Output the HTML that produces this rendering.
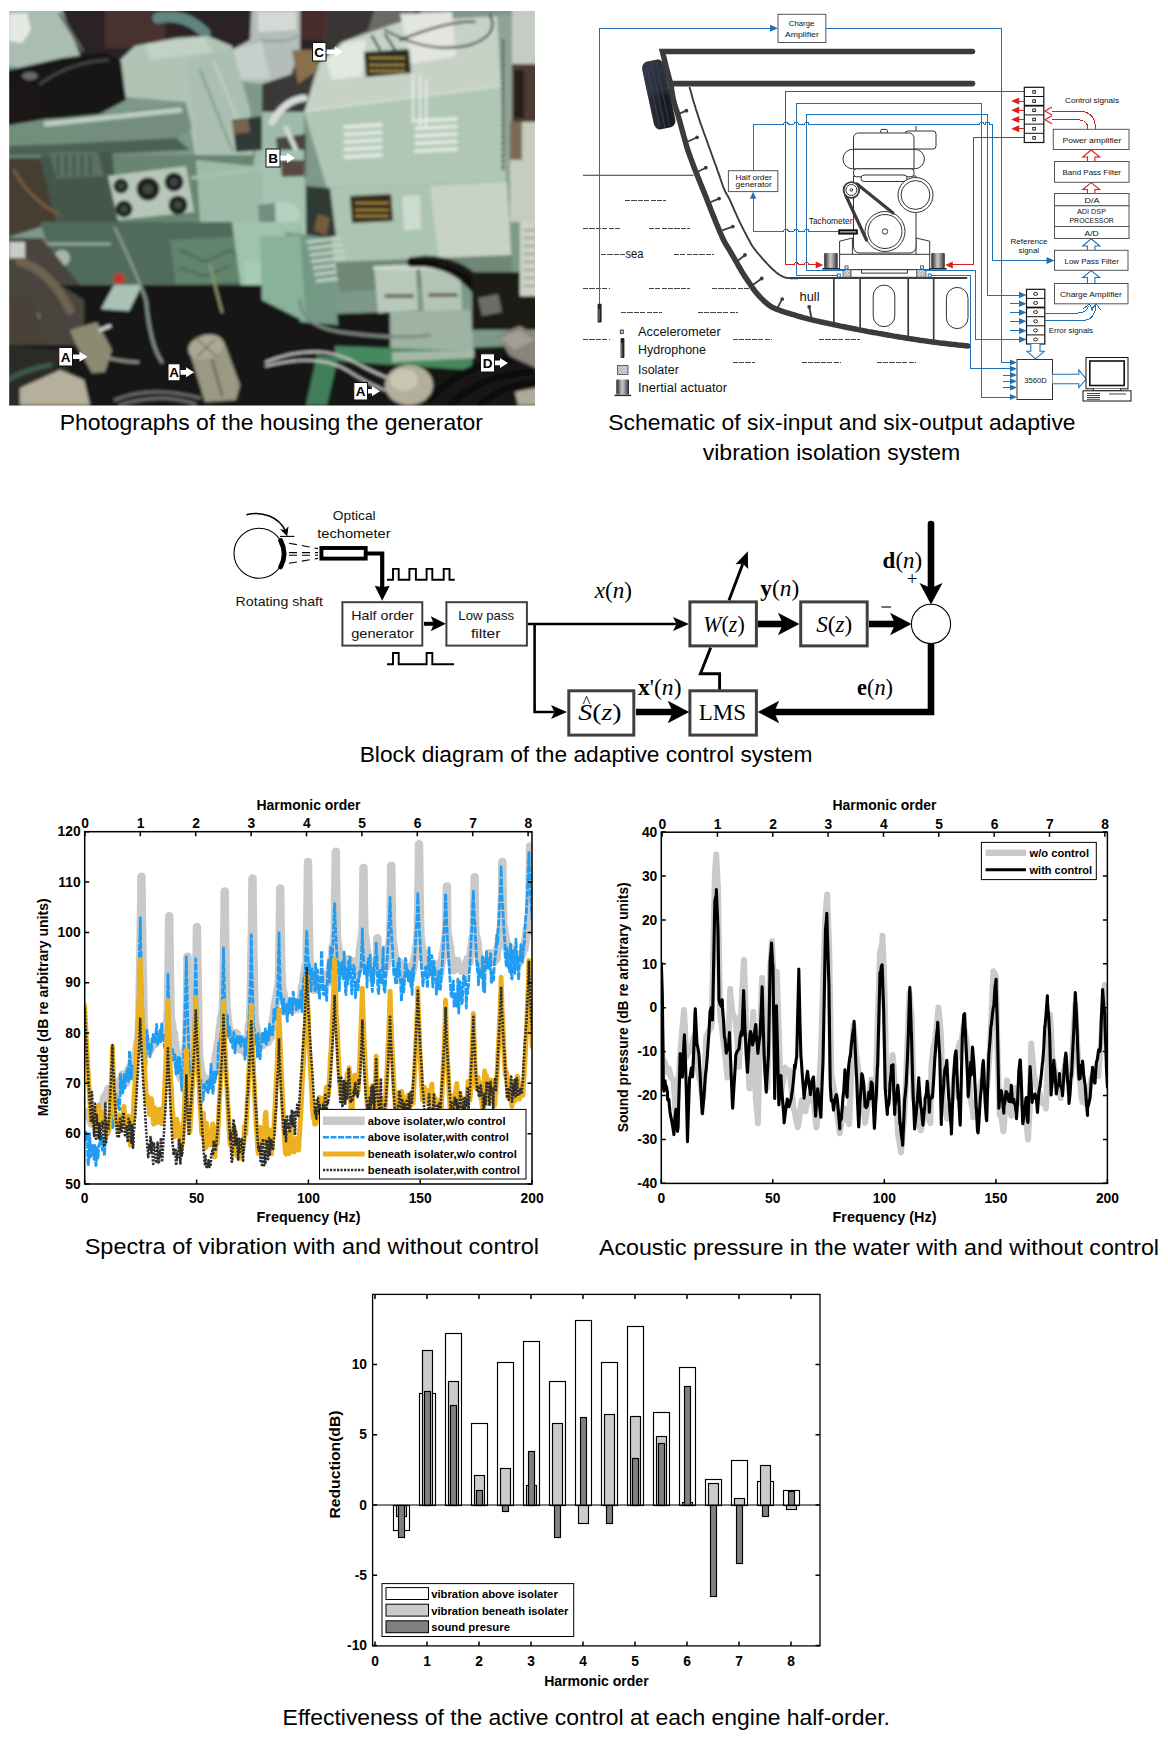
<!DOCTYPE html>
<html lang="en"><head><meta charset="utf-8"><title>Adaptive vibration isolation figure</title>
<style>
html,body{margin:0;padding:0;background:#fff;}
body{width:1168px;height:1738px;overflow:hidden;font-family:"Liberation Sans",sans-serif;}
svg{display:block}
text{font-family:"Liberation Sans",sans-serif;}
.ser{font-family:"Liberation Serif",serif;}
</style></head><body>
<svg width="1168" height="1738" viewBox="0 0 1168 1738">
<rect width="1168" height="1738" fill="#fff"/>
<!-- photo -->
<defs><clipPath id="phclip"><rect x="9.2" y="11" width="525.8" height="394.5"/></clipPath>
<filter id="phb" x="-5%" y="-5%" width="110%" height="110%"><feGaussianBlur stdDeviation="1.7"/><feColorMatrix type="saturate" values="0.92"/></filter>
<filter id="phb2" x="-5%" y="-5%" width="110%" height="110%"><feGaussianBlur stdDeviation="0.8"/></filter></defs>
<g clip-path="url(#phclip)">
<g filter="url(#phb)">
<rect x="0.0" y="0.0" width="545.0" height="415.0" fill="#7b9a88" />
<rect x="50.0" y="0.0" width="370.0" height="62.0" fill="#2c2426" />
<rect x="105.0" y="8.0" width="60.0" height="40.0" fill="#48302f" />
<rect x="300.0" y="8.0" width="30.0" height="32.0" fill="#4a2c2c" />
<polygon points="328.0,8.0 420.0,8.0 400.0,24.0 345.0,42.0 322.0,50.0" fill="#6a6a66" />
<polygon points="328.0,8.0 375.0,8.0 368.0,30.0 340.0,44.0 322.0,50.0" fill="#3a3434" />
<polygon points="0.0,0.0 58.0,0.0 80.0,55.0 72.0,78.0 30.0,72.0 0.0,62.0" fill="#a9bdb0" />
<polygon points="9.0,14.0 27.0,13.0 31.0,30.0 22.0,43.0 9.0,41.0" fill="#e2eae3" />
<path d="M60 14 L82 50" fill="none" stroke="#5a6a60" stroke-width="3.0" stroke-linecap="round" stroke-linejoin="round" />
<path d="M158 18 Q185 12 205 33" fill="none" stroke="#5e8580" stroke-width="11.0" stroke-linecap="round" stroke-linejoin="round" />
<polygon points="252.0,0.0 300.0,0.0 300.0,50.0 290.0,75.0 262.0,84.0 232.0,80.0 228.0,52.0 250.0,40.0" fill="#b3bdb8" />
<polygon points="258.0,12.0 296.0,12.0 296.0,30.0 258.0,32.0" fill="#d3dad6" />
<path d="M262 40 Q285 44 298 36" fill="none" stroke="#8d9893" stroke-width="2.0" stroke-linecap="round" stroke-linejoin="round" />
<polygon points="232.0,50.0 262.0,42.0 270.0,78.0 236.0,80.0" fill="#c6cfca" />
<polygon points="262.0,84.0 292.0,74.0 300.0,50.0 318.0,62.0 304.0,112.0 262.0,112.0" fill="#3a3838" />
<polygon points="292.0,50.0 314.0,50.0 318.0,70.0 298.0,84.0" fill="#8c6e4a" />
<polygon points="118.0,62.0 135.0,46.0 176.0,38.0 208.0,36.0 232.0,46.0 250.0,110.0 253.0,166.0 214.0,172.0 196.0,160.0 186.0,102.0 126.0,97.0" fill="#afc4b5" />
<polygon points="145.0,44.0 205.0,37.0 212.0,52.0 150.0,60.0" fill="#c0d2c4" />
<polygon points="186.0,60.0 232.0,50.0 250.0,112.0 252.0,165.0 215.0,170.0 198.0,158.0" fill="#a9c0b0" />
<path d="M200 70 L232 150" fill="none" stroke="#86a090" stroke-width="2.5" stroke-linecap="round" stroke-linejoin="round" />
<path d="M214 62 L246 140" fill="none" stroke="#b9cdbd" stroke-width="3.0" stroke-linecap="round" stroke-linejoin="round" />
<polygon points="0.0,72.0 40.0,63.0 62.0,58.0 106.0,52.0 121.0,61.0 126.0,100.0 96.0,116.0 46.0,119.0 0.0,127.0" fill="#141414" />
<path d="M40 84 Q70 62 108 60" fill="none" stroke="#4a4a4a" stroke-width="2.5" stroke-linecap="round" stroke-linejoin="round" />
<ellipse cx="30.0" cy="76.0" rx="8.0" ry="4.0" fill="#6a6a6a" />
<polygon points="0.0,90.0 36.0,84.0 44.0,118.0 0.0,126.0" fill="#1b1412" />
<polygon points="0.0,128.0 46.0,120.0 100.0,114.0 186.0,104.0 192.0,128.0 175.0,140.0 60.0,146.0 0.0,150.0" fill="#728f7d" />
<path d="M46 124 L180 110" fill="none" stroke="#bcd0c2" stroke-width="5.0" stroke-linecap="round" stroke-linejoin="round" />
<polygon points="0.0,146.0 60.0,144.0 176.0,138.0 190.0,150.0 0.0,160.0" fill="#4a6254" />
<rect x="0.0" y="155.0" width="300.0" height="70.0" fill="#65856f" />
<polygon points="40.0,156.0 112.0,152.0 120.0,236.0 56.0,238.0" fill="#42574a" />
<polygon points="50.0,152.0 98.0,152.0 104.0,176.0 56.0,178.0" fill="#587262" />
<path d="M58 156 V174 M66 156 V174 M74 156 V174 M82 156 V174 M90 156 V174" fill="none" stroke="#3f5548" stroke-width="2.5" stroke-linecap="round" stroke-linejoin="round" />
<polygon points="196.0,160.0 253.0,166.0 262.0,112.0 304.0,112.0 300.0,222.0 200.0,222.0" fill="#9bbca8" />
<polygon points="232.0,120.0 262.0,116.0 262.0,150.0 236.0,152.0" fill="#2f3a36" />
<polygon points="232.0,122.0 248.0,118.0 250.0,132.0 234.0,134.0" fill="#7a6250" />
<polygon points="0.0,158.0 40.0,158.0 56.0,222.0 0.0,240.0" fill="#463c30" />
<path d="M14 170 Q30 200 60 215" fill="none" stroke="#7a5a40" stroke-width="3.0" stroke-linecap="round" stroke-linejoin="round" />
<polygon points="108.0,176.0 186.0,166.0 194.0,212.0 118.0,220.0" fill="#b5c8b8" />
<ellipse cx="121.0" cy="186.0" rx="7.5" ry="7.5" fill="#1a1e1c" />
<ellipse cx="121.0" cy="186.0" rx="3.4" ry="3.4" fill="#3d4642" />
<ellipse cx="148.0" cy="189.0" rx="11.5" ry="11.5" fill="#1a1e1c" />
<ellipse cx="148.0" cy="189.0" rx="5.2" ry="5.2" fill="#3d4642" />
<ellipse cx="174.0" cy="182.0" rx="9.5" ry="9.5" fill="#1a1e1c" />
<ellipse cx="174.0" cy="182.0" rx="4.3" ry="4.3" fill="#3d4642" />
<ellipse cx="124.0" cy="209.0" rx="8.5" ry="8.5" fill="#1a1e1c" />
<ellipse cx="124.0" cy="209.0" rx="3.8" ry="3.8" fill="#3d4642" />
<ellipse cx="178.0" cy="205.0" rx="9.5" ry="9.5" fill="#1a1e1c" />
<ellipse cx="178.0" cy="205.0" rx="4.3" ry="4.3" fill="#3d4642" />
<path d="M192 178 L262 168" fill="none" stroke="#a9c2b0" stroke-width="3.0" stroke-linecap="round" stroke-linejoin="round" />
<polygon points="320.0,62.0 342.0,42.0 400.0,22.0 500.0,16.0 508.0,84.0 305.0,111.0" fill="#c6d2c5" />
<polygon points="326.0,60.0 346.0,42.0 366.0,40.0 362.0,76.0 332.0,80.0" fill="#e0e8e0" />
<polygon points="400.0,14.0 452.0,12.0 456.0,56.0 412.0,64.0" fill="#e3e5df" />
<polygon points="364.0,52.0 409.0,49.0 411.0,73.0 366.0,77.0" fill="#2c291b" />
<path d="M370 58 H405 M370 65 H405 M370 71 H405" fill="none" stroke="#a89338" stroke-width="2.2" stroke-linecap="round" stroke-linejoin="round" stroke-dasharray="4 2"/>
<polygon points="304.0,111.0 508.0,84.0 507.0,181.0 327.0,188.0" fill="#aec7b5" />
<path d="M306 111 L507 85" fill="none" stroke="#cfdccf" stroke-width="2.5" stroke-linecap="round" stroke-linejoin="round" />
<path d="M345.0 127.0 L381.0 125.0" fill="none" stroke="#e0e9df" stroke-width="4.0" stroke-linecap="round" stroke-linejoin="round" />
<path d="M345.0 134.5 L381.0 132.5" fill="none" stroke="#e0e9df" stroke-width="4.0" stroke-linecap="round" stroke-linejoin="round" />
<path d="M345.0 142.0 L381.0 140.0" fill="none" stroke="#e0e9df" stroke-width="4.0" stroke-linecap="round" stroke-linejoin="round" />
<path d="M345.0 149.5 L381.0 147.5" fill="none" stroke="#e0e9df" stroke-width="4.0" stroke-linecap="round" stroke-linejoin="round" />
<path d="M345.0 157.0 L381.0 155.0" fill="none" stroke="#e0e9df" stroke-width="4.0" stroke-linecap="round" stroke-linejoin="round" />
<path d="M416.0 121.0 L456.0 119.0" fill="none" stroke="#e0e9df" stroke-width="4.0" stroke-linecap="round" stroke-linejoin="round" />
<path d="M416.0 128.5 L456.0 126.5" fill="none" stroke="#e0e9df" stroke-width="4.0" stroke-linecap="round" stroke-linejoin="round" />
<path d="M416.0 136.0 L456.0 134.0" fill="none" stroke="#e0e9df" stroke-width="4.0" stroke-linecap="round" stroke-linejoin="round" />
<path d="M416.0 143.5 L456.0 141.5" fill="none" stroke="#e0e9df" stroke-width="4.0" stroke-linecap="round" stroke-linejoin="round" />
<path d="M416.0 151.0 L456.0 149.0" fill="none" stroke="#e0e9df" stroke-width="4.0" stroke-linecap="round" stroke-linejoin="round" />
<path d="M413 75 V122 M420 75 V126 M426 80 V128" fill="none" stroke="#e8ece6" stroke-width="2.0" stroke-linecap="round" stroke-linejoin="round" />
<path d="M385 30 Q430 55 470 45 Q500 35 490 15 M400 40 Q450 20 475 22 M385 34 L395 50 M372 36 L380 50" fill="none" stroke="#1e1a18" stroke-width="2.0" stroke-linecap="round" stroke-linejoin="round" />
<polygon points="497.0,16.0 512.0,14.0 512.0,180.0 506.0,182.0" fill="#8fa394" />
<path d="M503 40 V170" fill="none" stroke="#4f5f55" stroke-width="2.5" stroke-linecap="round" stroke-linejoin="round" stroke-dasharray="3 3"/>
<rect x="512.0" y="0.0" width="33.0" height="64.0" fill="#c4ccc2" />
<rect x="512.0" y="64.0" width="33.0" height="58.0" fill="#4d3a2e" />
<rect x="514.0" y="70.0" width="10.0" height="48.0" fill="#2a1c18" />
<rect x="510.0" y="122.0" width="35.0" height="100.0" fill="#c6ccbe" />
<rect x="510.0" y="122.0" width="12.0" height="38.0" fill="#7a6a55" />
<polygon points="327.0,188.0 507.0,181.0 512.0,275.0 335.0,272.0" fill="#aac4b1" />
<polygon points="430.0,186.0 507.0,182.0 512.0,270.0 440.0,268.0" fill="#c8d3c6" />
<polygon points="350.0,196.0 391.0,194.0 393.0,221.0 352.0,223.0" fill="#3a2b18" />
<path d="M356 203 H388 M356 210 H388 M356 216 H388" fill="none" stroke="#a58a3a" stroke-width="2.2" stroke-linecap="round" stroke-linejoin="round" />
<polygon points="402.0,196.0 420.0,195.0 421.0,229.0 404.0,231.0" fill="#cddccf" />
<polygon points="306.0,186.0 330.0,188.0 336.0,236.0 306.0,240.0" fill="#2e3a34" />
<polygon points="276.0,138.0 306.0,134.0 306.0,178.0 280.0,180.0" fill="#4a4540" />
<path d="M272 122 Q285 100 304 98" fill="none" stroke="#d5ddd7" stroke-width="7.0" stroke-linecap="round" stroke-linejoin="round" />
<path d="M286 128 L296 150" fill="none" stroke="#cfd8d2" stroke-width="5.0" stroke-linecap="round" stroke-linejoin="round" />
<polygon points="262.0,150.0 304.0,150.0 306.0,236.0 262.0,236.0" fill="#a2c4b0" />
<polygon points="280.0,160.0 304.0,160.0 304.0,176.0 282.0,177.0" fill="#5a4a40" />
<ellipse cx="282.0" cy="214.0" rx="18.0" ry="12.0" fill="#b5d2c0" />
<polygon points="258.0,205.0 275.0,203.0 276.0,230.0 260.0,232.0" fill="#6f8f7e" />
<polygon points="318.0,214.0 330.0,218.0 326.0,236.0 314.0,230.0" fill="#7a5a3a" />
<polygon points="40.0,222.0 300.0,222.0 300.0,285.0 60.0,285.0" fill="#4d6c5a" />
<polygon points="170.0,240.0 250.0,236.0 250.0,282.0 176.0,284.0" fill="#5f846c" />
<path d="M180 250 L205 262 L230 250 L245 262 M180 268 L205 276 L230 266" fill="none" stroke="#486856" stroke-width="2.0" stroke-linecap="round" stroke-linejoin="round" />
<polygon points="232.0,222.0 300.0,222.0 296.0,312.0 244.0,310.0" fill="#9cc4ac" />
<polygon points="244.0,262.0 272.0,262.0 270.0,312.0 248.0,312.0" fill="#a5ccb4" />
<path d="M40 244 H110" fill="none" stroke="#9ab0a2" stroke-width="2.5" stroke-linecap="round" stroke-linejoin="round" />
<ellipse cx="62.0" cy="258.0" rx="8.0" ry="8.0" fill="#a8b5a8" />
<polygon points="0.0,238.0 42.0,238.0 84.0,290.0 84.0,345.0 0.0,345.0" fill="#4a453c" />
<rect x="9.0" y="242.0" width="16.0" height="16.0" fill="#c5cdc5" />
<path d="M20 262 Q50 270 70 310" fill="none" stroke="#6e6250" stroke-width="9.0" stroke-linecap="round" stroke-linejoin="round" />
<ellipse cx="30.0" cy="318.0" rx="10.0" ry="8.0" fill="#9a9382" />
<polygon points="0.0,300.0 30.0,296.0 50.0,345.0 0.0,350.0" fill="#4a4238" />
<polygon points="60.0,285.0 300.0,285.0 300.0,315.0 390.0,312.0 390.0,350.0 545.0,345.0 545.0,415.0 0.0,415.0 0.0,345.0 84.0,345.0 84.0,300.0" fill="#191919" />
<polygon points="114.0,285.0 142.0,285.0 129.0,311.0 101.0,309.0" fill="#a9c2b5" />
<ellipse cx="119.0" cy="279.0" rx="6.0" ry="6.0" fill="#c0302a" />
<path d="M115 228 Q135 270 146 300 Q150 345 162 362" fill="none" stroke="#84958a" stroke-width="3.0" stroke-linecap="round" stroke-linejoin="round" />
<path d="M210 265 Q216 290 222 312" fill="none" stroke="#8a9a6a" stroke-width="2.5" stroke-linecap="round" stroke-linejoin="round" />
<polygon points="70.0,330.0 97.0,322.0 112.0,350.0 105.0,372.0 92.0,373.0 75.0,343.0" fill="#8d8a70" />
<path d="M100 330 L110 326" fill="none" stroke="#d8dcd5" stroke-width="3.0" stroke-linecap="round" stroke-linejoin="round" />
<path d="M108 358 Q125 362 138 362" fill="none" stroke="#9a9a90" stroke-width="2.5" stroke-linecap="round" stroke-linejoin="round" />
<polygon points="189.0,350.0 224.0,342.0 240.0,385.0 236.0,400.0 205.0,402.0" fill="#9a9a80" />
<ellipse cx="206.0" cy="347.0" rx="18.0" ry="12.0" fill="#a9a992" transform="rotate(-15 206 347)"/>
<path d="M196 338 L216 356 M198 356 L214 340" fill="none" stroke="#6f6f5c" stroke-width="1.5" stroke-linecap="round" stroke-linejoin="round" />
<path d="M212 360 L222 395" fill="none" stroke="#5a5a48" stroke-width="2.0" stroke-linecap="round" stroke-linejoin="round" />
<polygon points="0.0,345.0 60.0,350.0 84.0,405.0 0.0,405.0" fill="#2c2b26" />
<polygon points="20.0,388.0 60.0,370.0 84.0,380.0 90.0,405.0 20.0,405.0" fill="#b5b09a" />
<path d="M0 385 Q20 370 50 365" fill="none" stroke="#3a5a48" stroke-width="5.0" stroke-linecap="round" stroke-linejoin="round" />
<path d="M115 400 Q150 385 200 398 M120 405 Q160 392 195 404" fill="none" stroke="#6d6d6a" stroke-width="3.0" stroke-linecap="round" stroke-linejoin="round" />
<polygon points="285.0,232.0 330.0,238.0 338.0,325.0 300.0,322.0" fill="#6f9a84" />
<polygon points="260.0,236.0 300.0,236.0 306.0,322.0 262.0,300.0" fill="#86b29a" />
<path d="M308.0 242.0 L340.0 238.0" fill="none" stroke="#c3d3c5" stroke-width="3.2" stroke-linecap="round" stroke-linejoin="round" />
<path d="M309.5 248.5 L341.5 244.5" fill="none" stroke="#c3d3c5" stroke-width="3.2" stroke-linecap="round" stroke-linejoin="round" />
<path d="M311.0 255.0 L343.0 251.0" fill="none" stroke="#c3d3c5" stroke-width="3.2" stroke-linecap="round" stroke-linejoin="round" />
<path d="M312.5 261.5 L344.5 257.5" fill="none" stroke="#c3d3c5" stroke-width="3.2" stroke-linecap="round" stroke-linejoin="round" />
<path d="M314.0 268.0 L346.0 264.0" fill="none" stroke="#c3d3c5" stroke-width="3.2" stroke-linecap="round" stroke-linejoin="round" />
<path d="M315.5 274.5 L347.5 270.5" fill="none" stroke="#c3d3c5" stroke-width="3.2" stroke-linecap="round" stroke-linejoin="round" />
<path d="M317.0 281.0 L349.0 277.0" fill="none" stroke="#c3d3c5" stroke-width="3.2" stroke-linecap="round" stroke-linejoin="round" />
<polygon points="335.0,262.0 512.0,255.0 512.0,282.0 340.0,292.0" fill="#6c8775" />
<polygon points="374.0,266.0 416.0,264.0 418.0,310.0 378.0,313.0" fill="#b7c9ba" />
<polygon points="420.0,266.0 460.0,264.0 462.0,310.0 424.0,312.0" fill="#b2c5b5" />
<path d="M386 296 H412 M430 295 H456" fill="none" stroke="#6a6a58" stroke-width="4.0" stroke-linecap="round" stroke-linejoin="round" />
<path d="M374 268 H460" fill="none" stroke="#d5e0d6" stroke-width="2.5" stroke-linecap="round" stroke-linejoin="round" />
<polygon points="390.0,312.0 470.0,310.0 474.0,352.0 392.0,356.0" fill="#9cb4a2" />
<path d="M412 262 Q450 260 472 285 Q492 308 520 318" fill="none" stroke="#0f0f0f" stroke-width="10.0" stroke-linecap="round" stroke-linejoin="round" />
<path d="M440 262 Q470 268 488 290 Q505 312 530 322" fill="none" stroke="#161616" stroke-width="6.0" stroke-linecap="round" stroke-linejoin="round" />
<path d="M420 258 Q455 256 480 280" fill="none" stroke="#1a1a1a" stroke-width="4.0" stroke-linecap="round" stroke-linejoin="round" />
<rect x="472.0" y="272.0" width="73.0" height="58.0" fill="#1c1a18" />
<rect x="520.0" y="222.0" width="25.0" height="74.0" fill="#cdd4c4" />
<path d="M524 230 H540 M524 238 H540 M524 246 H540 M524 254 H540 M524 262 H540 M524 270 H540 M524 278 H540 M524 286 H540" fill="none" stroke="#98a090" stroke-width="2.0" stroke-linecap="round" stroke-linejoin="round" />
<polygon points="478.0,298.0 498.0,294.0 502.0,312.0 482.0,316.0" fill="#6a6e66" />
<polygon points="335.0,346.0 472.0,351.0 472.0,370.0 335.0,361.0" fill="#3f8a5c" />
<polygon points="317.0,355.0 338.0,357.0 327.0,405.0 306.0,405.0" fill="#3a8055" />
<polygon points="392.0,352.0 474.0,350.0 474.0,358.0 392.0,362.0" fill="#a5b8a8" />
<path d="M300 300 Q300 325 340 332 Q400 340 430 335" fill="none" stroke="#7d8a80" stroke-width="3.0" stroke-linecap="round" stroke-linejoin="round" />
<path d="M266 362 Q320 340 360 365 Q385 378 395 380 M266 366 Q320 352 350 372 Q375 388 392 392" fill="none" stroke="#cfd3cc" stroke-width="2.0" stroke-linecap="round" stroke-linejoin="round" />
<ellipse cx="409.0" cy="385.0" rx="24.0" ry="20.0" fill="#b3af98" />
<ellipse cx="404.0" cy="380.0" rx="14.0" ry="11.0" fill="#c8c5b0" />
<polygon points="497.0,335.0 520.0,326.0 545.0,340.0 545.0,372.0 510.0,356.0" fill="#8a857a" />
<polygon points="500.0,338.0 519.0,330.0 535.0,340.0 514.0,350.0" fill="#a39e92" />
<path d="M430 400 Q460 365 510 360 M450 405 Q480 375 530 372 M480 405 Q500 385 540 382" fill="none" stroke="#0c0c0c" stroke-width="7.0" stroke-linecap="round" stroke-linejoin="round" />
<polygon points="515.0,392.0 545.0,386.0 545.0,405.0 518.0,405.0" fill="#b0aa98" />
</g>
</g>
<rect x="312.5" y="42.5" width="13.5" height="18.5" fill="#fff" stroke="#111" stroke-width="1"/><text x="319.2" y="56.5" font-size="13.5" font-weight="bold" text-anchor="middle" fill="#000">C</text><path d="M326.5 49.4 H335.0 V46.8 L343.0 51.8 L335.0 56.8 V54.1 H326.5 Z" fill="#fff"/>
<rect x="266.0" y="149.0" width="14.0" height="18.0" fill="#fff" stroke="#111" stroke-width="1"/><text x="273.0" y="162.8" font-size="13.5" font-weight="bold" text-anchor="middle" fill="#000">B</text><path d="M280.5 155.6 H287.0 V153.0 L295.0 158.0 L287.0 163.0 V160.4 H280.5 Z" fill="#fff"/>
<rect x="58.8" y="347.5" width="13.7" height="18.5" fill="#fff" stroke="#111" stroke-width="1"/><text x="65.7" y="361.6" font-size="13.5" font-weight="bold" text-anchor="middle" fill="#000">A</text><path d="M73.0 354.4 H79.5 V351.8 L87.5 356.8 L79.5 361.8 V359.1 H73.0 Z" fill="#fff"/>
<rect x="168.0" y="363.8" width="12.0" height="17.0" fill="#fff" stroke="#111" stroke-width="1"/><text x="174.0" y="377.1" font-size="13.5" font-weight="bold" text-anchor="middle" fill="#000">A</text><path d="M180.5 369.9 H186.0 V367.3 L194.0 372.3 L186.0 377.3 V374.7 H180.5 Z" fill="#fff"/>
<rect x="353.8" y="382.5" width="13.7" height="17.5" fill="#fff" stroke="#111" stroke-width="1"/><text x="360.6" y="396.1" font-size="13.5" font-weight="bold" text-anchor="middle" fill="#000">A</text><path d="M368.0 388.9 H372.0 V386.2 L380.0 391.2 L372.0 396.2 V393.6 H368.0 Z" fill="#fff"/>
<rect x="480.5" y="353.8" width="14.0" height="18.2" fill="#fff" stroke="#111" stroke-width="1"/><text x="487.5" y="367.7" font-size="13.5" font-weight="bold" text-anchor="middle" fill="#000">D</text><path d="M495.0 360.5 H500.0 V357.9 L508.0 362.9 L500.0 367.9 V365.3 H495.0 Z" fill="#fff"/>
<!-- schematic -->
<defs><linearGradient id="cyl" x1="0" x2="1" y1="0" y2="0"><stop offset="0" stop-color="#222"/><stop offset="0.45" stop-color="#c8c8c8"/><stop offset="0.6" stop-color="#aaa"/><stop offset="1" stop-color="#2a2a2a"/></linearGradient>
<linearGradient id="tire" x1="0" x2="1" y1="0" y2="0"><stop offset="0" stop-color="#2c2f3a"/><stop offset="0.4" stop-color="#20222a"/><stop offset="0.75" stop-color="#17181d"/><stop offset="1" stop-color="#222329"/></linearGradient>
<linearGradient id="tireov" x1="0" x2="0" y1="0" y2="1"><stop offset="0" stop-color="#3a4258" stop-opacity="0.6"/><stop offset="0.45" stop-color="#3a4258" stop-opacity="0.5"/><stop offset="0.55" stop-color="#3a4258" stop-opacity="0"/></linearGradient><pattern id="hatch" width="3" height="3" patternUnits="userSpaceOnUse"><rect width="3" height="3" fill="#ddd"/><path d="M0 0 L3 3 M3 0 L0 3" stroke="#999" stroke-width="0.6"/></pattern></defs>
<path d="M583 175.2 H693.5" stroke="#333" stroke-width="1.1"/>
<path d="M625.0 200.0 H665.5 M583.0 228.0 H620.0 M648.8 228.0 H690.0 M601.0 254.5 H625.0 M673.8 254.5 H713.8 M583.0 288.8 H610.0 M648.8 288.8 H690.0 M712.0 288.8 H750.0 M621.0 312.5 H662.0 M697.5 312.5 H738.0 M583.0 339.5 H610.0 M732.5 339.3 H772.0 M819.0 339.3 H860.0 M732.5 362.0 H755.0 M801.5 362.0 H841.0 M876.5 362.0 H916.0" stroke="#444" stroke-width="1" stroke-dasharray="5.2 1.2" fill="none" shape-rendering="crispEdges"/>
<text x="625.5" y="257.8" font-size="12.5" textLength="18.0" lengthAdjust="spacingAndGlyphs" fill="#111">sea</text>
<g transform="rotate(-12 658.8 94.5)"><rect x="647.8" y="60" width="22" height="69" rx="6" ry="7" fill="url(#tire)"/><rect x="647.8" y="60" width="22" height="69" rx="6" ry="7" fill="url(#tireov)"/><path d="M653 62 V126 M658 61 V128 M663 61 V128" stroke="#3c4152" stroke-width="0.9" fill="none"/></g>
<path d="M972.5 51.4 H662.4 L662.7 52.5 L663.0 53.9 L663.4 55.6 L663.9 57.5 L664.4 59.6 L664.9 61.7 L665.4 63.8 L665.9 65.9 L666.4 68.0 L667.0 70.1 L667.6 72.3 L668.2 74.6 L668.8 76.9 L669.4 79.1 L670.0 81.4 L670.5 83.6 L671.0 85.8 L671.4 88.0 L671.7 90.2 L672.1 92.4 L672.4 94.6 L672.8 96.7 L673.2 98.7 L673.6 100.7 L674.1 102.6 L674.6 104.3 L675.1 106.0 L675.6 107.6 L676.1 109.2 L676.7 110.9 L677.2 112.6 L677.8 114.5 L678.4 116.5 L679.0 118.6 L679.6 120.7 L680.2 122.9 L680.8 125.2 L681.4 127.4 L682.0 129.6 L682.6 131.8 L683.2 134.0 L683.8 136.1 L684.4 138.3 L685.0 140.5 L685.6 142.6 L686.2 144.8 L686.8 146.9 L687.5 149.1 L688.2 151.3 L689.0 153.5 L689.8 155.7 L690.6 157.9 L691.4 160.1 L692.2 162.2 L692.9 164.3 L693.7 166.3 L694.4 168.2 L695.1 170.0 L695.8 171.7 L696.5 173.4 L697.2 175.1 L697.8 176.7 L698.5 178.4 L699.2 180.1 L699.9 181.9 L700.6 183.7 L701.4 185.6 L702.1 187.5 L702.8 189.3 L703.5 191.0 L704.2 192.6 L704.7 194.0 L705.1 195.1 L705.4 195.8 L705.7 196.4 L705.9 196.9 L706.1 197.4 L706.4 198.1 L706.8 199.1 L707.3 200.5 L708.0 202.3 L708.8 204.4 L709.8 206.8 L710.8 209.4 L711.8 212.1 L712.9 214.8 L714.0 217.4 L715.0 220.0 L716.0 222.5 L717.1 225.2 L718.3 227.9 L719.4 230.6 L720.5 233.2 L721.6 235.7 L722.6 238.0 L723.6 240.0 L724.5 241.8 L725.3 243.3 L726.0 244.6 L726.8 245.8 L727.5 246.9 L728.2 248.0 L728.9 249.1 L729.6 250.3 L730.3 251.6 L731.1 252.8 L731.8 254.1 L732.5 255.3 L733.2 256.5 L734.0 257.8 L734.7 259.1 L735.5 260.5 L736.3 261.9 L737.2 263.4 L738.0 264.9 L738.9 266.5 L739.8 268.0 L740.7 269.6 L741.5 271.1 L742.4 272.5 L743.3 273.9 L744.1 275.2 L745.0 276.6 L745.9 277.9 L746.7 279.1 L747.6 280.4 L748.4 281.6 L749.2 282.8 L750.0 284.0 L750.7 285.1 L751.4 286.2 L752.1 287.2 L752.9 288.3 L753.6 289.3 L754.4 290.3 L755.2 291.4 L756.1 292.5 L757.0 293.6 L757.9 294.7 L758.9 295.8 L759.9 296.8 L760.9 297.9 L761.9 298.9 L762.9 299.9 L763.9 300.9 L764.9 301.8 L766.0 302.7 L767.0 303.6 L768.1 304.5 L769.2 305.3 L770.3 306.1 L771.5 306.8 L772.7 307.5 L774.0 308.1 L775.2 308.7 L776.5 309.2 L777.9 309.7 L779.2 310.2 L780.5 310.6 L781.8 311.1 L783.1 311.6 L784.3 312.0 L785.6 312.4 L786.8 312.8 L788.1 313.1 L789.4 313.5 L790.7 313.9 L792.1 314.3 L793.5 314.7 L795.0 315.2 L796.5 315.6 L798.0 316.1 L799.5 316.5 L801.1 317.0 L802.5 317.4 L804.0 317.8 L805.4 318.2 L806.8 318.5 L808.1 318.9 L809.4 319.2 L810.8 319.6 L812.1 319.9 L813.5 320.3 L815.0 320.6 L816.5 320.9 L818.1 321.3 L819.7 321.6 L821.3 322.0 L822.9 322.3 L824.6 322.7 L826.3 323.0 L828.0 323.4 L829.7 323.8 L831.4 324.1 L833.1 324.5 L834.9 324.9 L836.7 325.3 L838.6 325.6 L840.6 326.1 L842.7 326.5 L845.0 327.0 L847.4 327.5 L850.0 328.0 L852.6 328.5 L855.3 329.0 L858.0 329.6 L860.7 330.1 L863.3 330.6 L865.9 331.1 L868.4 331.6 L871.0 332.0 L873.5 332.5 L876.1 332.9 L878.7 333.4 L881.2 333.8 L883.8 334.3 L886.4 334.7 L888.9 335.2 L891.5 335.6 L894.1 336.1 L896.7 336.5 L899.3 337.0 L901.8 337.4 L904.4 337.8 L907.0 338.2 L909.5 338.6 L912.1 339.0 L914.6 339.4 L917.2 339.8 L919.8 340.2 L922.3 340.5 L924.9 340.9 L927.5 341.3 L930.0 341.6 L932.5 342.0 L935.1 342.3 L937.6 342.6 L940.2 343.0 L942.8 343.3 L945.5 343.6 L948.4 343.9 L951.5 344.3 L954.8 344.6 L958.0 345.0 L961.1 345.3 L963.9 345.6 L966.3 345.8 L968.0 346.0" fill="none" stroke="#3b3b3b" stroke-width="5.5" stroke-linejoin="miter" stroke-linecap="round"/>
<path d="M671 83.6 H972.5" stroke="#3b3b3b" stroke-width="5.6" stroke-linecap="round"/>
<path d="M689.5 87.0 L689.9 88.3 L690.4 90.1 L691.0 92.2 L691.6 94.5 L692.3 97.0 L693.0 99.5 L693.7 101.9 L694.4 104.2 L695.1 106.3 L695.7 108.5 L696.4 110.6 L697.1 112.8 L697.8 114.9 L698.5 117.1 L699.2 119.2 L699.9 121.4 L700.6 123.6 L701.4 125.7 L702.2 127.9 L703.0 130.0 L703.7 132.2 L704.5 134.4 L705.3 136.5 L706.1 138.7 L706.9 140.9 L707.6 143.0 L708.4 145.2 L709.2 147.4 L710.0 149.5 L710.8 151.7 L711.5 153.8 L712.3 156.0 L713.1 158.2 L713.9 160.3 L714.6 162.5 L715.4 164.6 L716.2 166.8 L717.0 168.9 L717.7 171.1 L718.5 173.2 L719.3 175.4 L720.0 177.6 L720.8 179.8 L721.5 182.0 L722.3 184.2 L723.0 186.3 L723.8 188.2 L724.5 190.0 L725.2 191.5 L725.8 192.8 L726.5 194.0 L727.1 195.0 L727.8 196.1 L728.5 197.3 L729.2 198.7 L730.1 200.5 L731.1 202.6 L732.1 205.0 L733.3 207.6 L734.4 210.3 L735.7 213.1 L736.9 215.8 L738.1 218.5 L739.3 221.1 L740.5 223.6 L741.8 226.2 L743.1 228.8 L744.4 231.4 L745.7 233.8 L746.9 236.1 L748.0 238.2 L749.0 240.0 L749.8 241.5 L750.4 242.7 L750.9 243.6 L751.4 244.4 L751.8 245.2 L752.3 245.9 L752.8 246.7 L753.5 247.7 L754.3 248.8 L755.2 249.9 L756.1 251.1 L757.1 252.3 L758.1 253.5 L759.1 254.7 L760.2 255.9 L761.2 257.1 L762.2 258.3 L763.3 259.5 L764.4 260.7 L765.5 262.0 L766.6 263.2 L767.7 264.3 L768.8 265.4 L769.8 266.5 L770.8 267.5 L771.8 268.5 L772.8 269.4 L773.7 270.3 L774.7 271.1 L775.6 271.9 L776.5 272.7 L777.5 273.4 L778.5 274.1 L779.4 274.7 L780.4 275.3 L781.4 275.8 L782.4 276.3 L783.3 276.8 L784.3 277.2 L785.2 277.5 L786.1 277.8 L787.0 277.9 L787.9 278.0 L788.7 278.1 L789.5 278.1 L790.4 278.2 L791.2 278.2 L792.0 278.2 L792.8 278.2 L793.7 278.2 L794.6 278.3 L795.4 278.2 L796.2 278.2 L796.9 278.2 L797.5 278.2 L798.0 278.2" fill="none" stroke="#3b3b3b" stroke-width="1.9"/>
<path d="M790 278 H967.2" stroke="#3b3b3b" stroke-width="2.2"/>
<path d="M678.8 113.8 L686.4 110.7" stroke="#3b3b3b" stroke-width="1.8"/><circle cx="686.4" cy="110.7" r="1.9" fill="#3b3b3b"/>
<path d="M688.1 141.5 L697.1 137.3" stroke="#3b3b3b" stroke-width="1.8"/><circle cx="697.1" cy="137.3" r="1.9" fill="#3b3b3b"/>
<path d="M697.8 171.8 L705.8 167.7" stroke="#3b3b3b" stroke-width="1.8"/><circle cx="705.8" cy="167.7" r="1.9" fill="#3b3b3b"/>
<path d="M708.5 203.0 L719.1 198.6" stroke="#3b3b3b" stroke-width="1.8"/><circle cx="719.1" cy="198.6" r="1.9" fill="#3b3b3b"/>
<path d="M722.2 230.4 L732.8 226.6" stroke="#3b3b3b" stroke-width="1.8"/><circle cx="732.8" cy="226.6" r="1.9" fill="#3b3b3b"/>
<path d="M738.1 260.5 L745.0 255.0" stroke="#3b3b3b" stroke-width="1.8"/><circle cx="745.0" cy="255.0" r="1.9" fill="#3b3b3b"/>
<path d="M752.7 285.0 L761.7 278.5" stroke="#3b3b3b" stroke-width="1.8"/><circle cx="761.7" cy="278.5" r="1.9" fill="#3b3b3b"/>
<path d="M777.5 307.6 L782.2 299.1" stroke="#3b3b3b" stroke-width="1.8"/><circle cx="782.2" cy="299.1" r="1.9" fill="#3b3b3b"/>
<path d="M811.7 319.3 L809.2 306.8" stroke="#3b3b3b" stroke-width="1.8"/><circle cx="809.2" cy="306.8" r="1.9" fill="#3b3b3b"/>
<path d="M833.9 278 V324.6" stroke="#3b3b3b" stroke-width="1.7"/>
<path d="M860.1 278 V330.0" stroke="#3b3b3b" stroke-width="1.7"/>
<path d="M908.2 278 V338.4" stroke="#3b3b3b" stroke-width="1.7"/>
<path d="M933.7 278 V342.1" stroke="#3b3b3b" stroke-width="1.7"/>
<rect x="873.2" y="285.1" width="21.6" height="41.6" rx="10.8" fill="none" stroke="#333" stroke-width="1"/>
<rect x="946.4" y="287.4" width="21.6" height="41.2" rx="10.8" fill="none" stroke="#333" stroke-width="1"/>
<text x="799.5" y="300.5" font-size="12.5" textLength="20.0" lengthAdjust="spacingAndGlyphs" fill="#111">hull</text>
<path d="M839.6 254.3 V241.2 L852.4 238 V254.3 M929.7 254.3 V241.2 L916 238 V254.3" fill="none" stroke="#333" stroke-width="1"/>
<rect x="839.6" y="254.3" width="90.1" height="15.4" stroke="#333" stroke-width="1" fill="#fff"/>
<rect x="850.8" y="269.7" width="66.2" height="7.6" stroke="#333" stroke-width="1" fill="#fff"/>
<rect x="861.6" y="269.7" width="45.8" height="3.4" stroke="#333" stroke-width="1" fill="#fff"/>
<path d="M853.5 176 V246 Q853.5 253 860 253 H909 Q916 253 916 246 V176 Z" stroke="#333" stroke-width="1" fill="#fff"/>
<rect x="905" y="131" width="31" height="18" rx="3" stroke="#333" stroke-width="1" fill="#fff"/>
<path d="M916 131 V126" stroke="#333" stroke-width="1"/>
<rect x="880.8" y="129.4" width="6.6" height="4" rx="1" stroke="#333" stroke-width="1" fill="#fff"/>
<rect x="853.5" y="133" width="60.5" height="20" rx="5" stroke="#333" stroke-width="1" fill="#fff"/>
<rect x="843" y="149.3" width="81.4" height="19.5" rx="9.7" stroke="#333" stroke-width="1" fill="#fff"/>
<rect x="853.5" y="149.3" width="60.5" height="19.5" stroke="#333" stroke-width="1" fill="#fff"/>
<rect x="853.5" y="168.8" width="60.5" height="8" rx="3" stroke="#333" stroke-width="1" fill="#fff"/>
<rect x="861" y="175" width="46" height="6.5" rx="3.2" stroke="#333" stroke-width="1" fill="#fff"/>
<circle cx="915.5" cy="195" r="17.5" stroke="#333" stroke-width="1" fill="#fff"/><circle cx="915.5" cy="195" r="14.4" stroke="#333" stroke-width="1" fill="#fff"/>
<circle cx="885" cy="231.5" r="20" stroke="#333" stroke-width="1" fill="#fff"/><circle cx="885" cy="231.5" r="17" stroke="#333" stroke-width="1" fill="#fff"/><circle cx="885" cy="231.5" r="2.7" stroke="#333" stroke-width="1" fill="#fff"/>
<path d="M845.6 195 L866.5 240 M857 184 L893 213" stroke="#3b3b3b" stroke-width="3.2" stroke-linecap="round" fill="none"/>
<circle cx="851.4" cy="190" r="7.8" fill="#fff" stroke="#3b3b3b" stroke-width="1.8"/><circle cx="851.4" cy="190" r="5.5" stroke="#333" stroke-width="1" fill="#fff"/><circle cx="851.4" cy="190" r="1.3" stroke="#333" stroke-width="1" fill="#fff"/>
<rect x="838.2" y="229.3" width="19.6" height="5.3" fill="#111"/><path d="M840 231.9 H856" stroke="#bbb" stroke-width="1.3"/>
<text x="808.7" y="224.0" font-size="8.3" textLength="43.8" lengthAdjust="spacingAndGlyphs" fill="#111">Tachometer</text>
<rect x="824.2" y="253" width="13.5" height="15" rx="1" fill="url(#cyl)"/><path d="M822.4 268.8 H839.5" stroke="#222" stroke-width="1.6"/>
<rect x="931.3" y="253" width="13.5" height="15" rx="1" fill="url(#cyl)"/><path d="M929.5 268.8 H946.6" stroke="#222" stroke-width="1.6"/>
<rect x="843.0" y="269.7" width="7.8" height="7.4" fill="url(#hatch)" stroke="#555" stroke-width="0.8"/>
<rect x="916.8" y="269.7" width="9.1" height="7.4" fill="url(#hatch)" stroke="#555" stroke-width="0.8"/>
<rect x="845.0" y="265.9" width="3" height="3" fill="#fff" stroke="#1f70b4" stroke-width="1"/>
<rect x="837.3" y="274.0" width="3" height="3" fill="#fff" stroke="#1f70b4" stroke-width="1"/>
<rect x="920.5" y="265.9" width="3" height="3" fill="#fff" stroke="#1f70b4" stroke-width="1"/>
<rect x="928.2" y="274.0" width="3" height="3" fill="#fff" stroke="#1f70b4" stroke-width="1"/>
<path d="M599.5 304 V28.3 H771" fill="none" shape-rendering="crispEdges" stroke="#1f70b4" stroke-width="1"/>
<path d="M778.0 28.3 L770.0 31.8 L770.0 24.8 Z" fill="#1f70b4"/>
<path d="M825.8 28.3 H1001.8 V362.5 H1011" fill="none" shape-rendering="crispEdges" stroke="#1f70b4" stroke-width="1"/>
<path d="M837.5 275.3 H796.2 V103.9 H981.8 V397 H1011" fill="none" shape-rendering="crispEdges" stroke="#1f70b4" stroke-width="1"/>
<path d="M845 270.6 H806.6 V114.2 H987.5 V295 H1020" fill="none" shape-rendering="crispEdges" stroke="#1f70b4" stroke-width="1"/>
<path d="M753.1 170.7 V124.6" fill="none" shape-rendering="crispEdges" stroke="#1f70b4" stroke-width="1"/>
<path d="M753.1 124.6 H783.6 A2.3 2.3 0 0 1 788.2 124.6 H793.9 A2.3 2.3 0 0 1 798.5 124.6 H804.3 A2.3 2.3 0 0 1 808.9 124.6 H979.5 A2.3 2.3 0 0 1 984.1 124.6 H985.2 A2.3 2.3 0 0 1 989.8 124.6 H992.5 V260.5 H1047" fill="none" shape-rendering="crispEdges" stroke="#1f70b4" stroke-width="1"/>
<path d="M1054.5 260.5 L1046.5 264.0 L1046.5 257.0 Z" fill="#1f70b4"/>
<path d="M838.0 231.6 H808.9 A2.3 2.3 0 0 0 804.3 231.6 H798.5 A2.3 2.3 0 0 0 793.9 231.6 H788.2 A2.3 2.3 0 0 0 783.6 231.6 H753.1" fill="none" shape-rendering="crispEdges" stroke="#1f70b4" stroke-width="1"/>
<path d="M753.1 231.6 V198" fill="none" shape-rendering="crispEdges" stroke="#1f70b4" stroke-width="1"/>
<path d="M753.1 191.8 L756.4 198.8 L749.9 198.8 Z" fill="#1f70b4"/>
<path d="M923.5 270.9 H975.7 V339.5 H1020" fill="none" shape-rendering="crispEdges" stroke="#1f70b4" stroke-width="1"/>
<path d="M931 275.1 H970.3 V368.8 H1011" fill="none" shape-rendering="crispEdges" stroke="#1f70b4" stroke-width="1"/>
<path d="M1024 91.5 H785.9 V264.9  H793.9 A2.3 2.3 0 0 1 798.5 264.9 H804.3 A2.3 2.3 0 0 1 808.9 264.9 H816.0" fill="none" shape-rendering="crispEdges" stroke="#d8201f" stroke-width="1"/>
<path d="M823.2 264.9 L815.7 268.4 L815.7 261.4 Z" fill="#d8201f"/>
<path d="M1024 137 H973.7 V264.9 H952" fill="none" shape-rendering="crispEdges" stroke="#d8201f" stroke-width="1"/>
<path d="M945.3 264.9 L952.8 261.4 L952.8 268.4 Z" fill="#d8201f"/>
<rect x="1024.3" y="87.3" width="19.5" height="55.2" fill="#fff" stroke="#111" stroke-width="1.2"/>
<rect x="1032.8" y="90.6" width="2.6" height="2.6" fill="#fff" stroke="#111" stroke-width="0.9"/>
<path d="M1024.3 96.5 H1043.8" stroke="#111" stroke-width="1"/>
<rect x="1032.8" y="99.8" width="2.6" height="2.6" fill="#fff" stroke="#111" stroke-width="0.9"/>
<path d="M1024.3 105.7 H1043.8" stroke="#111" stroke-width="1.8"/>
<rect x="1032.8" y="109.0" width="2.6" height="2.6" fill="#fff" stroke="#111" stroke-width="0.9"/>
<path d="M1024.3 114.9 H1043.8" stroke="#111" stroke-width="1"/>
<rect x="1032.8" y="118.2" width="2.6" height="2.6" fill="#fff" stroke="#111" stroke-width="0.9"/>
<path d="M1024.3 124.1 H1043.8" stroke="#111" stroke-width="1"/>
<rect x="1032.8" y="127.4" width="2.6" height="2.6" fill="#fff" stroke="#111" stroke-width="0.9"/>
<path d="M1024.3 133.3 H1043.8" stroke="#111" stroke-width="1"/>
<rect x="1032.8" y="136.6" width="2.6" height="2.6" fill="#fff" stroke="#111" stroke-width="0.9"/>
<path d="M1024 101.0 H1018" fill="none" shape-rendering="crispEdges" stroke="#d8201f" stroke-width="1"/>
<path d="M1011.2 101.0 L1019.2 97.5 L1019.2 104.5 Z" fill="#d8201f"/>
<path d="M1024 110.2 H1018" fill="none" shape-rendering="crispEdges" stroke="#d8201f" stroke-width="1"/>
<path d="M1011.2 110.2 L1019.2 106.7 L1019.2 113.7 Z" fill="#d8201f"/>
<path d="M1024 119.5 H1018" fill="none" shape-rendering="crispEdges" stroke="#d8201f" stroke-width="1"/>
<path d="M1011.2 119.5 L1019.2 116.0 L1019.2 123.0 Z" fill="#d8201f"/>
<path d="M1024 128.8 H1018" fill="none" shape-rendering="crispEdges" stroke="#d8201f" stroke-width="1"/>
<path d="M1011.2 128.8 L1019.2 125.3 L1019.2 132.3 Z" fill="#d8201f"/>
<text x="1065.0" y="103.0" font-size="8.0" textLength="54.0" lengthAdjust="spacingAndGlyphs" fill="#111">Control signals</text>
<path d="M1095.5 129 C1095.5 117 1089 111 1078 111 H1051 M1088 129 C1088 123 1084 119.7 1078 119.7 H1051" fill="none" shape-rendering="crispEdges" stroke="#d8201f" stroke-width="1"/>
<path d="M1052 107.0 L1045 111.0 L1052 115.0" fill="#fff" stroke="#d8201f" stroke-width="1.1"/>
<path d="M1052 115.7 L1045 119.7 L1052 123.7" fill="#fff" stroke="#d8201f" stroke-width="1.1"/>
<rect x="1026.5" y="289.3" width="18.3" height="54.7" fill="#fff" stroke="#111" stroke-width="1.2"/>
<ellipse cx="1035.6" cy="293.9" rx="2" ry="1.5" fill="#fff" stroke="#111" stroke-width="0.9"/>
<path d="M1026.5 298.4 H1044.8" stroke="#111" stroke-width="1"/>
<ellipse cx="1035.6" cy="303.0" rx="2" ry="1.5" fill="#fff" stroke="#111" stroke-width="0.9"/>
<path d="M1026.5 307.5 H1044.8" stroke="#111" stroke-width="1.8"/>
<ellipse cx="1035.6" cy="312.1" rx="2" ry="1.5" fill="#fff" stroke="#111" stroke-width="0.9"/>
<path d="M1026.5 316.7 H1044.8" stroke="#111" stroke-width="1"/>
<ellipse cx="1035.6" cy="321.3" rx="2" ry="1.5" fill="#fff" stroke="#111" stroke-width="0.9"/>
<path d="M1026.5 325.8 H1044.8" stroke="#111" stroke-width="1"/>
<ellipse cx="1035.6" cy="330.4" rx="2" ry="1.5" fill="#fff" stroke="#111" stroke-width="0.9"/>
<path d="M1026.5 334.9 H1044.8" stroke="#111" stroke-width="1"/>
<ellipse cx="1035.6" cy="339.5" rx="2" ry="1.5" fill="#fff" stroke="#111" stroke-width="0.9"/>
<path d="M1026.5 295.0 L1019.0 298.2 L1019.0 291.8 Z" fill="#1f70b4"/>
<path d="M1010.0 303.8 H1020" fill="none" shape-rendering="crispEdges" stroke="#1f70b4" stroke-width="1"/>
<path d="M1026.5 303.8 L1019.0 307.1 L1019.0 300.6 Z" fill="#1f70b4"/>
<path d="M1010.0 312.5 H1020" fill="none" shape-rendering="crispEdges" stroke="#1f70b4" stroke-width="1"/>
<path d="M1026.5 312.5 L1019.0 315.8 L1019.0 309.2 Z" fill="#1f70b4"/>
<path d="M1010.0 321.3 H1020" fill="none" shape-rendering="crispEdges" stroke="#1f70b4" stroke-width="1"/>
<path d="M1026.5 321.3 L1019.0 324.6 L1019.0 318.1 Z" fill="#1f70b4"/>
<path d="M1010.0 330.8 H1020" fill="none" shape-rendering="crispEdges" stroke="#1f70b4" stroke-width="1"/>
<path d="M1026.5 330.8 L1019.0 334.1 L1019.0 327.6 Z" fill="#1f70b4"/>
<path d="M1026.5 339.5 L1019.0 342.8 L1019.0 336.2 Z" fill="#1f70b4"/>
<text x="1048.8" y="333.0" font-size="8.0" textLength="44.2" lengthAdjust="spacingAndGlyphs" fill="#111">Error signals</text>
<path d="M1044.8 313 H1078 C1083 313 1087 311 1088.5 306 M1044.8 320.5 H1082 C1090 320.5 1095 315 1096 306" fill="none" shape-rendering="crispEdges" stroke="#1f70b4" stroke-width="1"/>
<path d="M1083 309 L1089.5 304 L1093 310.5 M1091 309.5 L1096.5 304 L1100.5 310" fill="none" shape-rendering="crispEdges" stroke="#1f70b4" stroke-width="1"/>
<rect x="1017.0" y="359.5" width="35.5" height="40.0" fill="#fff" stroke="#333" stroke-width="1.0"/>
<text x="1024.3" y="383.0" font-size="8.0" textLength="22.5" lengthAdjust="spacingAndGlyphs" fill="#111">3560D</text>
<path d="M1017.0 362.5 L1010.0 365.5 L1010.0 359.5 Z" fill="#1f70b4"/>
<path d="M1017.0 368.8 L1010.0 371.8 L1010.0 365.8 Z" fill="#1f70b4"/>
<path d="M1002.5 375.0 H1011" fill="none" shape-rendering="crispEdges" stroke="#1f70b4" stroke-width="1"/>
<path d="M1017.0 375.0 L1010.0 378.0 L1010.0 372.0 Z" fill="#1f70b4"/>
<path d="M1002.5 381.3 H1011" fill="none" shape-rendering="crispEdges" stroke="#1f70b4" stroke-width="1"/>
<path d="M1017.0 381.3 L1010.0 384.3 L1010.0 378.3 Z" fill="#1f70b4"/>
<path d="M1002.5 387.5 H1011" fill="none" shape-rendering="crispEdges" stroke="#1f70b4" stroke-width="1"/>
<path d="M1017.0 387.5 L1010.0 390.5 L1010.0 384.5 Z" fill="#1f70b4"/>
<path d="M1017.0 397.0 L1010.0 400.0 L1010.0 394.0 Z" fill="#1f70b4"/>
<path d="M1087.5 161.5 V157.0 H1082.7 L1091.2 150.0 L1099.7 157.0 H1094.9 V161.5" fill="#fff" stroke="#d8201f" stroke-width="1.1"/>
<path d="M1087.5 193.5 V189.5 H1082.7 L1091.2 182.6 L1099.7 189.5 H1094.9 V193.5" fill="#fff" stroke="#d8201f" stroke-width="1.1"/>
<path d="M1087.5 250.3 V246.0 H1082.7 L1091.2 238.8 L1099.7 246.0 H1094.9 V250.3" fill="#fff" stroke="#1f70b4" stroke-width="1.1"/>
<path d="M1087.5 283.5 V277.5 H1082.7 L1091.2 270.6 L1099.7 277.5 H1094.9 V283.5" fill="#fff" stroke="#1f70b4" stroke-width="1.1"/>
<path d="M1030.8 344 V351.3 H1027 L1035.5 358.8 L1044.2 351.3 H1040 V344" fill="#fff" stroke="#1f70b4" stroke-width="1.1"/>
<path d="M1052.5 374.3 H1078.8 V370 L1086.3 379 L1078.8 387.5 V383.8 H1052.5" fill="#fff" stroke="#1f70b4" stroke-width="1.1"/>
<rect x="778.0" y="14.3" width="47.8" height="28.2" fill="#fff" stroke="#555" stroke-width="1.0"/>
<text x="788.8" y="26.3" font-size="8.0" textLength="25.5" lengthAdjust="spacingAndGlyphs" fill="#111">Charge</text>
<text x="785.0" y="36.5" font-size="8.0" textLength="33.8" lengthAdjust="spacingAndGlyphs" fill="#111">Amplifier</text>
<rect x="728.4" y="170.7" width="49.4" height="20.9" fill="#fff" stroke="#555" stroke-width="1.0"/>
<text x="735.5" y="180.0" font-size="8.0" textLength="36.3" lengthAdjust="spacingAndGlyphs" fill="#111">Half order</text>
<text x="735.5" y="187.3" font-size="8.0" textLength="36.3" lengthAdjust="spacingAndGlyphs" fill="#111">generator</text>
<rect x="1053.3" y="129.3" width="75.7" height="20.2" fill="#fff" stroke="#555" stroke-width="1.0"/>
<text x="1062.5" y="142.5" font-size="8.0" textLength="58.8" lengthAdjust="spacingAndGlyphs" fill="#111">Power amplifier</text>
<rect x="1054.5" y="161.5" width="74.5" height="20.8" fill="#fff" stroke="#555" stroke-width="1.0"/>
<text x="1062.5" y="174.8" font-size="8.0" textLength="58.5" lengthAdjust="spacingAndGlyphs" fill="#111">Band Pass Filter</text>
<rect x="1054.5" y="193.5" width="74.5" height="12.3" fill="#fff" stroke="#555" stroke-width="1.0"/>
<text x="1084.5" y="202.6" font-size="8.0" textLength="15.0" lengthAdjust="spacingAndGlyphs" fill="#111">D/A</text>
<rect x="1054.5" y="205.8" width="74.5" height="20.7" fill="#fff" stroke="#555" stroke-width="1.0"/>
<text x="1077.0" y="214.0" font-size="8.0" textLength="29.0" lengthAdjust="spacingAndGlyphs" fill="#111">ADI DSP</text>
<text x="1069.5" y="222.8" font-size="8.0" textLength="44.3" lengthAdjust="spacingAndGlyphs" fill="#111">PROCESSOR</text>
<rect x="1054.5" y="226.5" width="74.5" height="12.0" fill="#fff" stroke="#555" stroke-width="1.0"/>
<text x="1084.5" y="235.8" font-size="8.0" textLength="14.3" lengthAdjust="spacingAndGlyphs" fill="#111">A/D</text>
<rect x="1054.5" y="250.3" width="73.5" height="20.0" fill="#fff" stroke="#555" stroke-width="1.0"/>
<text x="1064.5" y="263.5" font-size="8.0" textLength="54.3" lengthAdjust="spacingAndGlyphs" fill="#111">Low Pass Filter</text>
<rect x="1054.5" y="283.5" width="73.5" height="20.3" fill="#fff" stroke="#555" stroke-width="1.0"/>
<text x="1060.0" y="296.5" font-size="8.0" textLength="61.8" lengthAdjust="spacingAndGlyphs" fill="#111">Charge Amplifier</text>
<text x="1010.5" y="244.0" font-size="8.0" textLength="37.0" lengthAdjust="spacingAndGlyphs" fill="#111">Reference</text>
<text x="1018.5" y="253.0" font-size="8.0" textLength="20.5" lengthAdjust="spacingAndGlyphs" fill="#111">signal</text>
<rect x="1086" y="357.5" width="42" height="31.3" fill="#fff" stroke="#111" stroke-width="1"/>
<rect x="1089.8" y="361" width="34.4" height="24.5" fill="#fff" stroke="#111" stroke-width="1.6"/>
<path d="M1094 388.8 L1092.5 390.8 H1121.5 L1120 388.8" fill="#fff" stroke="#111" stroke-width="0.9"/>
<rect x="1083" y="390.8" width="48" height="10.2" fill="#fff" stroke="#111" stroke-width="1"/>
<path d="M1087 393.5 H1100 M1087 395.5 H1100 M1087 397.5 H1100 M1087 399.3 H1100 M1109 394 H1126" stroke="#111" stroke-width="0.8"/>
<rect x="597.6" y="303.8" width="4" height="18.7" rx="1" fill="#222"/><path d="M599 309 V321" stroke="#888" stroke-width="1"/>
<rect x="620.3" y="330" width="3" height="3.4" fill="#ccc" stroke="#333" stroke-width="0.9"/>
<rect x="620.6" y="338" width="3.8" height="20" rx="1" fill="#222"/><path d="M621.8 343 V357" stroke="#888" stroke-width="1"/>
<rect x="617.5" y="365.5" width="10.5" height="9" fill="url(#hatch)" stroke="#555" stroke-width="0.9"/>
<rect x="616.3" y="379.5" width="12.7" height="15" rx="1" fill="url(#cyl)"/><path d="M614.5 395.4 H631" stroke="#222" stroke-width="1.4"/>
<text x="638.0" y="335.8" font-size="12.5" textLength="82.8" lengthAdjust="spacingAndGlyphs" fill="#111">Accelerometer</text>
<text x="638.0" y="353.8" font-size="12.5" textLength="68.0" lengthAdjust="spacingAndGlyphs" fill="#111">Hydrophone</text>
<text x="638.0" y="373.8" font-size="12.5" textLength="40.8" lengthAdjust="spacingAndGlyphs" fill="#111">Isolater</text>
<text x="638.0" y="392.0" font-size="12.5" textLength="89.0" lengthAdjust="spacingAndGlyphs" fill="#111">Inertial actuator</text>
<!-- block -->
<circle cx="259" cy="553.3" r="25" fill="none" stroke="#000" stroke-width="1.1"/>
<path d="M246.4 514.8 C262 510.5 279 517 285.5 531" fill="none" stroke="#000" stroke-width="1.5"/>
<path d="M287.2 536.2 L280.0 529.2 L285.1 530.1 L288.5 526.2 Z" fill="#000"/>
<path d="M280 536.4 H294.4" stroke="#000" stroke-width="1.1"/>
<path d="M280.6 540.5 Q287.6 553.6 280.6 567" fill="none" stroke="#000" stroke-width="4.8" stroke-linecap="round"/>
<path d="M289 543.2 L318 548.6 M289 552.6 H318 M289 555.2 H318 M289 563.3 L318 558.4" stroke="#000" stroke-width="1.1" stroke-dasharray="8 5" fill="none"/>
<rect x="321.4" y="548" width="44.3" height="10.6" fill="#fff" stroke="#000" stroke-width="3.9"/>
<path d="M367 553.5 H382.2 V588" fill="none" stroke="#000" stroke-width="4.2" stroke-linejoin="miter"/>
<path d="M382.2 600.8 L374.7 585.8 L382.2 587.3 L389.7 585.8 Z" fill="#000"/>
<path d="M387 579.8 H393 V568.9 H398.7 V579.8 H409.4 V568.9 H415.9 V579.8 H426.6 V568.9 H432.3 V579.8 H443.7 V568.9 H449.5 V579.8 H454.8" fill="none" stroke="#000" stroke-width="1.9"/>
<path d="M387 664.2 H393 V653 H398.7 V664.2 H426.6 V653 H432.3 V664.2 H454" fill="none" stroke="#000" stroke-width="1.9"/>
<rect x="342.4" y="602.2" width="79.9" height="43.4" fill="#fff" stroke="#404040" stroke-width="2"/>
<rect x="446.4" y="602.2" width="80.5" height="43.4" fill="#fff" stroke="#404040" stroke-width="2"/>
<path d="M424 623.8 H434" stroke="#000" stroke-width="4"/>
<path d="M445.8 623.8 L430.8 631.3 L433.8 623.8 L430.8 616.3 Z" fill="#000"/>
<path d="M528 624 H676 M534.6 624 V712 H554" fill="none" stroke="#000" stroke-width="2.6"/>
<path d="M689.0 624.0 L673.0 631.0 L676.5 624.0 L673.0 617.0 Z" fill="#000"/>
<path d="M567.0 712.0 L551.0 719.0 L554.5 712.0 L551.0 705.0 Z" fill="#000"/>
<rect x="689.9" y="601.9" width="66.5" height="44.0" fill="#fff" stroke="#404040" stroke-width="3"/>
<rect x="800.7" y="601.9" width="66.5" height="44.0" fill="#fff" stroke="#404040" stroke-width="3"/>
<rect x="689.9" y="690.8" width="66.5" height="44.3" fill="#fff" stroke="#404040" stroke-width="3"/>
<rect x="568.8" y="690.8" width="65.0" height="44.3" fill="#fff" stroke="#404040" stroke-width="3"/>
<circle cx="931" cy="623.9" r="19.6" fill="#fff" stroke="#000" stroke-width="1.1"/>
<path d="M931 524 V588" stroke="#000" stroke-width="6.6" stroke-linecap="round"/>
<path d="M931.0 604.4 L919.5 582.9 L931.0 587.9 L942.5 582.9 Z" fill="#000"/>
<path d="M758 624 H783" stroke="#000" stroke-width="6.6"/>
<path d="M799.4 624.0 L777.9 635.2 L782.9 624.0 L777.9 612.8 Z" fill="#000"/>
<path d="M869 624 H895" stroke="#000" stroke-width="6.6"/>
<path d="M911.6 624.0 L890.1 635.2 L895.1 624.0 L890.1 612.8 Z" fill="#000"/>
<path d="M931 643.5 V712 H773" fill="none" stroke="#000" stroke-width="6.6" stroke-linejoin="miter"/>
<path d="M757.7 712.0 L779.2 700.8 L774.2 712.0 L779.2 723.2 Z" fill="#000"/>
<path d="M636 712 H673" stroke="#000" stroke-width="6.6"/>
<path d="M689.2 712.0 L667.7 723.2 L672.7 712.0 L667.7 700.8 Z" fill="#000"/>
<path d="M719.6 689.5 V673.7 H700.4 L710.7 647.6" fill="none" stroke="#000" stroke-width="2.9"/>
<path d="M729 600.3 L742.7 564" fill="none" stroke="#000" stroke-width="2.9"/>
<path d="M747.8 551.2 L748.1 569.0 L742.9 563.8 L735.5 564.2 Z" fill="#000"/>
<text x="332.8" y="520.0" font-size="12.9" textLength="42.8" lengthAdjust="spacingAndGlyphs" fill="#111">Optical</text>
<text x="317.2" y="537.8" font-size="12.9" textLength="73.4" lengthAdjust="spacingAndGlyphs" fill="#111">techometer</text>
<text x="235.6" y="606.3" font-size="12.9" textLength="87.4" lengthAdjust="spacingAndGlyphs" fill="#111">Rotating shaft</text>
<text x="351.2" y="620.2" font-size="12.9" textLength="62.6" lengthAdjust="spacingAndGlyphs" fill="#111">Half order</text>
<text x="351.2" y="637.7" font-size="12.9" textLength="62.6" lengthAdjust="spacingAndGlyphs" fill="#111">generator</text>
<text x="458.3" y="620.2" font-size="12.9" textLength="55.9" lengthAdjust="spacingAndGlyphs" fill="#111">Low pass</text>
<text x="471.0" y="637.7" font-size="12.9" textLength="29.5" lengthAdjust="spacingAndGlyphs" fill="#111">filter</text>
<text class="ser" x="594.8" y="597.7" font-size="23.0" textLength="37.2" lengthAdjust="spacingAndGlyphs" fill="#000"><tspan font-style="italic">x</tspan>(<tspan font-style="italic">n</tspan>)</text>
<text class="ser" x="760.3" y="596.3" font-size="23.0" textLength="38.9" lengthAdjust="spacingAndGlyphs" fill="#000"><tspan font-weight="bold">y</tspan>(<tspan font-style="italic">n</tspan>)</text>
<text class="ser" x="882.6" y="567.5" font-size="23.0" textLength="39.6" lengthAdjust="spacingAndGlyphs" fill="#000"><tspan font-weight="bold">d</tspan>(<tspan font-style="italic">n</tspan>)</text>
<text class="ser" x="857.0" y="694.6" font-size="23.0" textLength="36.0" lengthAdjust="spacingAndGlyphs" fill="#000"><tspan font-weight="bold">e</tspan>(<tspan font-style="italic">n</tspan>)</text>
<text class="ser" x="638.0" y="695.0" font-size="23.0" textLength="43.5" lengthAdjust="spacingAndGlyphs" fill="#000"><tspan font-weight="bold">x</tspan>'(<tspan font-style="italic">n</tspan>)</text>
<text class="ser" x="703.3" y="631.8" font-size="23.0" textLength="41.4" lengthAdjust="spacingAndGlyphs" fill="#000"><tspan font-style="italic">W</tspan>(<tspan font-style="italic">z</tspan>)</text>
<text class="ser" x="816.2" y="631.8" font-size="23.0" textLength="35.9" lengthAdjust="spacingAndGlyphs" fill="#000"><tspan font-style="italic">S</tspan>(<tspan font-style="italic">z</tspan>)</text>
<text class="ser" x="698.7" y="719.8" font-size="23.5" textLength="47.3" lengthAdjust="spacingAndGlyphs" fill="#000">LMS</text>
<text class="ser" x="578.3" y="719.8" font-size="23.0" textLength="43.3" lengthAdjust="spacingAndGlyphs" fill="#000"><tspan font-style="italic">S</tspan>(<tspan font-style="italic">z</tspan>)</text>
<text class="ser" x="582.5" y="707" font-size="17" fill="#000">^</text>
<text class="ser" x="912" y="585" font-size="19" text-anchor="middle" fill="#000">+</text>
<path d="M881.4 607 H891" stroke="#000" stroke-width="1.1"/>
<!-- charts -->
<clipPath id="c1clip"><rect x="84.7" y="831.7" width="447.3" height="352.3"/></clipPath>
<g clip-path="url(#c1clip)" fill="none" stroke-linejoin="round" stroke-linecap="round">
<path d="M85.9 1115.6 L86.3 1115.2 L86.8 1113.8 L87.2 1111.9 L87.7 1111.8 L88.1 1115.1 L88.6 1114.4 L89.0 1112.5 L89.5 1115.2 L89.9 1116.4 L90.4 1119.2 L90.8 1119.8 L91.3 1122.4 L91.7 1123.7 L92.2 1123.6 L92.6 1122.5 L93.1 1119.6 L93.5 1118.0 L94.0 1119.0 L94.4 1119.4 L94.8 1117.7 L95.3 1117.9 L95.7 1120.3 L96.2 1120.7 L96.6 1118.5 L97.1 1118.9 L97.5 1116.5 L98.0 1117.0 L98.4 1114.1 L98.9 1111.3 L99.3 1109.9 L99.8 1108.1 L100.2 1108.7 L100.7 1106.6 L101.1 1107.5 L101.6 1107.9 L102.0 1104.3 L102.5 1105.5 L102.9 1103.7 L103.3 1102.8 L103.8 1101.1 L104.2 1097.6 L104.7 1097.6 L105.1 1096.3 L105.6 1096.6 L106.0 1095.2 L106.5 1093.7 L106.9 1094.8 L107.4 1095.2 L107.8 1091.7 L108.3 1088.9 L108.7 1090.3 L109.2 1089.4 L109.6 1090.6 L110.1 1089.9 L110.5 1092.2 L111.0 1094.7 L111.4 1093.6 L111.8 1092.2 L112.3 1089.5 L112.7 1091.2 L113.2 1090.2 L113.5 1088.2 L113.6 1090.6 L113.7 1092.6 L113.8 1094.2 L114.1 1090.2 L114.5 1087.7 L115.0 1088.7 L115.4 1086.0 L115.9 1085.3 L116.3 1082.5 L116.8 1084.5 L117.2 1085.6 L117.7 1084.2 L118.1 1083.4 L118.6 1083.0 L119.0 1086.3 L119.5 1085.3 L119.9 1084.9 L120.3 1083.2 L120.8 1081.5 L121.2 1080.6 L121.7 1077.4 L122.1 1077.3 L122.6 1074.5 L123.0 1075.6 L123.5 1075.1 L123.9 1076.3 L124.4 1076.2 L124.8 1077.5 L125.3 1081.4 L125.7 1081.2 L126.2 1082.7 L126.6 1080.0 L127.1 1076.7 L127.5 1074.9 L128.0 1072.2 L128.4 1070.9 L128.9 1068.3 L129.3 1068.2 L129.7 1071.1 L130.2 1068.3 L130.6 1066.0 L131.1 1067.3 L131.5 1067.6 L132.0 1066.8 L132.4 1067.5 L132.9 1067.7 L133.3 1069.1 L133.8 1065.8 L134.2 1061.6 L134.7 1064.3 L135.1 1059.0 L135.6 1055.0 L136.0 1053.0 L136.5 1050.8 L136.9 1046.5 L137.4 1043.3 L137.8 1040.5 L138.2 1040.6 L138.7 1034.5 L139.1 1023.4 L139.6 1000.4 L140.0 975.4 L140.5 949.3 L140.9 920.4 L141.3 897.3 L141.4 883.8 L141.4 876.7 L141.6 894.5 L141.8 913.3 L142.3 945.3 L142.7 971.2 L143.2 993.4 L143.6 1019.9 L144.1 1033.3 L144.5 1037.6 L145.0 1040.4 L145.4 1045.8 L145.9 1047.3 L146.3 1048.8 L146.7 1050.0 L147.2 1048.1 L147.6 1050.2 L148.1 1049.5 L148.5 1050.9 L149.0 1050.7 L149.4 1051.1 L149.9 1051.2 L150.3 1047.4 L150.8 1047.8 L151.2 1048.2 L151.7 1046.6 L152.1 1042.0 L152.6 1042.4 L153.0 1044.4 L153.5 1043.8 L153.9 1044.2 L154.4 1043.0 L154.8 1044.5 L155.2 1041.7 L155.7 1041.8 L156.1 1039.7 L156.6 1037.3 L157.0 1038.0 L157.5 1038.9 L157.9 1040.2 L158.4 1036.6 L158.8 1037.4 L159.3 1035.6 L159.7 1034.8 L160.2 1034.4 L160.6 1034.0 L161.1 1035.6 L161.5 1035.9 L162.0 1037.2 L162.4 1037.7 L162.9 1036.0 L163.3 1034.9 L163.7 1035.8 L164.2 1036.8 L164.6 1034.3 L165.1 1032.6 L165.5 1034.5 L166.0 1028.3 L166.4 1024.9 L166.9 1022.8 L167.3 1017.7 L167.8 1010.2 L168.2 987.8 L168.7 960.8 L169.0 928.1 L169.1 923.9 L169.2 916.2 L169.3 931.3 L169.6 948.6 L170.0 980.1 L170.5 1003.5 L170.9 1018.0 L171.4 1021.8 L171.8 1022.9 L172.2 1024.8 L172.7 1030.3 L173.1 1031.7 L173.6 1035.4 L174.0 1033.3 L174.5 1042.6 L174.9 1041.9 L175.4 1047.4 L175.8 1050.6 L176.3 1052.1 L176.7 1054.8 L177.2 1057.2 L177.6 1061.9 L178.1 1066.5 L178.5 1069.4 L179.0 1070.6 L179.4 1073.5 L179.9 1075.1 L180.3 1076.1 L180.7 1078.3 L181.2 1076.4 L181.6 1075.7 L182.1 1075.6 L182.5 1072.1 L183.0 1069.5 L183.4 1061.1 L183.9 1062.4 L184.3 1055.7 L184.8 1053.9 L185.2 1048.8 L185.7 1047.1 L186.1 1046.0 L186.6 1028.8 L187.0 1000.0 L187.3 974.2 L187.5 964.5 L187.5 956.8 L187.7 971.6 L187.9 996.7 L188.4 1022.5 L188.8 1046.8 L189.2 1047.9 L189.7 1049.8 L190.1 1054.4 L190.6 1055.9 L191.0 1063.1 L191.5 1061.4 L191.9 1067.4 L192.4 1068.3 L192.8 1069.9 L193.3 1071.8 L193.7 1065.5 L194.2 1060.8 L194.6 1055.4 L195.1 1049.1 L195.5 1025.6 L196.0 1003.3 L196.4 970.3 L196.8 941.1 L196.9 938.0 L196.9 926.9 L197.1 947.1 L197.3 958.8 L197.8 985.3 L198.2 1015.0 L198.6 1038.1 L199.1 1056.0 L199.5 1061.7 L200.0 1060.7 L200.4 1068.2 L200.9 1069.4 L201.3 1071.6 L201.8 1073.5 L202.2 1077.4 L202.7 1080.4 L203.1 1085.5 L203.6 1087.7 L204.0 1084.3 L204.5 1085.0 L204.9 1084.9 L205.4 1088.9 L205.8 1086.7 L206.3 1084.9 L206.7 1085.4 L207.1 1083.2 L207.6 1082.1 L208.0 1078.8 L208.5 1081.0 L208.9 1082.3 L209.4 1083.1 L209.8 1081.5 L210.3 1080.4 L210.7 1080.4 L211.2 1080.5 L211.6 1080.7 L212.1 1078.1 L212.5 1079.1 L213.0 1076.4 L213.4 1073.4 L213.9 1073.4 L214.3 1069.7 L214.8 1064.0 L215.2 1060.9 L215.6 1060.0 L216.1 1054.8 L216.5 1051.8 L217.0 1052.9 L217.4 1047.3 L217.9 1043.0 L218.3 1041.8 L218.8 1041.5 L219.2 1035.2 L219.7 1030.4 L220.1 1025.9 L220.6 1029.5 L221.0 1018.0 L221.5 1021.6 L221.9 1014.9 L222.4 1011.4 L222.8 1008.8 L223.3 996.8 L223.7 974.0 L224.1 943.1 L224.5 915.3 L224.6 914.4 L224.7 891.4 L224.9 912.8 L225.0 925.2 L225.5 960.1 L225.9 982.2 L226.4 1006.2 L226.8 1009.3 L227.3 1015.1 L227.7 1020.2 L228.2 1021.4 L228.6 1028.0 L229.1 1030.2 L229.5 1030.0 L230.0 1034.5 L230.4 1035.4 L230.9 1035.5 L231.3 1034.0 L231.8 1033.4 L232.2 1035.6 L232.6 1036.4 L233.1 1034.4 L233.5 1033.3 L234.0 1033.4 L234.4 1034.3 L234.9 1034.9 L235.3 1035.2 L235.8 1033.7 L236.2 1033.2 L236.7 1033.8 L237.1 1037.2 L237.6 1037.3 L238.0 1041.6 L238.5 1047.1 L238.9 1047.5 L239.4 1047.3 L239.8 1045.8 L240.3 1049.6 L240.7 1048.1 L241.1 1047.8 L241.6 1048.9 L242.0 1047.4 L242.5 1047.6 L242.9 1046.1 L243.4 1047.2 L243.8 1046.1 L244.3 1047.2 L244.7 1052.0 L245.2 1052.0 L245.6 1051.5 L246.1 1049.0 L246.5 1045.0 L247.0 1041.4 L247.4 1041.7 L247.9 1037.6 L248.3 1034.8 L248.8 1028.8 L249.2 1024.1 L249.6 1022.6 L250.1 1021.7 L250.5 1004.0 L251.0 985.8 L251.4 955.5 L251.9 931.7 L252.3 903.9 L252.3 892.3 L252.5 878.5 L252.6 900.8 L252.8 911.4 L253.2 942.4 L253.7 968.2 L254.1 995.3 L254.6 1016.7 L255.0 1021.4 L255.5 1024.9 L255.9 1026.2 L256.4 1031.2 L256.8 1030.2 L257.3 1038.6 L257.7 1039.9 L258.1 1042.7 L258.6 1041.4 L259.0 1039.6 L259.5 1040.6 L259.9 1040.1 L260.4 1040.4 L260.8 1039.3 L261.3 1039.7 L261.7 1043.5 L262.2 1041.4 L262.6 1045.1 L263.1 1042.2 L263.5 1041.6 L264.0 1040.3 L264.4 1040.0 L264.9 1041.7 L265.3 1039.6 L265.8 1041.5 L266.2 1042.8 L266.6 1041.3 L267.1 1041.6 L267.5 1042.4 L268.0 1042.0 L268.4 1039.6 L268.9 1040.2 L269.3 1039.3 L269.8 1038.4 L270.2 1037.6 L270.7 1035.9 L271.1 1036.9 L271.6 1028.8 L272.0 1027.8 L272.5 1022.5 L272.9 1021.2 L273.4 1017.0 L273.8 1017.0 L274.3 1012.3 L274.7 1005.8 L275.2 1009.7 L275.6 1002.5 L276.0 998.5 L276.5 997.7 L276.9 994.1 L277.4 990.2 L277.8 990.6 L278.3 985.7 L278.7 984.9 L279.2 968.2 L279.6 940.7 L280.1 906.8 L280.2 888.6 L280.4 905.7 L280.5 920.1 L281.0 944.6 L281.4 972.6 L281.9 983.0 L282.3 988.0 L282.8 990.5 L283.2 992.4 L283.7 995.6 L284.1 1002.4 L284.5 1001.1 L285.0 1000.2 L285.4 1011.8 L285.9 1009.7 L286.3 1009.6 L286.8 1009.8 L287.2 1008.3 L287.7 1006.2 L288.1 1003.3 L288.6 1003.1 L289.0 1004.0 L289.5 1006.4 L289.9 1007.7 L290.4 1009.7 L290.8 1008.5 L291.3 1010.0 L291.7 1009.7 L292.2 1009.3 L292.6 1008.2 L293.0 1004.2 L293.5 1009.2 L293.9 1009.4 L294.4 1009.5 L294.8 1005.8 L295.3 1006.7 L295.7 1009.0 L296.2 1007.0 L296.6 1009.0 L297.1 1005.3 L297.5 1005.5 L298.0 1004.3 L298.4 1005.0 L298.9 1005.0 L299.3 1003.5 L299.8 1003.5 L300.2 1002.2 L300.7 999.1 L301.1 996.3 L301.5 994.2 L302.0 986.6 L302.4 987.1 L302.9 986.1 L303.3 981.9 L303.8 976.7 L304.2 973.8 L304.7 972.2 L305.1 970.2 L305.6 965.9 L306.0 965.9 L306.5 962.2 L306.9 941.2 L307.4 916.2 L307.8 882.1 L307.8 878.6 L308.0 862.0 L308.1 880.8 L308.3 886.3 L308.7 919.9 L309.2 948.4 L309.6 959.2 L310.0 962.8 L310.5 968.1 L310.9 969.4 L311.4 972.9 L311.8 979.2 L312.3 978.9 L312.7 982.1 L313.2 985.4 L313.6 989.8 L314.1 989.7 L314.5 987.9 L315.0 988.2 L315.4 989.1 L315.9 988.5 L316.3 989.4 L316.8 988.3 L317.2 986.5 L317.7 986.1 L318.1 985.8 L318.5 984.9 L319.0 985.4 L319.4 984.9 L319.9 984.5 L320.3 983.7 L320.8 982.3 L321.2 983.6 L321.7 981.2 L322.1 980.6 L322.6 979.9 L323.0 979.6 L323.5 981.9 L323.9 979.8 L324.4 977.3 L324.8 976.4 L325.3 976.3 L325.7 978.4 L326.2 974.5 L326.6 975.1 L327.0 980.0 L327.5 980.5 L327.9 982.6 L328.4 979.0 L328.8 974.9 L329.3 974.9 L329.7 970.8 L330.2 965.4 L330.6 965.3 L331.1 961.0 L331.5 960.2 L332.0 956.8 L332.4 953.2 L332.9 945.4 L333.3 947.0 L333.8 944.2 L334.2 941.2 L334.7 933.2 L335.1 904.6 L335.5 873.3 L335.6 866.2 L335.8 851.7 L335.9 867.2 L336.0 876.8 L336.4 907.5 L336.9 938.0 L337.3 940.7 L337.8 943.7 L338.2 947.0 L338.7 953.4 L339.1 951.0 L339.6 956.3 L340.0 959.4 L340.5 962.1 L340.9 965.1 L341.4 967.0 L341.8 973.0 L342.3 970.7 L342.7 969.4 L343.2 969.1 L343.6 967.9 L344.0 963.7 L344.5 967.3 L344.9 968.9 L345.4 968.7 L345.8 967.0 L346.3 964.6 L346.7 964.2 L347.2 959.9 L347.6 959.3 L348.1 959.1 L348.5 961.0 L349.0 963.6 L349.4 964.0 L349.9 961.7 L350.3 962.5 L350.8 963.8 L351.2 962.8 L351.7 960.9 L352.1 962.4 L352.6 963.2 L353.0 964.5 L353.4 964.8 L353.9 965.4 L354.3 966.3 L354.8 964.8 L355.2 969.1 L355.7 969.0 L356.1 968.2 L356.6 968.9 L357.0 972.2 L357.5 967.3 L357.9 968.7 L358.4 959.9 L358.8 959.9 L359.3 957.4 L359.7 952.4 L360.2 948.1 L360.6 946.3 L361.1 942.1 L361.5 940.7 L361.9 935.7 L362.4 932.7 L362.8 923.5 L363.3 889.0 L363.4 885.6 L363.5 868.0 L363.7 887.5 L363.7 892.1 L364.2 921.9 L364.6 937.2 L365.1 936.7 L365.5 940.3 L366.0 943.4 L366.4 950.8 L366.9 950.1 L367.3 951.8 L367.8 957.3 L368.2 958.9 L368.7 965.8 L369.1 963.9 L369.6 969.3 L370.0 969.6 L370.4 971.4 L370.9 972.7 L371.3 973.5 L371.8 972.0 L372.2 968.8 L372.7 967.2 L373.1 967.4 L373.6 967.6 L374.0 967.9 L374.5 969.7 L374.9 969.0 L375.4 966.3 L375.8 962.4 L376.3 963.6 L376.7 962.4 L377.2 954.3 L377.2 953.9 L377.4 938.2 L377.5 953.8 L377.6 957.7 L378.1 959.5 L378.5 964.7 L378.9 964.2 L379.4 959.9 L379.8 959.8 L380.3 964.1 L380.7 963.8 L381.2 963.0 L381.6 963.2 L382.1 967.0 L382.5 964.0 L383.0 961.1 L383.4 962.1 L383.9 961.9 L384.3 965.9 L384.8 964.4 L385.2 967.5 L385.7 968.2 L386.1 967.4 L386.6 963.1 L387.0 960.8 L387.4 955.9 L387.9 953.2 L388.3 948.3 L388.8 946.1 L389.2 947.1 L389.7 940.6 L390.1 936.7 L390.6 919.9 L391.0 887.5 L391.1 882.8 L391.3 865.8 L391.4 880.2 L391.5 887.6 L391.9 921.6 L392.4 936.2 L392.8 942.3 L393.3 944.6 L393.7 949.5 L394.2 952.4 L394.6 955.1 L395.1 956.7 L395.5 958.5 L395.9 966.2 L396.4 963.8 L396.8 970.3 L397.3 973.1 L397.7 973.0 L398.2 974.0 L398.6 971.1 L399.1 968.6 L399.5 966.6 L400.0 965.0 L400.4 962.8 L400.9 965.4 L401.3 968.3 L401.8 970.5 L402.2 971.3 L402.7 970.8 L403.1 972.9 L403.6 974.3 L404.0 974.6 L404.4 970.8 L404.9 971.0 L405.3 970.6 L405.8 969.6 L406.2 966.9 L406.7 967.9 L407.1 971.4 L407.6 969.8 L408.0 969.0 L408.5 969.5 L408.9 968.2 L409.4 967.5 L409.8 966.9 L410.3 968.9 L410.7 967.0 L411.2 969.9 L411.6 973.0 L412.1 972.7 L412.5 971.8 L412.9 968.4 L413.4 968.1 L413.8 961.9 L414.3 960.2 L414.7 958.0 L415.2 956.2 L415.6 952.9 L416.1 947.2 L416.5 946.5 L417.0 941.6 L417.4 936.9 L417.9 928.8 L418.3 901.2 L418.8 873.5 L418.9 865.7 L419.0 844.2 L419.2 863.2 L419.2 863.7 L419.7 898.2 L420.1 923.4 L420.6 936.6 L421.0 939.9 L421.4 943.3 L421.9 946.5 L422.3 949.8 L422.8 952.8 L423.2 954.5 L423.7 960.2 L424.1 959.2 L424.6 964.3 L425.0 963.6 L425.5 963.5 L425.9 963.1 L426.4 966.1 L426.8 966.4 L427.3 968.5 L427.7 968.8 L428.2 971.4 L428.6 969.6 L429.1 967.3 L429.5 968.9 L430.0 970.9 L430.4 971.6 L430.8 969.8 L431.3 973.2 L431.7 973.2 L432.2 972.4 L432.6 969.1 L433.1 969.8 L433.5 969.7 L434.0 967.3 L434.4 963.7 L434.9 964.2 L435.3 965.7 L435.8 965.9 L436.2 964.7 L436.7 967.7 L437.1 972.1 L437.6 970.7 L438.0 971.5 L438.5 971.6 L438.9 973.4 L439.3 974.8 L439.8 975.4 L440.2 972.4 L440.7 969.2 L441.1 964.2 L441.6 962.9 L442.0 960.4 L442.5 957.6 L442.9 953.5 L443.4 952.7 L443.8 949.0 L444.3 945.1 L444.7 943.0 L445.2 939.2 L445.6 937.1 L446.1 929.4 L446.5 912.7 L446.6 903.2 L446.8 886.4 L447.0 900.1 L447.4 931.5 L447.8 935.2 L448.3 937.6 L448.7 940.6 L449.2 941.7 L449.6 947.2 L450.1 946.5 L450.5 954.8 L451.0 955.0 L451.4 961.0 L451.9 959.1 L452.3 965.9 L452.8 968.4 L453.2 969.7 L453.7 970.2 L454.1 966.6 L454.6 967.9 L455.0 966.8 L455.5 963.8 L455.9 964.5 L456.3 964.5 L456.8 965.3 L457.2 961.1 L457.7 963.5 L458.1 966.6 L458.6 967.0 L459.0 966.2 L459.5 966.9 L459.9 968.9 L460.4 967.9 L460.8 967.5 L461.3 968.2 L461.7 970.8 L462.2 970.1 L462.6 969.2 L463.1 970.1 L463.5 970.5 L464.0 969.3 L464.4 969.1 L464.8 968.7 L465.3 971.4 L465.7 968.2 L466.2 964.5 L466.6 962.4 L467.1 961.1 L467.5 960.2 L468.0 958.4 L468.4 959.8 L468.9 960.8 L469.3 962.8 L469.8 958.9 L470.2 955.6 L470.7 954.5 L471.1 948.6 L471.6 947.9 L472.0 944.8 L472.5 938.0 L472.9 937.8 L473.3 933.7 L473.8 929.5 L474.2 906.2 L474.4 895.5 L474.6 877.2 L474.7 894.4 L474.7 891.9 L475.1 925.4 L475.6 934.3 L476.0 935.4 L476.5 937.2 L476.9 940.6 L477.4 941.2 L477.8 945.1 L478.3 951.4 L478.7 953.7 L479.2 958.8 L479.6 959.1 L480.1 962.3 L480.5 960.8 L481.0 965.2 L481.4 961.8 L481.8 964.1 L482.3 963.3 L482.7 960.3 L483.2 960.6 L483.6 961.4 L484.1 963.0 L484.5 963.1 L485.0 964.3 L485.4 965.1 L485.9 964.0 L486.3 965.2 L486.8 965.7 L487.2 963.2 L487.7 962.1 L488.1 960.8 L488.6 959.1 L489.0 957.3 L489.5 953.2 L489.9 955.9 L490.3 954.9 L490.8 956.4 L491.2 955.3 L491.7 953.6 L492.1 959.5 L492.6 959.6 L493.0 959.6 L493.5 957.9 L493.9 959.3 L494.4 961.7 L494.8 958.1 L495.3 955.6 L495.7 956.6 L496.2 956.1 L496.6 958.8 L497.1 951.5 L497.5 947.8 L498.0 949.1 L498.4 946.5 L498.9 940.4 L499.3 939.2 L499.7 939.2 L500.2 930.6 L500.6 928.7 L501.1 926.8 L501.5 919.2 L502.0 894.0 L502.2 881.2 L502.3 862.0 L502.4 877.6 L502.5 881.2 L502.9 909.3 L503.3 925.4 L503.8 928.2 L504.2 927.5 L504.7 932.0 L505.1 935.1 L505.6 938.6 L506.0 941.7 L506.5 943.0 L506.9 948.6 L507.4 948.3 L507.8 956.3 L508.2 954.4 L508.7 956.4 L509.1 952.7 L509.6 952.7 L510.0 948.8 L510.5 947.8 L510.9 949.2 L511.4 949.0 L511.8 951.2 L512.3 951.5 L512.7 953.9 L513.2 955.6 L513.6 957.2 L514.1 956.8 L514.5 960.6 L515.0 960.0 L515.4 961.0 L515.9 961.5 L516.3 959.2 L516.7 958.3 L517.2 957.1 L517.6 960.1 L518.1 960.4 L518.5 962.3 L519.0 963.2 L519.4 961.2 L519.9 960.6 L520.3 957.0 L520.8 957.4 L521.2 953.9 L521.7 952.9 L522.1 955.2 L522.6 952.7 L523.0 951.0 L523.5 948.7 L523.9 948.8 L524.4 949.3 L524.8 946.3 L525.2 939.7 L525.7 940.6 L526.1 937.0 L526.6 932.9 L527.0 928.2 L527.5 928.1 L527.9 923.1 L528.4 921.0 L528.8 919.4 L529.3 911.9 L529.7 882.2 L529.9 867.9 L530.1 846.4 L530.2 862.4 L530.2 864.2 L530.6 893.2 L531.1 917.2 L531.5 921.4 L532.0 923.5 L532.4 925.3 L532.9 927.8 L533.3 931.7" stroke="#c9c9c9" stroke-width="8.5"/>
<path d="M84.7 1130.5 L85.1 1138.7 L85.6 1138.3 L86.0 1131.0 L86.5 1140.2 L86.9 1137.0 L87.4 1133.2 L87.8 1158.4 L88.3 1164.6 L88.7 1159.3 L89.2 1156.0 L89.6 1133.7 L90.1 1142.9 L90.5 1156.8 L91.0 1155.5 L91.4 1154.1 L91.9 1149.1 L92.3 1144.0 L92.8 1153.4 L93.2 1152.0 L93.6 1151.8 L94.1 1159.4 L94.5 1147.6 L95.0 1145.3 L95.4 1157.4 L95.9 1165.7 L96.3 1162.3 L96.8 1158.0 L97.2 1148.2 L97.7 1154.6 L98.1 1157.8 L98.6 1146.4 L99.0 1145.2 L99.5 1145.4 L99.9 1139.3 L100.4 1138.5 L100.8 1141.6 L101.3 1140.6 L101.7 1134.6 L102.1 1148.0 L102.6 1150.3 L103.0 1139.1 L103.5 1146.2 L103.9 1148.4 L104.4 1155.7 L104.8 1150.5 L105.3 1142.0 L105.7 1135.2 L106.2 1137.8 L106.6 1130.7 L107.1 1118.9 L107.5 1127.1 L108.0 1131.3 L108.4 1132.9 L108.9 1133.9 L109.3 1131.1 L109.8 1123.2 L110.2 1119.7 L110.6 1126.4 L111.1 1125.5 L111.5 1121.1 L112.0 1117.3 L112.3 1100.6 L112.4 1097.5 L112.5 1109.9 L112.6 1122.2 L112.9 1127.6 L113.3 1126.6 L113.8 1113.0 L114.2 1106.7 L114.7 1109.5 L115.1 1107.7 L115.6 1106.5 L116.0 1094.0 L116.5 1097.4 L116.9 1106.3 L117.4 1106.0 L117.8 1098.1 L118.3 1098.3 L118.7 1108.5 L119.1 1109.4 L119.6 1109.7 L120.0 1097.9 L120.5 1074.1 L120.9 1081.2 L121.4 1089.2 L121.8 1080.9 L122.3 1091.4 L122.7 1093.2 L123.2 1087.0 L123.6 1088.2 L124.1 1074.7 L124.5 1080.4 L125.0 1088.0 L125.4 1074.6 L125.9 1079.4 L126.3 1079.7 L126.8 1070.7 L127.2 1070.0 L127.7 1071.9 L128.1 1068.2 L128.5 1081.4 L129.0 1076.3 L129.4 1051.0 L129.9 1053.3 L130.3 1059.9 L130.8 1072.9 L131.2 1078.8 L131.7 1074.8 L132.1 1076.9 L132.6 1066.2 L133.0 1066.8 L133.5 1072.5 L133.9 1078.2 L134.4 1077.7 L134.8 1065.8 L135.3 1068.3 L135.7 1065.5 L136.2 1055.0 L136.6 1039.3 L137.0 1029.2 L137.5 1016.3 L137.9 1004.8 L138.4 994.1 L138.8 977.5 L139.3 962.7 L139.7 942.9 L140.1 927.8 L140.2 922.7 L140.2 917.9 L140.4 925.2 L140.6 941.4 L141.1 959.1 L141.5 973.6 L142.0 989.0 L142.4 1002.2 L142.9 1013.7 L143.3 1024.2 L143.8 1042.6 L144.2 1051.4 L144.7 1053.1 L145.1 1058.7 L145.5 1066.0 L146.0 1065.2 L146.4 1047.2 L146.9 1030.1 L147.3 1034.1 L147.8 1037.8 L148.2 1043.8 L148.7 1050.3 L149.1 1045.0 L149.6 1050.1 L150.0 1056.6 L150.5 1049.2 L150.9 1044.7 L151.4 1050.6 L151.8 1045.9 L152.3 1040.8 L152.7 1036.5 L153.2 1034.5 L153.6 1041.4 L154.0 1040.0 L154.5 1038.7 L154.9 1042.6 L155.4 1043.3 L155.8 1034.7 L156.3 1028.1 L156.7 1024.4 L157.2 1037.1 L157.6 1046.1 L158.1 1038.2 L158.5 1034.4 L159.0 1035.2 L159.4 1039.7 L159.9 1033.3 L160.3 1030.0 L160.8 1041.7 L161.2 1035.7 L161.7 1024.0 L162.1 1035.4 L162.5 1037.0 L163.0 1038.5 L163.4 1037.4 L163.9 1035.1 L164.3 1046.7 L164.8 1048.2 L165.2 1048.6 L165.7 1045.9 L166.1 1041.2 L166.6 1034.2 L167.0 1017.1 L167.5 999.4 L167.8 984.1 L167.9 978.0 L168.0 974.1 L168.1 980.7 L168.4 990.3 L168.8 1012.7 L169.3 1027.1 L169.7 1042.8 L170.2 1053.3 L170.6 1057.1 L171.0 1060.5 L171.5 1051.6 L171.9 1047.7 L172.4 1050.3 L172.8 1052.9 L173.3 1059.2 L173.7 1060.0 L174.2 1059.0 L174.6 1054.6 L175.1 1057.1 L175.5 1066.9 L176.0 1074.0 L176.4 1062.0 L176.9 1060.4 L177.3 1072.8 L177.8 1064.1 L178.2 1057.5 L178.7 1064.0 L179.1 1072.7 L179.5 1062.6 L180.0 1058.2 L180.4 1068.7 L180.9 1072.1 L181.3 1083.5 L181.8 1090.3 L182.2 1080.2 L182.7 1070.5 L183.1 1071.0 L183.6 1060.6 L184.0 1045.0 L184.5 1029.7 L184.9 1016.8 L185.4 999.4 L185.8 984.5 L186.1 968.3 L186.3 962.3 L186.3 956.9 L186.5 964.9 L186.7 979.3 L187.2 997.3 L187.6 1014.5 L188.0 1029.3 L188.5 1039.1 L188.9 1056.8 L189.4 1069.1 L189.8 1073.3 L190.3 1066.6 L190.7 1076.8 L191.2 1088.0 L191.6 1090.2 L192.1 1078.7 L192.5 1063.7 L193.0 1057.3 L193.4 1042.5 L193.9 1026.8 L194.3 1017.0 L194.8 1002.9 L195.2 981.4 L195.6 963.1 L195.7 962.5 L195.7 958.9 L195.9 963.2 L196.1 975.8 L196.6 991.6 L197.0 1009.5 L197.4 1024.7 L197.9 1038.7 L198.3 1048.5 L198.8 1061.2 L199.2 1079.8 L199.7 1089.0 L200.1 1086.9 L200.6 1088.5 L201.0 1080.4 L201.5 1094.1 L201.9 1102.2 L202.4 1096.0 L202.8 1095.6 L203.3 1099.8 L203.7 1090.5 L204.2 1084.7 L204.6 1086.3 L205.1 1087.0 L205.5 1087.1 L205.9 1088.5 L206.4 1090.0 L206.8 1082.0 L207.3 1081.2 L207.7 1086.7 L208.2 1092.7 L208.6 1088.8 L209.1 1080.2 L209.5 1082.2 L210.0 1088.2 L210.4 1083.2 L210.9 1064.3 L211.3 1068.7 L211.8 1080.5 L212.2 1076.3 L212.7 1092.4 L213.1 1093.4 L213.6 1082.4 L214.0 1074.8 L214.4 1071.9 L214.9 1082.2 L215.3 1080.0 L215.8 1072.6 L216.2 1072.5 L216.7 1071.7 L217.1 1074.2 L217.6 1073.2 L218.0 1059.1 L218.5 1044.6 L218.9 1042.9 L219.4 1050.6 L219.8 1045.9 L220.3 1039.6 L220.7 1034.8 L221.2 1032.5 L221.6 1023.5 L222.1 1007.5 L222.5 992.8 L222.9 978.2 L223.3 958.2 L223.4 955.6 L223.5 948.0 L223.7 956.6 L223.8 963.9 L224.3 985.8 L224.7 1001.7 L225.2 1019.8 L225.6 1029.9 L226.1 1027.7 L226.5 1030.8 L227.0 1026.0 L227.4 1015.6 L227.9 1031.7 L228.3 1036.2 L228.8 1026.6 L229.2 1029.9 L229.7 1026.8 L230.1 1033.0 L230.6 1041.5 L231.0 1041.8 L231.4 1042.5 L231.9 1038.1 L232.3 1041.8 L232.8 1048.0 L233.2 1037.2 L233.7 1032.4 L234.1 1034.3 L234.6 1045.4 L235.0 1052.8 L235.5 1045.9 L235.9 1042.0 L236.4 1043.0 L236.8 1038.6 L237.3 1036.3 L237.7 1042.3 L238.2 1042.7 L238.6 1039.5 L239.1 1043.0 L239.5 1041.4 L239.9 1036.8 L240.4 1043.1 L240.8 1046.2 L241.3 1044.9 L241.7 1039.2 L242.2 1036.7 L242.6 1040.2 L243.1 1040.5 L243.5 1041.8 L244.0 1039.5 L244.4 1040.2 L244.9 1059.1 L245.3 1051.2 L245.8 1038.6 L246.2 1052.8 L246.7 1054.4 L247.1 1052.6 L247.6 1039.4 L248.0 1031.4 L248.4 1040.4 L248.9 1024.8 L249.3 1013.1 L249.8 996.7 L250.2 984.3 L250.7 967.8 L251.1 950.6 L251.1 947.9 L251.3 934.9 L251.4 947.6 L251.6 954.6 L252.0 973.0 L252.5 990.3 L252.9 1005.4 L253.4 1018.7 L253.8 1031.0 L254.3 1028.6 L254.7 1042.9 L255.2 1039.0 L255.6 1034.8 L256.1 1044.3 L256.5 1043.2 L256.9 1042.6 L257.4 1056.7 L257.8 1042.1 L258.3 1033.7 L258.7 1048.7 L259.2 1044.6 L259.6 1049.6 L260.1 1058.9 L260.5 1052.4 L261.0 1047.3 L261.4 1043.6 L261.9 1033.9 L262.3 1036.6 L262.8 1039.7 L263.2 1033.2 L263.7 1041.8 L264.1 1043.5 L264.6 1042.3 L265.0 1037.2 L265.4 1028.8 L265.9 1034.4 L266.3 1044.2 L266.8 1043.2 L267.2 1039.5 L267.7 1035.8 L268.1 1031.7 L268.6 1039.9 L269.0 1033.6 L269.5 1024.4 L269.9 1032.7 L270.4 1029.8 L270.8 1027.1 L271.3 1034.5 L271.7 1031.0 L272.2 1032.6 L272.6 1034.8 L273.1 1030.4 L273.5 1018.2 L274.0 1007.7 L274.4 1016.9 L274.8 1015.2 L275.3 1013.0 L275.7 1019.0 L276.2 1012.7 L276.6 1012.2 L277.1 1002.5 L277.5 997.3 L278.0 981.8 L278.4 961.3 L278.9 943.4 L279.0 932.8 L279.2 942.5 L279.3 952.0 L279.8 967.0 L280.2 984.5 L280.7 998.4 L281.1 993.7 L281.6 998.5 L282.0 1002.6 L282.5 1006.5 L282.9 1013.7 L283.3 1003.3 L283.8 998.9 L284.2 1012.3 L284.7 1012.4 L285.1 1005.7 L285.6 1012.3 L286.0 1008.6 L286.5 1006.1 L286.9 1017.4 L287.4 1021.2 L287.8 1002.1 L288.3 1004.2 L288.7 1012.9 L289.2 1000.7 L289.6 998.1 L290.1 1008.5 L290.5 1013.8 L291.0 1005.9 L291.4 999.3 L291.8 1003.7 L292.3 1014.7 L292.7 1005.2 L293.2 992.1 L293.6 995.6 L294.1 1005.2 L294.5 1004.8 L295.0 1000.6 L295.4 998.0 L295.9 1005.6 L296.3 1009.6 L296.8 1003.2 L297.2 1010.0 L297.7 1007.3 L298.1 1000.2 L298.6 1003.1 L299.0 1000.5 L299.5 1005.6 L299.9 1007.6 L300.3 996.4 L300.8 993.9 L301.2 989.6 L301.7 997.5 L302.1 1011.6 L302.6 1002.8 L303.0 991.0 L303.5 979.7 L303.9 978.2 L304.4 979.7 L304.8 973.3 L305.3 968.2 L305.7 957.3 L306.2 945.8 L306.6 935.0 L306.6 934.5 L306.8 930.3 L306.9 936.3 L307.1 938.3 L307.5 947.9 L308.0 960.5 L308.4 969.8 L308.8 974.0 L309.3 964.3 L309.7 971.4 L310.2 981.2 L310.6 983.8 L311.1 991.0 L311.5 979.9 L312.0 969.0 L312.4 977.1 L312.9 979.2 L313.3 974.7 L313.8 973.5 L314.2 975.8 L314.7 989.0 L315.1 990.7 L315.6 963.8 L316.0 971.8 L316.5 990.2 L316.9 978.8 L317.3 970.0 L317.8 971.9 L318.2 992.3 L318.7 993.1 L319.1 989.5 L319.6 999.9 L320.0 985.8 L320.5 981.2 L320.9 978.8 L321.4 951.0 L321.8 950.9 L322.3 969.9 L322.7 982.9 L323.2 993.4 L323.6 994.4 L324.1 993.1 L324.5 993.0 L325.0 993.7 L325.4 986.3 L325.8 988.6 L326.3 997.9 L326.7 1000.5 L327.2 985.2 L327.6 973.5 L328.1 968.6 L328.5 960.4 L329.0 970.9 L329.4 973.6 L329.9 982.0 L330.3 968.8 L330.8 947.4 L331.2 967.1 L331.7 960.5 L332.1 955.6 L332.6 949.0 L333.0 943.6 L333.5 929.6 L333.9 921.9 L334.3 908.3 L334.4 907.1 L334.6 903.6 L334.7 904.4 L334.8 908.2 L335.2 919.8 L335.7 933.0 L336.1 940.4 L336.6 948.9 L337.0 956.5 L337.5 960.2 L337.9 964.0 L338.4 974.7 L338.8 975.3 L339.3 990.6 L339.7 979.5 L340.2 963.2 L340.6 974.4 L341.1 970.1 L341.5 966.0 L342.0 974.2 L342.4 964.9 L342.8 961.4 L343.3 978.9 L343.7 970.9 L344.2 952.2 L344.6 968.7 L345.1 981.5 L345.5 991.7 L346.0 994.6 L346.4 976.9 L346.9 968.9 L347.3 982.4 L347.8 984.0 L348.2 962.7 L348.7 961.3 L349.1 978.6 L349.6 965.3 L350.0 957.1 L350.5 967.7 L350.9 976.4 L351.4 989.2 L351.8 993.9 L352.2 985.5 L352.7 978.0 L353.1 971.5 L353.6 965.4 L354.0 966.5 L354.5 969.1 L354.9 978.9 L355.4 997.9 L355.8 994.0 L356.3 984.5 L356.7 985.5 L357.2 980.1 L357.6 984.8 L358.1 991.5 L358.5 982.4 L359.0 972.7 L359.4 977.1 L359.9 974.1 L360.3 970.6 L360.7 971.1 L361.2 961.5 L361.6 952.7 L362.1 938.8 L362.2 935.7 L362.3 929.0 L362.5 938.5 L362.5 938.8 L363.0 949.5 L363.4 955.9 L363.9 969.2 L364.3 973.5 L364.8 970.0 L365.2 967.8 L365.7 974.0 L366.1 964.2 L366.6 968.5 L367.0 987.1 L367.5 975.0 L367.9 961.1 L368.4 958.7 L368.8 972.9 L369.2 973.0 L369.7 960.6 L370.1 955.2 L370.6 969.0 L371.0 981.3 L371.5 973.6 L371.9 988.0 L372.4 991.5 L372.8 969.9 L373.3 967.9 L373.7 982.7 L374.2 972.0 L374.6 958.4 L375.1 957.5 L375.5 963.3 L376.0 951.9 L376.0 952.6 L376.2 943.1 L376.3 951.1 L376.4 953.5 L376.9 954.5 L377.3 970.4 L377.7 984.7 L378.2 991.8 L378.6 993.7 L379.1 983.3 L379.5 970.5 L380.0 970.6 L380.4 981.2 L380.9 979.0 L381.3 981.2 L381.8 982.9 L382.2 980.4 L382.7 958.8 L383.1 947.3 L383.6 975.4 L384.0 990.0 L384.5 986.9 L384.9 992.2 L385.4 986.4 L385.8 977.3 L386.2 973.5 L386.7 964.4 L387.1 960.0 L387.6 952.6 L388.0 945.1 L388.5 935.9 L388.9 923.7 L389.4 919.3 L389.8 903.2 L389.9 905.2 L390.1 897.5 L390.2 902.0 L390.3 903.7 L390.7 915.8 L391.2 928.9 L391.6 934.2 L392.1 944.9 L392.5 946.4 L393.0 958.9 L393.4 965.5 L393.9 974.9 L394.3 975.5 L394.7 967.6 L395.2 977.4 L395.6 982.8 L396.1 976.6 L396.5 971.6 L397.0 982.7 L397.4 971.7 L397.9 963.2 L398.3 976.7 L398.8 966.9 L399.2 958.7 L399.7 971.1 L400.1 974.9 L400.6 982.6 L401.0 991.9 L401.5 1001.3 L401.9 986.4 L402.4 983.4 L402.8 987.6 L403.2 979.0 L403.7 992.2 L404.1 987.0 L404.6 977.0 L405.0 970.5 L405.5 958.4 L405.9 960.3 L406.4 967.3 L406.8 974.9 L407.3 976.1 L407.7 970.1 L408.2 979.4 L408.6 981.2 L409.1 978.0 L409.5 975.6 L410.0 971.8 L410.4 977.3 L410.9 986.3 L411.3 976.2 L411.7 983.7 L412.2 994.5 L412.6 968.5 L413.1 980.8 L413.5 975.5 L414.0 968.3 L414.4 962.5 L414.9 954.0 L415.3 947.0 L415.8 936.7 L416.2 929.8 L416.7 922.7 L417.1 917.1 L417.6 900.5 L417.7 897.1 L417.8 893.7 L418.0 901.9 L418.0 901.1 L418.5 909.1 L418.9 922.4 L419.4 930.2 L419.8 937.3 L420.2 943.4 L420.7 953.1 L421.1 960.6 L421.6 968.5 L422.0 971.6 L422.5 979.3 L422.9 986.0 L423.4 979.2 L423.8 979.6 L424.3 972.6 L424.7 972.6 L425.2 972.4 L425.6 967.2 L426.1 968.2 L426.5 972.2 L427.0 983.0 L427.4 987.9 L427.9 979.3 L428.3 962.6 L428.8 950.4 L429.2 947.6 L429.6 962.5 L430.1 974.5 L430.5 973.4 L431.0 971.9 L431.4 963.4 L431.9 955.6 L432.3 974.0 L432.8 987.0 L433.2 969.4 L433.7 961.5 L434.1 974.3 L434.6 967.3 L435.0 968.5 L435.5 980.2 L435.9 980.8 L436.4 994.3 L436.8 983.7 L437.3 977.7 L437.7 989.2 L438.1 985.5 L438.6 975.2 L439.0 969.8 L439.5 975.5 L439.9 988.3 L440.4 989.2 L440.8 985.4 L441.3 978.1 L441.7 969.7 L442.2 964.2 L442.6 958.5 L443.1 950.3 L443.5 941.8 L444.0 933.1 L444.4 927.7 L444.9 918.0 L445.3 904.9 L445.4 899.6 L445.6 893.5 L445.8 898.9 L446.2 909.9 L446.6 921.2 L447.1 931.0 L447.5 941.1 L448.0 948.8 L448.4 955.6 L448.9 961.6 L449.3 968.8 L449.8 976.1 L450.2 983.1 L450.7 988.4 L451.1 995.6 L451.6 996.4 L452.0 984.5 L452.5 989.2 L452.9 987.1 L453.4 980.8 L453.8 1000.4 L454.3 1007.9 L454.7 998.1 L455.1 1005.9 L455.6 1003.9 L456.0 995.4 L456.5 993.5 L456.9 1004.5 L457.4 1006.5 L457.8 979.2 L458.3 984.1 L458.7 1013.2 L459.2 1002.2 L459.6 983.5 L460.1 981.6 L460.5 994.9 L461.0 990.2 L461.4 987.1 L461.9 1003.7 L462.3 1001.9 L462.8 993.3 L463.2 982.3 L463.6 976.1 L464.1 981.5 L464.5 978.7 L465.0 977.4 L465.4 977.3 L465.9 988.7 L466.3 1008.0 L466.8 990.2 L467.2 988.3 L467.7 993.5 L468.1 985.8 L468.6 985.8 L469.0 975.0 L469.5 969.8 L469.9 964.0 L470.4 955.4 L470.8 947.2 L471.3 937.2 L471.7 933.6 L472.1 920.4 L472.6 909.2 L473.0 900.9 L473.2 896.4 L473.4 891.1 L473.5 898.8 L473.5 896.5 L473.9 908.0 L474.4 917.3 L474.8 923.0 L475.3 934.5 L475.7 943.0 L476.2 948.6 L476.6 961.1 L477.1 967.8 L477.5 971.6 L478.0 963.2 L478.4 984.9 L478.9 976.7 L479.3 971.5 L479.8 976.1 L480.2 970.1 L480.6 972.1 L481.1 970.4 L481.5 976.9 L482.0 977.8 L482.4 956.9 L482.9 974.9 L483.3 990.5 L483.8 969.1 L484.2 977.9 L484.7 992.1 L485.1 966.4 L485.6 958.3 L486.0 958.9 L486.5 951.5 L486.9 967.4 L487.4 967.7 L487.8 963.1 L488.3 957.3 L488.7 958.7 L489.1 966.8 L489.6 968.7 L490.0 958.9 L490.5 953.6 L490.9 972.2 L491.4 983.6 L491.8 972.8 L492.3 972.6 L492.7 978.0 L493.2 980.5 L493.6 979.4 L494.1 968.3 L494.5 958.1 L495.0 961.2 L495.4 952.4 L495.9 952.9 L496.3 943.8 L496.8 935.1 L497.2 944.3 L497.7 940.0 L498.1 931.2 L498.5 925.3 L499.0 915.6 L499.4 906.9 L499.9 900.7 L500.3 890.5 L500.8 882.4 L501.0 874.2 L501.1 866.9 L501.2 874.3 L501.3 872.8 L501.7 889.2 L502.1 898.7 L502.6 906.8 L503.0 913.6 L503.5 920.7 L503.9 928.5 L504.4 935.8 L504.8 941.5 L505.3 950.6 L505.7 958.8 L506.2 965.4 L506.6 965.0 L507.0 948.2 L507.5 957.9 L507.9 966.9 L508.4 967.3 L508.8 963.4 L509.3 966.2 L509.7 971.8 L510.2 951.8 L510.6 944.2 L511.1 966.2 L511.5 978.3 L512.0 979.1 L512.4 962.9 L512.9 950.9 L513.3 958.3 L513.8 963.8 L514.2 964.4 L514.7 973.5 L515.1 960.6 L515.5 948.6 L516.0 939.2 L516.4 948.0 L516.9 968.7 L517.3 955.6 L517.8 956.3 L518.2 974.3 L518.7 979.8 L519.1 967.8 L519.6 957.4 L520.0 958.8 L520.5 953.4 L520.9 944.6 L521.4 949.9 L521.8 957.5 L522.3 962.0 L522.7 957.7 L523.2 948.2 L523.6 950.2 L524.0 945.2 L524.5 940.6 L524.9 929.3 L525.4 923.7 L525.8 915.1 L526.3 912.9 L526.7 904.5 L527.2 897.2 L527.6 886.4 L528.1 873.7 L528.5 863.9 L528.7 859.2 L528.9 852.6 L529.0 855.6 L529.0 859.7 L529.4 868.7 L529.9 879.1 L530.3 892.2 L530.8 897.4 L531.2 902.3 L531.7 913.1 L532.1 920.0" stroke="#219cf3" stroke-width="2.8" stroke-linecap="butt" stroke-dasharray="7 1.2"/>
<path d="M84.7 1005.3 L85.1 1016.0 L85.6 1025.2 L86.0 1033.9 L86.5 1042.4 L86.9 1050.6 L87.4 1058.7 L87.8 1066.6 L88.3 1074.5 L88.7 1082.2 L89.2 1089.9 L89.6 1097.4 L90.1 1104.9 L90.5 1112.4 L91.0 1119.8 L91.4 1120.8 L91.9 1121.9 L92.3 1121.1 L92.8 1121.0 L93.2 1124.4 L93.6 1120.6 L94.1 1112.5 L94.5 1112.0 L95.0 1118.9 L95.4 1120.1 L95.9 1124.1 L96.3 1125.6 L96.8 1119.4 L97.2 1110.0 L97.7 1113.1 L98.1 1109.5 L98.6 1105.4 L99.0 1116.5 L99.5 1118.1 L99.9 1123.5 L100.4 1128.1 L100.8 1123.7 L101.3 1121.2 L101.7 1116.9 L102.1 1113.6 L102.6 1112.7 L103.0 1118.1 L103.5 1118.4 L103.9 1123.4 L104.4 1124.1 L104.8 1119.1 L105.3 1121.9 L105.7 1124.4 L106.2 1135.1 L106.6 1134.3 L107.1 1134.2 L107.5 1130.3 L108.0 1127.1 L108.4 1128.9 L108.9 1130.6 L109.3 1128.1 L109.8 1117.5 L110.2 1109.7 L110.6 1099.0 L111.1 1089.5 L111.5 1078.7 L112.0 1066.8 L112.3 1054.1 L112.4 1048.9 L112.5 1047.0 L112.6 1052.9 L112.9 1063.0 L113.3 1075.2 L113.8 1091.1 L114.2 1098.0 L114.7 1110.1 L115.1 1116.9 L115.6 1119.0 L116.0 1119.9 L116.5 1125.0 L116.9 1123.2 L117.4 1117.2 L117.8 1115.0 L118.3 1114.9 L118.7 1122.1 L119.1 1127.1 L119.6 1131.3 L120.0 1125.0 L120.5 1121.2 L120.9 1121.9 L121.4 1118.3 L121.8 1125.1 L122.3 1124.2 L122.7 1116.0 L123.2 1112.9 L123.6 1108.2 L124.1 1106.4 L124.5 1117.9 L125.0 1121.9 L125.4 1124.4 L125.9 1124.6 L126.3 1122.8 L126.8 1125.2 L127.2 1126.3 L127.7 1125.9 L128.1 1117.7 L128.5 1116.1 L129.0 1122.5 L129.4 1128.0 L129.9 1140.5 L130.3 1145.2 L130.8 1135.4 L131.2 1129.2 L131.7 1124.7 L132.1 1119.9 L132.6 1123.0 L133.0 1115.7 L133.5 1112.3 L133.9 1100.0 L134.4 1093.1 L134.8 1086.1 L135.3 1078.0 L135.7 1065.8 L136.2 1057.7 L136.6 1048.5 L137.0 1044.8 L137.5 1034.7 L137.9 1022.3 L138.4 1016.1 L138.8 1004.6 L139.3 995.2 L139.7 976.1 L140.1 966.1 L140.2 962.2 L140.2 959.6 L140.4 968.7 L140.6 977.2 L141.1 988.5 L141.5 1002.4 L142.0 1009.7 L142.4 1022.8 L142.9 1033.2 L143.3 1038.6 L143.8 1050.2 L144.2 1057.7 L144.7 1067.9 L145.1 1079.5 L145.5 1082.8 L146.0 1094.2 L146.4 1097.8 L146.9 1103.3 L147.3 1097.4 L147.8 1096.3 L148.2 1103.1 L148.7 1101.9 L149.1 1109.2 L149.6 1114.4 L150.0 1106.0 L150.5 1107.5 L150.9 1104.5 L151.4 1098.8 L151.8 1101.7 L152.3 1111.0 L152.7 1112.4 L153.2 1120.8 L153.6 1124.1 L154.0 1121.3 L154.5 1115.1 L154.9 1108.0 L155.4 1112.1 L155.8 1109.4 L156.3 1120.5 L156.7 1122.6 L157.2 1116.9 L157.6 1115.8 L158.1 1119.0 L158.5 1120.7 L159.0 1121.4 L159.4 1121.8 L159.9 1109.2 L160.3 1113.9 L160.8 1114.4 L161.2 1119.0 L161.7 1123.7 L162.1 1117.1 L162.5 1117.0 L163.0 1117.2 L163.4 1114.2 L163.9 1103.4 L164.3 1096.5 L164.8 1086.7 L165.2 1076.4 L165.7 1067.4 L166.1 1057.9 L166.6 1042.9 L167.0 1035.4 L167.5 1024.5 L167.8 1009.1 L167.9 1005.4 L168.0 1000.7 L168.1 1007.6 L168.4 1020.3 L168.8 1029.9 L169.3 1041.4 L169.7 1054.1 L170.2 1063.8 L170.6 1079.2 L171.0 1084.2 L171.5 1089.1 L171.9 1104.2 L172.4 1110.5 L172.8 1113.2 L173.3 1125.1 L173.7 1123.6 L174.2 1130.8 L174.6 1136.8 L175.1 1131.4 L175.5 1124.4 L176.0 1120.4 L176.4 1122.7 L176.9 1119.2 L177.3 1128.8 L177.8 1132.9 L178.2 1123.3 L178.7 1131.7 L179.1 1132.6 L179.5 1130.9 L180.0 1145.0 L180.4 1150.6 L180.9 1144.0 L181.3 1147.6 L181.8 1145.4 L182.2 1138.0 L182.7 1142.5 L183.1 1132.0 L183.6 1123.7 L184.0 1116.7 L184.5 1104.8 L184.9 1093.2 L185.4 1083.5 L185.8 1068.0 L186.1 1057.2 L186.3 1055.4 L186.3 1050.1 L186.5 1055.0 L186.7 1064.3 L187.2 1080.3 L187.6 1090.1 L188.0 1103.6 L188.5 1115.1 L188.9 1121.2 L189.4 1131.0 L189.8 1132.0 L190.3 1125.0 L190.7 1116.2 L191.2 1109.4 L191.6 1099.2 L192.1 1089.9 L192.5 1082.5 L193.0 1071.8 L193.4 1066.8 L193.9 1055.1 L194.3 1040.7 L194.8 1028.8 L195.2 1019.0 L195.6 1006.9 L195.7 1006.1 L195.7 998.1 L195.9 1005.3 L196.1 1016.5 L196.6 1026.2 L197.0 1037.9 L197.4 1048.8 L197.9 1061.7 L198.3 1068.5 L198.8 1081.4 L199.2 1085.2 L199.7 1096.3 L200.1 1107.2 L200.6 1111.1 L201.0 1119.7 L201.5 1130.9 L201.9 1133.8 L202.4 1129.5 L202.8 1122.5 L203.3 1113.2 L203.7 1122.4 L204.2 1135.3 L204.6 1144.4 L205.1 1148.2 L205.5 1147.6 L205.9 1134.1 L206.4 1123.2 L206.8 1126.5 L207.3 1132.6 L207.7 1136.3 L208.2 1139.3 L208.6 1140.8 L209.1 1142.6 L209.5 1145.1 L210.0 1139.4 L210.4 1141.3 L210.9 1131.6 L211.3 1133.9 L211.8 1134.0 L212.2 1131.1 L212.7 1124.1 L213.1 1126.9 L213.6 1133.7 L214.0 1136.2 L214.4 1154.4 L214.9 1156.9 L215.3 1150.1 L215.8 1147.0 L216.2 1139.7 L216.7 1134.8 L217.1 1143.8 L217.6 1135.7 L218.0 1128.5 L218.5 1121.8 L218.9 1111.5 L219.4 1101.4 L219.8 1094.6 L220.3 1084.8 L220.7 1079.3 L221.2 1066.5 L221.6 1056.4 L222.1 1047.9 L222.5 1037.6 L222.9 1021.4 L223.3 1010.1 L223.4 1006.0 L223.5 1001.5 L223.7 1007.6 L223.8 1015.7 L224.3 1031.2 L224.7 1040.4 L225.2 1051.6 L225.6 1060.1 L226.1 1071.8 L226.5 1081.0 L227.0 1087.8 L227.4 1096.1 L227.9 1105.4 L228.3 1113.3 L228.8 1122.5 L229.2 1130.0 L229.7 1137.7 L230.1 1144.5 L230.6 1134.2 L231.0 1138.7 L231.4 1142.2 L231.9 1138.0 L232.3 1150.8 L232.8 1143.9 L233.2 1139.3 L233.7 1141.6 L234.1 1128.2 L234.6 1130.3 L235.0 1131.9 L235.5 1134.8 L235.9 1150.2 L236.4 1153.3 L236.8 1155.9 L237.3 1153.8 L237.7 1143.4 L238.2 1151.0 L238.6 1154.5 L239.1 1158.8 L239.5 1158.0 L239.9 1150.3 L240.4 1147.7 L240.8 1144.6 L241.3 1146.6 L241.7 1145.9 L242.2 1142.7 L242.6 1146.6 L243.1 1145.4 L243.5 1141.9 L244.0 1140.4 L244.4 1126.3 L244.9 1132.1 L245.3 1134.5 L245.8 1133.7 L246.2 1121.6 L246.7 1117.2 L247.1 1106.0 L247.6 1098.6 L248.0 1091.5 L248.4 1078.9 L248.9 1071.1 L249.3 1060.9 L249.8 1050.0 L250.2 1039.7 L250.7 1028.0 L251.1 1012.4 L251.1 1013.1 L251.3 1005.2 L251.4 1014.4 L251.6 1021.5 L252.0 1033.6 L252.5 1045.1 L252.9 1055.0 L253.4 1063.2 L253.8 1078.0 L254.3 1084.1 L254.7 1097.3 L255.2 1104.1 L255.6 1111.7 L256.1 1123.2 L256.5 1130.7 L256.9 1135.2 L257.4 1143.3 L257.8 1149.2 L258.3 1153.4 L258.7 1144.8 L259.2 1135.4 L259.6 1132.4 L260.1 1127.3 L260.5 1138.8 L261.0 1138.0 L261.4 1136.8 L261.9 1137.5 L262.3 1129.8 L262.8 1135.3 L263.2 1132.2 L263.7 1140.0 L264.1 1143.0 L264.6 1137.1 L265.0 1120.8 L265.4 1113.2 L265.9 1112.4 L266.3 1121.4 L266.8 1134.4 L267.2 1144.4 L267.7 1148.2 L268.1 1142.3 L268.6 1151.9 L269.0 1138.1 L269.5 1130.0 L269.9 1133.9 L270.4 1131.0 L270.8 1143.3 L271.3 1153.9 L271.7 1149.5 L272.2 1144.4 L272.6 1137.2 L273.1 1130.0 L273.5 1134.2 L274.0 1130.2 L274.4 1118.3 L274.8 1111.3 L275.3 1102.5 L275.7 1094.0 L276.2 1082.8 L276.6 1074.7 L277.1 1067.0 L277.5 1054.5 L278.0 1043.0 L278.4 1033.3 L278.9 1018.0 L279.0 1010.0 L279.2 1018.3 L279.3 1021.6 L279.8 1034.1 L280.2 1044.4 L280.7 1056.5 L281.1 1067.0 L281.6 1076.5 L282.0 1085.6 L282.5 1097.7 L282.9 1104.6 L283.3 1113.9 L283.8 1123.1 L284.2 1131.9 L284.7 1140.0 L285.1 1147.5 L285.6 1153.2 L286.0 1154.1 L286.5 1146.2 L286.9 1137.1 L287.4 1135.1 L287.8 1135.6 L288.3 1134.4 L288.7 1146.5 L289.2 1153.7 L289.6 1145.7 L290.1 1146.3 L290.5 1133.4 L291.0 1125.9 L291.4 1134.4 L291.8 1139.4 L292.3 1141.1 L292.7 1143.4 L293.2 1141.0 L293.6 1144.7 L294.1 1152.1 L294.5 1145.1 L295.0 1140.1 L295.4 1139.1 L295.9 1138.6 L296.3 1144.6 L296.8 1144.2 L297.2 1144.2 L297.7 1139.9 L298.1 1146.3 L298.6 1150.1 L299.0 1141.3 L299.5 1134.4 L299.9 1127.1 L300.3 1120.8 L300.8 1113.3 L301.2 1104.2 L301.7 1094.2 L302.1 1082.8 L302.6 1076.2 L303.0 1066.2 L303.5 1059.7 L303.9 1051.5 L304.4 1044.2 L304.8 1032.0 L305.3 1025.4 L305.7 1011.1 L306.2 995.5 L306.6 983.3 L306.6 981.0 L306.8 975.8 L306.9 985.4 L307.1 988.0 L307.5 1001.7 L308.0 1010.7 L308.4 1020.3 L308.8 1035.3 L309.3 1044.5 L309.7 1053.5 L310.2 1062.9 L310.6 1073.3 L311.1 1079.6 L311.5 1087.5 L312.0 1095.7 L312.4 1106.6 L312.9 1112.6 L313.3 1117.8 L313.8 1113.1 L314.2 1111.7 L314.7 1124.2 L315.1 1116.6 L315.6 1122.6 L316.0 1123.7 L316.5 1115.8 L316.9 1121.1 L317.3 1112.7 L317.8 1114.0 L318.2 1111.2 L318.7 1102.4 L319.1 1102.1 L319.6 1097.5 L320.0 1098.7 L320.5 1099.7 L320.9 1108.0 L321.4 1106.9 L321.8 1108.0 L322.3 1098.6 L322.7 1103.1 L323.2 1106.2 L323.6 1104.1 L324.1 1117.9 L324.5 1109.7 L325.0 1099.2 L325.4 1097.1 L325.8 1094.9 L326.3 1087.3 L326.7 1090.7 L327.2 1092.9 L327.6 1086.9 L328.1 1091.4 L328.5 1095.6 L329.0 1087.1 L329.4 1078.9 L329.9 1071.0 L330.3 1058.6 L330.8 1052.9 L331.2 1047.0 L331.7 1036.8 L332.1 1027.4 L332.6 1016.7 L333.0 1007.1 L333.5 996.5 L333.9 980.0 L334.3 968.5 L334.4 967.5 L334.6 959.4 L334.7 967.3 L334.8 967.8 L335.2 983.4 L335.7 994.2 L336.1 1012.6 L336.6 1016.8 L337.0 1025.3 L337.5 1033.2 L337.9 1045.7 L338.4 1057.6 L338.8 1062.1 L339.3 1072.7 L339.7 1083.0 L340.2 1089.0 L340.6 1094.0 L341.1 1093.8 L341.5 1088.8 L342.0 1088.2 L342.4 1087.7 L342.8 1097.1 L343.3 1098.2 L343.7 1096.0 L344.2 1102.2 L344.6 1094.4 L345.1 1095.9 L345.5 1098.5 L346.0 1087.3 L346.4 1084.9 L346.9 1077.1 L347.3 1073.6 L347.8 1077.3 L348.2 1077.3 L348.7 1077.4 L349.1 1067.7 L349.6 1072.9 L350.0 1075.3 L350.5 1080.9 L350.9 1106.2 L351.4 1111.4 L351.8 1112.6 L352.2 1109.8 L352.7 1097.4 L353.1 1086.7 L353.6 1081.4 L354.0 1086.1 L354.5 1077.7 L354.9 1075.2 L355.4 1078.9 L355.8 1081.5 L356.3 1081.4 L356.7 1089.8 L357.2 1093.5 L357.6 1089.0 L358.1 1091.0 L358.5 1083.8 L359.0 1073.0 L359.4 1065.8 L359.9 1058.1 L360.3 1044.7 L360.7 1035.9 L361.2 1025.1 L361.6 1013.1 L362.1 997.3 L362.2 995.1 L362.3 988.2 L362.5 999.3 L362.5 999.8 L363.0 1013.0 L363.4 1022.1 L363.9 1035.6 L364.3 1046.7 L364.8 1054.3 L365.2 1066.0 L365.7 1075.0 L366.1 1083.5 L366.6 1089.2 L367.0 1099.2 L367.5 1107.1 L367.9 1114.2 L368.4 1118.6 L368.8 1104.8 L369.2 1097.2 L369.7 1091.4 L370.1 1091.1 L370.6 1091.9 L371.0 1088.5 L371.5 1093.9 L371.9 1092.2 L372.4 1085.7 L372.8 1091.9 L373.3 1098.2 L373.7 1098.1 L374.2 1106.6 L374.6 1106.5 L375.1 1095.3 L375.5 1081.4 L376.0 1066.7 L376.0 1063.9 L376.2 1056.3 L376.3 1071.3 L376.4 1069.4 L376.9 1082.4 L377.3 1093.6 L377.7 1101.5 L378.2 1102.8 L378.6 1108.1 L379.1 1112.2 L379.5 1104.9 L380.0 1106.1 L380.4 1102.3 L380.9 1097.6 L381.3 1103.3 L381.8 1102.3 L382.2 1102.1 L382.7 1105.1 L383.1 1101.3 L383.6 1104.6 L384.0 1100.6 L384.5 1105.5 L384.9 1109.9 L385.4 1104.9 L385.8 1094.6 L386.2 1084.1 L386.7 1077.7 L387.1 1070.4 L387.6 1058.7 L388.0 1045.6 L388.5 1041.4 L388.9 1026.9 L389.4 1015.8 L389.8 1002.1 L389.9 999.2 L390.1 991.2 L390.2 996.7 L390.3 999.2 L390.7 1016.3 L391.2 1023.9 L391.6 1040.0 L392.1 1046.9 L392.5 1057.6 L393.0 1065.2 L393.4 1075.8 L393.9 1083.5 L394.3 1094.0 L394.7 1091.2 L395.2 1107.1 L395.6 1103.1 L396.1 1112.3 L396.5 1112.5 L397.0 1095.7 L397.4 1100.5 L397.9 1093.9 L398.3 1092.9 L398.8 1102.9 L399.2 1099.6 L399.7 1107.1 L400.1 1101.8 L400.6 1094.5 L401.0 1096.4 L401.5 1091.2 L401.9 1094.1 L402.4 1099.4 L402.8 1095.8 L403.2 1099.4 L403.7 1099.2 L404.1 1102.0 L404.6 1105.4 L405.0 1102.7 L405.5 1108.7 L405.9 1106.4 L406.4 1109.1 L406.8 1107.8 L407.3 1107.5 L407.7 1103.8 L408.2 1095.0 L408.6 1096.6 L409.1 1100.4 L409.5 1101.7 L410.0 1103.8 L410.4 1106.5 L410.9 1094.9 L411.3 1092.7 L411.7 1095.4 L412.2 1095.3 L412.6 1102.2 L413.1 1103.3 L413.5 1093.3 L414.0 1084.5 L414.4 1074.1 L414.9 1065.3 L415.3 1057.0 L415.8 1047.1 L416.2 1037.1 L416.7 1026.2 L417.1 1011.7 L417.6 1005.0 L417.7 996.8 L417.8 988.0 L418.0 994.5 L418.0 999.3 L418.5 1011.3 L418.9 1022.6 L419.4 1035.9 L419.8 1048.9 L420.2 1056.0 L420.7 1067.0 L421.1 1072.9 L421.6 1084.4 L422.0 1088.4 L422.5 1099.7 L422.9 1097.3 L423.4 1096.7 L423.8 1092.3 L424.3 1087.2 L424.7 1098.0 L425.2 1091.7 L425.6 1092.4 L426.1 1093.1 L426.5 1092.6 L427.0 1096.3 L427.4 1097.5 L427.9 1103.9 L428.3 1090.4 L428.8 1091.5 L429.2 1094.3 L429.6 1091.2 L430.1 1097.0 L430.5 1094.6 L431.0 1091.1 L431.4 1086.7 L431.9 1084.3 L432.3 1094.4 L432.8 1099.0 L433.2 1108.2 L433.7 1114.1 L434.1 1102.6 L434.6 1097.8 L435.0 1098.2 L435.5 1099.9 L435.9 1101.7 L436.4 1106.7 L436.8 1102.7 L437.3 1100.1 L437.7 1112.3 L438.1 1106.7 L438.6 1104.8 L439.0 1103.7 L439.5 1100.1 L439.9 1106.7 L440.4 1110.7 L440.8 1112.1 L441.3 1107.6 L441.7 1099.7 L442.2 1089.1 L442.6 1080.3 L443.1 1069.2 L443.5 1060.8 L444.0 1050.7 L444.4 1039.5 L444.9 1028.4 L445.3 1014.0 L445.4 1008.2 L445.6 1000.3 L445.8 1010.6 L446.2 1027.5 L446.6 1038.0 L447.1 1047.2 L447.5 1062.5 L448.0 1068.9 L448.4 1076.7 L448.9 1087.7 L449.3 1097.5 L449.8 1101.1 L450.2 1110.2 L450.7 1113.6 L451.1 1105.3 L451.6 1117.5 L452.0 1104.8 L452.5 1096.6 L452.9 1102.5 L453.4 1095.6 L453.8 1102.8 L454.3 1105.9 L454.7 1101.7 L455.1 1101.6 L455.6 1090.9 L456.0 1091.0 L456.5 1085.5 L456.9 1083.6 L457.4 1094.5 L457.8 1095.3 L458.3 1098.8 L458.7 1107.6 L459.2 1096.7 L459.6 1097.4 L460.1 1097.8 L460.5 1095.4 L461.0 1100.7 L461.4 1099.6 L461.9 1102.5 L462.3 1098.2 L462.8 1107.4 L463.2 1102.8 L463.6 1106.1 L464.1 1115.7 L464.5 1110.6 L465.0 1119.9 L465.4 1112.7 L465.9 1107.2 L466.3 1101.8 L466.8 1102.2 L467.2 1095.0 L467.7 1088.6 L468.1 1081.4 L468.6 1081.5 L469.0 1088.0 L469.5 1094.3 L469.9 1100.1 L470.4 1092.8 L470.8 1085.8 L471.3 1072.5 L471.7 1062.4 L472.1 1050.9 L472.6 1037.2 L473.0 1026.4 L473.2 1020.7 L473.4 1013.6 L473.5 1020.2 L473.5 1021.9 L473.9 1036.9 L474.4 1044.2 L474.8 1062.1 L475.3 1068.8 L475.7 1078.4 L476.2 1088.4 L476.6 1088.6 L477.1 1086.4 L477.5 1081.3 L478.0 1077.3 L478.4 1081.9 L478.9 1081.4 L479.3 1084.7 L479.8 1095.5 L480.2 1092.0 L480.6 1091.2 L481.1 1099.2 L481.5 1096.6 L482.0 1105.0 L482.4 1107.4 L482.9 1112.8 L483.3 1102.0 L483.8 1088.7 L484.2 1081.0 L484.7 1071.1 L485.1 1076.5 L485.6 1077.4 L486.0 1078.2 L486.5 1075.5 L486.9 1083.6 L487.4 1087.1 L487.8 1093.6 L488.3 1102.5 L488.7 1103.4 L489.1 1103.3 L489.6 1096.4 L490.0 1097.1 L490.5 1084.7 L490.9 1080.1 L491.4 1086.1 L491.8 1082.2 L492.3 1089.9 L492.7 1091.9 L493.2 1091.8 L493.6 1094.4 L494.1 1092.5 L494.5 1105.5 L495.0 1103.1 L495.4 1093.4 L495.9 1093.4 L496.3 1081.2 L496.8 1079.6 L497.2 1070.8 L497.7 1063.1 L498.1 1050.8 L498.5 1046.2 L499.0 1035.3 L499.4 1023.9 L499.9 1015.2 L500.3 1003.4 L500.8 990.3 L501.0 984.2 L501.1 977.2 L501.2 982.2 L501.3 985.8 L501.7 995.9 L502.1 1011.7 L502.6 1016.5 L503.0 1027.6 L503.5 1038.6 L503.9 1050.4 L504.4 1060.3 L504.8 1066.0 L505.3 1075.2 L505.7 1070.2 L506.2 1077.1 L506.6 1072.5 L507.0 1080.2 L507.5 1088.9 L507.9 1090.2 L508.4 1097.8 L508.8 1095.0 L509.3 1091.2 L509.7 1087.6 L510.2 1080.0 L510.6 1095.3 L511.1 1093.8 L511.5 1103.8 L512.0 1106.4 L512.4 1096.6 L512.9 1097.3 L513.3 1083.5 L513.8 1091.3 L514.2 1086.6 L514.7 1087.1 L515.1 1100.9 L515.5 1090.6 L516.0 1091.1 L516.4 1092.7 L516.9 1087.5 L517.3 1076.3 L517.8 1078.0 L518.2 1083.3 L518.7 1084.0 L519.1 1099.1 L519.6 1098.8 L520.0 1091.3 L520.5 1091.6 L520.9 1087.5 L521.4 1087.7 L521.8 1093.0 L522.3 1091.8 L522.7 1095.6 L523.2 1089.7 L523.6 1081.6 L524.0 1076.4 L524.5 1067.1 L524.9 1062.0 L525.4 1050.8 L525.8 1041.3 L526.3 1033.8 L526.7 1025.2 L527.2 1015.1 L527.6 1001.4 L528.1 989.6 L528.5 979.2 L528.7 972.9 L528.9 960.5 L529.0 970.5 L529.0 970.3 L529.4 984.7 L529.9 998.9 L530.3 1006.8 L530.8 1017.9 L531.2 1025.0 L531.7 1033.1 L532.1 1046.6" stroke="#edb120" stroke-width="5"/>
<path d="M84.7 1007.8 L85.1 1018.5 L85.6 1027.7 L86.0 1036.4 L86.5 1044.9 L86.9 1053.1 L87.4 1061.2 L87.8 1069.2 L88.3 1077.0 L88.7 1084.7 L89.2 1092.4 L89.6 1099.9 L90.1 1107.4 L90.5 1114.9 L91.0 1122.3 L91.4 1110.5 L91.9 1092.1 L92.3 1098.1 L92.8 1120.2 L93.2 1118.1 L93.6 1126.1 L94.1 1136.0 L94.5 1112.5 L95.0 1103.8 L95.4 1122.8 L95.9 1138.7 L96.3 1124.9 L96.8 1115.1 L97.2 1124.9 L97.7 1122.5 L98.1 1122.8 L98.6 1138.2 L99.0 1129.9 L99.5 1122.3 L99.9 1134.3 L100.4 1139.2 L100.8 1131.7 L101.3 1128.9 L101.7 1127.0 L102.1 1124.1 L102.6 1121.7 L103.0 1122.5 L103.5 1133.6 L103.9 1143.8 L104.4 1146.7 L104.8 1129.7 L105.3 1103.3 L105.7 1115.9 L106.2 1142.1 L106.6 1132.0 L107.1 1122.5 L107.5 1129.0 L108.0 1129.7 L108.4 1128.0 L108.9 1120.1 L109.3 1114.1 L109.8 1102.6 L110.2 1097.7 L110.6 1086.9 L111.1 1081.2 L111.5 1069.5 L112.0 1060.0 L112.3 1048.8 L112.4 1045.6 L112.5 1045.1 L112.6 1049.6 L112.9 1060.1 L113.3 1070.6 L113.8 1077.4 L114.2 1090.8 L114.7 1094.8 L115.1 1104.9 L115.6 1113.5 L116.0 1119.1 L116.5 1125.8 L116.9 1135.0 L117.4 1136.2 L117.8 1125.6 L118.3 1130.4 L118.7 1137.9 L119.1 1133.9 L119.6 1124.2 L120.0 1118.9 L120.5 1130.8 L120.9 1127.4 L121.4 1124.7 L121.8 1133.0 L122.3 1123.7 L122.7 1116.2 L123.2 1115.1 L123.6 1112.3 L124.1 1118.5 L124.5 1125.1 L125.0 1137.0 L125.4 1133.4 L125.9 1126.1 L126.3 1126.4 L126.8 1127.0 L127.2 1135.8 L127.7 1142.2 L128.1 1133.4 L128.5 1118.9 L129.0 1125.2 L129.4 1130.7 L129.9 1120.5 L130.3 1129.1 L130.8 1140.5 L131.2 1142.8 L131.7 1133.5 L132.1 1125.2 L132.6 1136.1 L133.0 1147.8 L133.5 1141.9 L133.9 1130.9 L134.4 1129.3 L134.8 1119.9 L135.3 1116.2 L135.7 1108.9 L136.2 1100.2 L136.6 1095.3 L137.0 1085.4 L137.5 1076.8 L137.9 1071.8 L138.4 1059.7 L138.8 1053.2 L139.3 1041.9 L139.7 1031.8 L140.1 1023.3 L140.2 1019.3 L140.2 1018.7 L140.4 1023.7 L140.6 1031.1 L141.1 1038.0 L141.5 1048.8 L142.0 1061.7 L142.4 1066.6 L142.9 1075.7 L143.3 1084.5 L143.8 1090.7 L144.2 1097.5 L144.7 1106.9 L145.1 1113.4 L145.5 1119.6 L146.0 1128.2 L146.4 1132.9 L146.9 1139.9 L147.3 1147.3 L147.8 1149.8 L148.2 1157.1 L148.7 1153.3 L149.1 1145.0 L149.6 1149.6 L150.0 1147.2 L150.5 1137.0 L150.9 1139.1 L151.4 1153.0 L151.8 1142.4 L152.3 1143.5 L152.7 1158.1 L153.2 1163.9 L153.6 1153.9 L154.0 1143.6 L154.5 1147.7 L154.9 1148.5 L155.4 1152.6 L155.8 1158.8 L156.3 1163.1 L156.7 1155.6 L157.2 1150.1 L157.6 1142.6 L158.1 1148.5 L158.5 1162.1 L159.0 1163.6 L159.4 1151.6 L159.9 1152.8 L160.3 1156.5 L160.8 1139.4 L161.2 1145.1 L161.7 1149.5 L162.1 1161.9 L162.5 1154.8 L163.0 1148.8 L163.4 1139.5 L163.9 1134.1 L164.3 1125.9 L164.8 1117.8 L165.2 1113.3 L165.7 1101.9 L166.1 1095.5 L166.6 1085.9 L167.0 1076.2 L167.5 1064.1 L167.8 1054.0 L167.9 1049.1 L168.0 1048.3 L168.1 1056.0 L168.4 1062.7 L168.8 1071.9 L169.3 1080.1 L169.7 1091.2 L170.2 1101.2 L170.6 1107.9 L171.0 1115.7 L171.5 1123.7 L171.9 1132.3 L172.4 1142.5 L172.8 1144.8 L173.3 1150.5 L173.7 1155.2 L174.2 1149.6 L174.6 1151.0 L175.1 1150.6 L175.5 1148.2 L176.0 1165.3 L176.4 1164.9 L176.9 1153.8 L177.3 1158.2 L177.8 1151.8 L178.2 1149.6 L178.7 1148.7 L179.1 1138.7 L179.5 1141.2 L180.0 1158.0 L180.4 1163.5 L180.9 1147.9 L181.3 1144.9 L181.8 1155.8 L182.2 1154.7 L182.7 1146.4 L183.1 1143.6 L183.6 1138.3 L184.0 1130.9 L184.5 1122.2 L184.9 1113.7 L185.4 1101.3 L185.8 1092.8 L186.1 1086.5 L186.3 1075.9 L186.3 1075.3 L186.5 1085.2 L186.7 1091.2 L187.2 1103.1 L187.6 1111.2 L188.0 1119.7 L188.5 1128.4 L188.9 1135.6 L189.4 1129.5 L189.8 1120.1 L190.3 1115.0 L190.7 1104.3 L191.2 1102.3 L191.6 1092.6 L192.1 1086.5 L192.5 1080.3 L193.0 1069.1 L193.4 1063.1 L193.9 1056.4 L194.3 1046.7 L194.8 1035.0 L195.2 1028.2 L195.6 1013.2 L195.7 1012.0 L195.7 1009.3 L195.9 1013.3 L196.1 1018.6 L196.6 1031.7 L197.0 1042.2 L197.4 1048.5 L197.9 1057.6 L198.3 1069.7 L198.8 1076.4 L199.2 1084.0 L199.7 1091.7 L200.1 1100.6 L200.6 1103.7 L201.0 1112.0 L201.5 1118.7 L201.9 1123.2 L202.4 1133.0 L202.8 1138.6 L203.3 1144.4 L203.7 1151.8 L204.2 1157.5 L204.6 1162.2 L205.1 1165.6 L205.5 1154.5 L205.9 1162.5 L206.4 1166.9 L206.8 1161.8 L207.3 1166.9 L207.7 1166.9 L208.2 1166.9 L208.6 1160.4 L209.1 1161.4 L209.5 1166.9 L210.0 1166.9 L210.4 1166.8 L210.9 1162.3 L211.3 1154.0 L211.8 1155.9 L212.2 1150.7 L212.7 1155.2 L213.1 1153.6 L213.6 1141.8 L214.0 1144.1 L214.4 1143.0 L214.9 1149.0 L215.3 1151.1 L215.8 1144.9 L216.2 1145.9 L216.7 1139.5 L217.1 1135.0 L217.6 1129.7 L218.0 1122.0 L218.5 1117.4 L218.9 1105.1 L219.4 1100.2 L219.8 1094.2 L220.3 1087.0 L220.7 1076.8 L221.2 1067.3 L221.6 1063.6 L222.1 1053.6 L222.5 1046.2 L222.9 1031.7 L223.3 1021.3 L223.4 1016.2 L223.5 1015.1 L223.7 1022.3 L223.8 1028.1 L224.3 1036.8 L224.7 1050.8 L225.2 1055.9 L225.6 1065.3 L226.1 1074.7 L226.5 1083.2 L227.0 1087.5 L227.4 1093.6 L227.9 1104.6 L228.3 1110.0 L228.8 1114.9 L229.2 1125.6 L229.7 1131.6 L230.1 1139.8 L230.6 1132.6 L231.0 1146.1 L231.4 1157.6 L231.9 1161.8 L232.3 1159.4 L232.8 1149.2 L233.2 1123.0 L233.7 1119.2 L234.1 1131.9 L234.6 1125.8 L235.0 1139.8 L235.5 1144.9 L235.9 1131.5 L236.4 1133.3 L236.8 1142.5 L237.3 1140.3 L237.7 1151.0 L238.2 1159.3 L238.6 1147.5 L239.1 1138.8 L239.5 1146.7 L239.9 1152.1 L240.4 1146.9 L240.8 1145.7 L241.3 1140.5 L241.7 1139.1 L242.2 1142.7 L242.6 1152.6 L243.1 1160.6 L243.5 1149.8 L244.0 1150.3 L244.4 1142.0 L244.9 1135.9 L245.3 1130.4 L245.8 1121.3 L246.2 1116.0 L246.7 1107.4 L247.1 1097.9 L247.6 1095.0 L248.0 1092.2 L248.4 1081.0 L248.9 1074.0 L249.3 1063.7 L249.8 1055.0 L250.2 1047.8 L250.7 1037.3 L251.1 1024.0 L251.1 1023.1 L251.3 1021.3 L251.4 1021.9 L251.6 1028.3 L252.0 1039.7 L252.5 1049.1 L252.9 1060.4 L253.4 1067.3 L253.8 1073.7 L254.3 1081.5 L254.7 1090.1 L255.2 1098.8 L255.6 1106.9 L256.1 1110.3 L256.5 1118.6 L256.9 1127.0 L257.4 1136.6 L257.8 1140.9 L258.3 1147.7 L258.7 1145.9 L259.2 1152.3 L259.6 1148.3 L260.1 1145.6 L260.5 1161.0 L261.0 1156.0 L261.4 1143.7 L261.9 1164.9 L262.3 1162.9 L262.8 1141.0 L263.2 1138.8 L263.7 1161.3 L264.1 1166.8 L264.6 1149.8 L265.0 1155.1 L265.4 1164.0 L265.9 1156.3 L266.3 1140.6 L266.8 1139.9 L267.2 1144.7 L267.7 1146.4 L268.1 1159.2 L268.6 1147.8 L269.0 1138.0 L269.5 1154.7 L269.9 1153.9 L270.4 1138.2 L270.8 1145.5 L271.3 1147.5 L271.7 1141.1 L272.2 1144.9 L272.6 1149.7 L273.1 1150.2 L273.5 1144.1 L274.0 1138.2 L274.4 1135.0 L274.8 1124.2 L275.3 1117.2 L275.7 1111.7 L276.2 1107.6 L276.6 1093.5 L277.1 1085.4 L277.5 1077.4 L278.0 1071.9 L278.4 1061.2 L278.9 1044.4 L279.0 1038.2 L279.2 1045.3 L279.3 1050.7 L279.8 1061.1 L280.2 1072.7 L280.7 1081.4 L281.1 1091.0 L281.6 1097.2 L282.0 1106.3 L282.5 1111.5 L282.9 1119.3 L283.3 1129.2 L283.8 1129.7 L284.2 1134.2 L284.7 1128.8 L285.1 1120.2 L285.6 1131.3 L286.0 1141.1 L286.5 1124.1 L286.9 1115.2 L287.4 1119.1 L287.8 1123.9 L288.3 1129.3 L288.7 1122.8 L289.2 1123.2 L289.6 1132.8 L290.1 1129.3 L290.5 1116.1 L291.0 1122.3 L291.4 1121.0 L291.8 1109.6 L292.3 1121.5 L292.7 1125.5 L293.2 1119.9 L293.6 1115.6 L294.1 1110.8 L294.5 1122.7 L295.0 1135.1 L295.4 1120.0 L295.9 1110.3 L296.3 1113.8 L296.8 1112.1 L297.2 1104.7 L297.7 1114.4 L298.1 1117.1 L298.6 1114.6 L299.0 1108.9 L299.5 1097.6 L299.9 1094.7 L300.3 1087.1 L300.8 1079.4 L301.2 1073.0 L301.7 1069.7 L302.1 1059.5 L302.6 1052.6 L303.0 1045.9 L303.5 1037.6 L303.9 1032.6 L304.4 1023.8 L304.8 1016.3 L305.3 1005.4 L305.7 998.5 L306.2 986.5 L306.6 976.9 L306.6 974.4 L306.8 968.2 L306.9 974.4 L307.1 977.5 L307.5 989.6 L308.0 999.7 L308.4 1012.1 L308.8 1015.2 L309.3 1026.4 L309.7 1033.6 L310.2 1042.3 L310.6 1046.5 L311.1 1057.1 L311.5 1061.7 L312.0 1067.4 L312.4 1073.4 L312.9 1080.8 L313.3 1088.4 L313.8 1098.1 L314.2 1100.0 L314.7 1106.5 L315.1 1113.3 L315.6 1109.2 L316.0 1116.3 L316.5 1118.8 L316.9 1107.2 L317.3 1098.2 L317.8 1097.8 L318.2 1098.7 L318.7 1106.0 L319.1 1113.2 L319.6 1104.7 L320.0 1109.2 L320.5 1114.8 L320.9 1118.6 L321.4 1120.0 L321.8 1112.2 L322.3 1116.8 L322.7 1108.1 L323.2 1104.6 L323.6 1110.0 L324.1 1106.4 L324.5 1108.1 L325.0 1097.0 L325.4 1094.9 L325.8 1102.0 L326.3 1106.6 L326.7 1110.2 L327.2 1103.4 L327.6 1101.8 L328.1 1102.9 L328.5 1099.5 L329.0 1085.4 L329.4 1086.6 L329.9 1086.9 L330.3 1078.6 L330.8 1073.5 L331.2 1064.6 L331.7 1058.3 L332.1 1049.8 L332.6 1043.4 L333.0 1032.4 L333.5 1022.4 L333.9 1014.5 L334.3 1000.9 L334.4 1000.1 L334.6 996.1 L334.7 1000.2 L334.8 1001.4 L335.2 1016.2 L335.7 1028.6 L336.1 1034.3 L336.6 1044.4 L337.0 1048.2 L337.5 1059.5 L337.9 1067.1 L338.4 1075.6 L338.8 1081.3 L339.3 1077.7 L339.7 1079.4 L340.2 1102.0 L340.6 1095.1 L341.1 1085.6 L341.5 1077.9 L342.0 1087.2 L342.4 1107.4 L342.8 1101.3 L343.3 1088.7 L343.7 1084.3 L344.2 1079.7 L344.6 1091.6 L345.1 1103.8 L345.5 1095.4 L346.0 1085.2 L346.4 1081.6 L346.9 1089.8 L347.3 1099.4 L347.8 1091.4 L348.2 1079.3 L348.7 1068.0 L349.1 1075.3 L349.6 1082.4 L350.0 1089.1 L350.5 1102.9 L350.9 1099.8 L351.4 1099.5 L351.8 1101.0 L352.2 1101.7 L352.7 1096.8 L353.1 1096.4 L353.6 1092.1 L354.0 1090.1 L354.5 1094.4 L354.9 1084.9 L355.4 1083.1 L355.8 1091.6 L356.3 1093.9 L356.7 1094.7 L357.2 1091.2 L357.6 1096.9 L358.1 1093.5 L358.5 1078.9 L359.0 1079.0 L359.4 1083.5 L359.9 1079.4 L360.3 1071.4 L360.7 1064.7 L361.2 1051.9 L361.6 1043.0 L362.1 1027.4 L362.2 1029.1 L362.3 1020.5 L362.5 1026.9 L362.5 1027.8 L363.0 1044.8 L363.4 1050.0 L363.9 1061.9 L364.3 1070.7 L364.8 1079.3 L365.2 1087.4 L365.7 1095.0 L366.1 1099.5 L366.6 1100.5 L367.0 1105.0 L367.5 1108.9 L367.9 1104.1 L368.4 1112.0 L368.8 1121.0 L369.2 1108.7 L369.7 1097.5 L370.1 1106.4 L370.6 1108.1 L371.0 1098.3 L371.5 1086.4 L371.9 1096.3 L372.4 1104.1 L372.8 1085.5 L373.3 1089.1 L373.7 1093.4 L374.2 1109.7 L374.6 1100.4 L375.1 1092.4 L375.5 1082.3 L376.0 1069.2 L376.0 1068.5 L376.2 1059.4 L376.3 1067.1 L376.4 1070.1 L376.9 1081.6 L377.3 1091.5 L377.7 1100.2 L378.2 1102.7 L378.6 1105.7 L379.1 1108.2 L379.5 1099.8 L380.0 1098.3 L380.4 1089.6 L380.9 1078.3 L381.3 1100.1 L381.8 1117.4 L382.2 1118.7 L382.7 1122.6 L383.1 1111.2 L383.6 1110.3 L384.0 1120.5 L384.5 1116.2 L384.9 1104.7 L385.4 1105.5 L385.8 1101.6 L386.2 1094.0 L386.7 1087.6 L387.1 1078.4 L387.6 1072.8 L388.0 1064.1 L388.5 1057.4 L388.9 1042.6 L389.4 1036.5 L389.8 1025.1 L389.9 1020.1 L390.1 1016.7 L390.2 1022.5 L390.3 1025.3 L390.7 1035.9 L391.2 1046.8 L391.6 1054.5 L392.1 1064.3 L392.5 1073.4 L393.0 1080.8 L393.4 1088.2 L393.9 1096.3 L394.3 1101.1 L394.7 1108.6 L395.2 1116.5 L395.6 1118.7 L396.1 1114.9 L396.5 1132.6 L397.0 1128.5 L397.4 1114.2 L397.9 1104.6 L398.3 1106.3 L398.8 1102.7 L399.2 1090.5 L399.7 1092.9 L400.1 1093.6 L400.6 1098.3 L401.0 1110.2 L401.5 1108.3 L401.9 1098.7 L402.4 1101.3 L402.8 1108.9 L403.2 1120.3 L403.7 1114.5 L404.1 1102.4 L404.6 1114.9 L405.0 1116.5 L405.5 1103.7 L405.9 1105.0 L406.4 1104.6 L406.8 1099.2 L407.3 1113.5 L407.7 1120.1 L408.2 1107.7 L408.6 1100.0 L409.1 1094.2 L409.5 1112.1 L410.0 1121.4 L410.4 1104.8 L410.9 1096.6 L411.3 1090.5 L411.7 1104.1 L412.2 1098.8 L412.6 1092.9 L413.1 1082.9 L413.5 1078.5 L414.0 1073.1 L414.4 1064.0 L414.9 1054.9 L415.3 1049.8 L415.8 1038.4 L416.2 1029.8 L416.7 1018.3 L417.1 1013.0 L417.6 999.2 L417.7 999.7 L417.8 990.9 L418.0 996.6 L418.0 996.9 L418.5 1009.9 L418.9 1020.1 L419.4 1030.3 L419.8 1038.8 L420.2 1045.8 L420.7 1053.3 L421.1 1060.9 L421.6 1067.7 L422.0 1074.6 L422.5 1086.8 L422.9 1091.6 L423.4 1094.0 L423.8 1103.0 L424.3 1109.0 L424.7 1109.5 L425.2 1108.7 L425.6 1117.8 L426.1 1120.2 L426.5 1111.6 L427.0 1115.5 L427.4 1115.1 L427.9 1119.9 L428.3 1109.8 L428.8 1097.2 L429.2 1094.2 L429.6 1102.5 L430.1 1121.8 L430.5 1114.5 L431.0 1117.7 L431.4 1118.1 L431.9 1111.9 L432.3 1115.5 L432.8 1109.4 L433.2 1107.0 L433.7 1096.9 L434.1 1093.2 L434.6 1113.1 L435.0 1110.9 L435.5 1111.2 L435.9 1116.9 L436.4 1116.3 L436.8 1122.1 L437.3 1105.9 L437.7 1104.2 L438.1 1116.6 L438.6 1116.6 L439.0 1114.5 L439.5 1101.8 L439.9 1107.3 L440.4 1112.2 L440.8 1103.4 L441.3 1095.6 L441.7 1087.4 L442.2 1081.6 L442.6 1076.0 L443.1 1066.5 L443.5 1057.8 L444.0 1047.8 L444.4 1044.6 L444.9 1030.4 L445.3 1022.6 L445.4 1014.2 L445.6 1008.1 L445.8 1014.6 L446.2 1026.3 L446.6 1037.5 L447.1 1048.6 L447.5 1055.6 L448.0 1062.5 L448.4 1072.7 L448.9 1080.1 L449.3 1089.7 L449.8 1093.0 L450.2 1102.9 L450.7 1110.0 L451.1 1114.5 L451.6 1108.0 L452.0 1101.1 L452.5 1109.5 L452.9 1109.7 L453.4 1112.1 L453.8 1115.9 L454.3 1104.3 L454.7 1096.6 L455.1 1104.4 L455.6 1099.3 L456.0 1103.0 L456.5 1105.1 L456.9 1100.4 L457.4 1109.8 L457.8 1105.0 L458.3 1108.7 L458.7 1109.2 L459.2 1105.2 L459.6 1106.6 L460.1 1092.2 L460.5 1091.0 L461.0 1103.4 L461.4 1107.0 L461.9 1105.4 L462.3 1112.5 L462.8 1117.0 L463.2 1109.2 L463.6 1098.7 L464.1 1110.0 L464.5 1113.7 L465.0 1099.2 L465.4 1097.9 L465.9 1107.3 L466.3 1101.3 L466.8 1102.5 L467.2 1104.8 L467.7 1086.9 L468.1 1103.7 L468.6 1112.1 L469.0 1097.1 L469.5 1097.1 L469.9 1090.9 L470.4 1083.5 L470.8 1073.2 L471.3 1065.8 L471.7 1057.8 L472.1 1051.9 L472.6 1034.7 L473.0 1027.8 L473.2 1021.7 L473.4 1016.8 L473.5 1020.1 L473.5 1024.0 L473.9 1033.2 L474.4 1044.0 L474.8 1051.5 L475.3 1063.7 L475.7 1071.3 L476.2 1078.5 L476.6 1082.3 L477.1 1090.2 L477.5 1087.9 L478.0 1085.7 L478.4 1090.0 L478.9 1095.2 L479.3 1092.2 L479.8 1097.3 L480.2 1092.2 L480.6 1085.4 L481.1 1086.7 L481.5 1092.9 L482.0 1092.4 L482.4 1096.5 L482.9 1100.3 L483.3 1110.0 L483.8 1118.6 L484.2 1097.4 L484.7 1093.8 L485.1 1097.2 L485.6 1104.4 L486.0 1095.6 L486.5 1081.5 L486.9 1091.2 L487.4 1092.2 L487.8 1089.9 L488.3 1083.4 L488.7 1084.0 L489.1 1102.0 L489.6 1104.8 L490.0 1087.3 L490.5 1082.0 L490.9 1092.5 L491.4 1092.1 L491.8 1088.6 L492.3 1088.5 L492.7 1099.0 L493.2 1108.3 L493.6 1094.0 L494.1 1089.6 L494.5 1091.5 L495.0 1077.6 L495.4 1081.6 L495.9 1091.6 L496.3 1079.9 L496.8 1074.2 L497.2 1067.2 L497.7 1058.8 L498.1 1051.6 L498.5 1045.3 L499.0 1032.6 L499.4 1028.2 L499.9 1016.7 L500.3 1005.4 L500.8 998.3 L501.0 991.7 L501.1 986.6 L501.2 988.5 L501.3 992.4 L501.7 1005.0 L502.1 1011.3 L502.6 1021.4 L503.0 1033.2 L503.5 1038.1 L503.9 1047.8 L504.4 1051.2 L504.8 1060.4 L505.3 1071.5 L505.7 1078.2 L506.2 1086.1 L506.6 1091.3 L507.0 1098.1 L507.5 1089.1 L507.9 1087.6 L508.4 1097.0 L508.8 1099.9 L509.3 1093.3 L509.7 1088.5 L510.2 1088.4 L510.6 1087.3 L511.1 1076.6 L511.5 1078.1 L512.0 1101.8 L512.4 1098.3 L512.9 1086.0 L513.3 1085.7 L513.8 1095.7 L514.2 1089.6 L514.7 1079.7 L515.1 1087.0 L515.5 1096.6 L516.0 1093.3 L516.4 1083.8 L516.9 1078.3 L517.3 1080.4 L517.8 1096.5 L518.2 1093.1 L518.7 1091.0 L519.1 1089.2 L519.6 1090.2 L520.0 1093.5 L520.5 1088.1 L520.9 1087.5 L521.4 1089.2 L521.8 1094.0 L522.3 1083.5 L522.7 1082.2 L523.2 1074.5 L523.6 1064.7 L524.0 1058.5 L524.5 1048.2 L524.9 1041.6 L525.4 1036.3 L525.8 1028.6 L526.3 1025.0 L526.7 1015.2 L527.2 1005.8 L527.6 996.5 L528.1 988.7 L528.5 976.8 L528.7 970.6 L528.9 960.8 L529.0 966.1 L529.0 969.7 L529.4 980.4 L529.9 989.9 L530.3 1001.0 L530.8 1009.1 L531.2 1019.9 L531.7 1023.9 L532.1 1031.2" stroke="#2e2e2e" stroke-width="2.6" stroke-linecap="butt" stroke-dasharray="2.2 1.3"/>
</g>
<rect x="84.7" y="831.7" width="447.3" height="352.3" fill="none" stroke="#000" stroke-width="1.5"/>
<text x="84.7" y="1202.8" font-size="13.8" text-anchor="middle" font-weight="bold" >0</text>
<text x="196.6" y="1202.8" font-size="13.8" text-anchor="middle" font-weight="bold" >50</text>
<text x="308.4" y="1202.8" font-size="13.8" text-anchor="middle" font-weight="bold" >100</text>
<text x="420.2" y="1202.8" font-size="13.8" text-anchor="middle" font-weight="bold" >150</text>
<text x="532.1" y="1202.8" font-size="13.8" text-anchor="middle" font-weight="bold" >200</text>
<text x="80.6" y="1188.7" font-size="13.8" text-anchor="end" font-weight="bold" >50</text>
<text x="80.6" y="1138.4" font-size="13.8" text-anchor="end" font-weight="bold" >60</text>
<text x="80.6" y="1088.0" font-size="13.8" text-anchor="end" font-weight="bold" >70</text>
<text x="80.6" y="1037.7" font-size="13.8" text-anchor="end" font-weight="bold" >80</text>
<text x="80.6" y="987.4" font-size="13.8" text-anchor="end" font-weight="bold" >90</text>
<text x="80.6" y="937.1" font-size="13.8" text-anchor="end" font-weight="bold" >100</text>
<text x="80.6" y="886.7" font-size="13.8" text-anchor="end" font-weight="bold" >110</text>
<text x="80.6" y="836.4" font-size="13.8" text-anchor="end" font-weight="bold" >120</text>
<text x="85.2" y="828.3" font-size="13.8" text-anchor="middle" font-weight="bold" >0</text>
<text x="140.6" y="828.3" font-size="13.8" text-anchor="middle" font-weight="bold" >1</text>
<text x="196.0" y="828.3" font-size="13.8" text-anchor="middle" font-weight="bold" >2</text>
<text x="251.4" y="828.3" font-size="13.8" text-anchor="middle" font-weight="bold" >3</text>
<text x="306.8" y="828.3" font-size="13.8" text-anchor="middle" font-weight="bold" >4</text>
<text x="362.2" y="828.3" font-size="13.8" text-anchor="middle" font-weight="bold" >5</text>
<text x="417.6" y="828.3" font-size="13.8" text-anchor="middle" font-weight="bold" >6</text>
<text x="473.0" y="828.3" font-size="13.8" text-anchor="middle" font-weight="bold" >7</text>
<text x="528.4" y="828.3" font-size="13.8" text-anchor="middle" font-weight="bold" >8</text>
<path d="M84.7 1184.0 v-4.5 M196.6 1184.0 v-4.5 M308.4 1184.0 v-4.5 M420.2 1184.0 v-4.5 M532.1 1184.0 v-4.5 M84.7 1184.0 h4.5 M532.0 1184.0 h-4.5 M84.7 1133.7 h4.5 M532.0 1133.7 h-4.5 M84.7 1083.3 h4.5 M532.0 1083.3 h-4.5 M84.7 1033.0 h4.5 M532.0 1033.0 h-4.5 M84.7 982.7 h4.5 M532.0 982.7 h-4.5 M84.7 932.4 h4.5 M532.0 932.4 h-4.5 M84.7 882.0 h4.5 M532.0 882.0 h-4.5 M84.7 831.7 h4.5 M532.0 831.7 h-4.5 M84.9 831.7 v4.5 M140.3 831.7 v4.5 M195.7 831.7 v4.5 M251.1 831.7 v4.5 M306.5 831.7 v4.5 M361.9 831.7 v4.5 M417.3 831.7 v4.5 M472.7 831.7 v4.5 M528.1 831.7 v4.5" stroke="#000" stroke-width="1.5" fill="none"/>
<text x="308.5" y="810.0" font-size="14.3" text-anchor="middle" font-weight="bold" textLength="104" lengthAdjust="spacingAndGlyphs">Harmonic order</text>
<text x="308.5" y="1221.8" font-size="14.3" text-anchor="middle" font-weight="bold" textLength="104" lengthAdjust="spacingAndGlyphs">Frequency (Hz)</text>
<text transform="translate(47.8 1007.3) rotate(-90)" font-size="14.3" font-weight="bold" text-anchor="middle" textLength="218" lengthAdjust="spacingAndGlyphs">Magnitude (dB re arbitrary units)</text>
<rect x="319.5" y="1109.4" width="206.5" height="69.6" fill="#fff" stroke="#000" stroke-width="1"/>
<path d="M323 1120.7 H364.7" stroke="#c9c9c9" stroke-width="8.5"/>
<path d="M323 1137.2 H364.7" stroke="#219cf3" stroke-width="2.6" stroke-dasharray="6 1.5"/>
<path d="M323 1154.0 H364.7" stroke="#edb120" stroke-width="5"/>
<path d="M323 1170.0 H364.7" stroke="#2e2e2e" stroke-width="2.4" stroke-dasharray="2.2 1.3"/>
<text x="367.8" y="1124.9" font-size="11.5" text-anchor="start" font-weight="bold" textLength="137.7" lengthAdjust="spacingAndGlyphs">above isolater,w/o control</text>
<text x="367.8" y="1141.4" font-size="11.5" text-anchor="start" font-weight="bold" textLength="141.0" lengthAdjust="spacingAndGlyphs">above isolater,with control</text>
<text x="367.8" y="1158.2" font-size="11.5" text-anchor="start" font-weight="bold" textLength="149.0" lengthAdjust="spacingAndGlyphs">beneath isolater,w/o control</text>
<text x="367.8" y="1174.2" font-size="11.5" text-anchor="start" font-weight="bold" textLength="152.0" lengthAdjust="spacingAndGlyphs">beneath isolater,with control</text>
<clipPath id="c2clip"><rect x="661.3" y="832.2" width="446.1" height="351.2"/></clipPath>
<g clip-path="url(#c2clip)" fill="none" stroke-linejoin="round" stroke-linecap="round">
<path d="M660.2 1008.5 L662.3 1054.1 L662.4 1057.6 L664.6 1061.6 L666.8 1069.0 L667.6 1072.6 L669.0 1068.6 L671.2 1078.1 L673.4 1079.7 L673.9 1085.6 L675.6 1113.4 L676.0 1118.8 L677.8 1090.8 L680.0 1057.2 L680.2 1055.6 L682.2 1030.2 L684.0 1010.0 L684.4 1018.0 L686.5 1056.8 L686.6 1055.1 L688.8 1052.5 L690.7 1050.9 L691.0 1050.1 L693.2 1039.2 L694.9 1034.9 L695.4 1041.6 L697.6 1066.6 L699.1 1076.8 L699.8 1080.1 L702.0 1094.6 L703.3 1097.5 L704.2 1078.5 L706.4 1035.7 L706.4 1036.9 L708.6 1030.9 L710.8 1028.4 L711.7 1023.4 L713.0 963.1 L714.8 877.1 L715.2 868.6 L716.3 854.6 L717.4 878.1 L718.0 887.8 L719.6 985.4 L720.1 1014.0 L721.8 1027.0 L724.0 1047.1 L724.3 1045.9 L726.2 1065.4 L727.4 1077.5 L728.4 1044.7 L730.2 989.1 L730.6 995.6 L732.7 1014.4 L732.8 1013.7 L735.0 1017.8 L735.8 1022.5 L737.2 1038.1 L739.0 1066.8 L739.4 1056.7 L741.6 1002.0 L742.1 993.0 L743.8 961.2 L744.0 959.7 L746.0 1022.0 L746.3 1034.6 L748.2 1067.8 L749.5 1088.3 L750.4 1065.1 L752.6 1023.7 L753.3 1012.1 L754.8 1064.6 L755.8 1098.6 L757.0 1110.8 L757.9 1123.4 L759.2 1064.8 L760.0 1035.5 L761.4 995.8 L762.1 978.1 L763.6 1017.5 L764.2 1035.7 L765.8 1063.7 L767.3 1087.8 L768.0 1059.6 L770.1 972.1 L770.2 968.2 L772.0 941.2 L772.4 951.0 L774.3 994.0 L774.6 986.5 L776.8 971.8 L776.8 973.1 L778.9 1035.1 L779.0 1040.5 L781.0 1097.0 L781.2 1091.9 L783.4 1079.6 L785.2 1067.5 L785.6 1069.5 L787.8 1069.9 L789.4 1070.5 L790.0 1077.2 L792.2 1095.8 L793.6 1109.0 L794.4 1110.1 L796.6 1122.6 L797.8 1127.3 L798.8 1121.4 L801.0 1105.2 L802.0 1100.0 L803.2 1105.8 L805.4 1111.3 L806.2 1106.7 L807.6 1102.6 L809.8 1094.5 L812.0 1090.6 L812.5 1085.6 L814.2 1106.7 L816.4 1127.4 L816.7 1126.6 L818.6 1092.6 L820.8 1055.5 L820.9 1056.0 L823.0 987.0 L825.1 920.3 L825.2 917.3 L827.2 894.6 L827.4 901.4 L829.3 951.7 L829.6 973.4 L831.4 1077.5 L831.8 1076.2 L834.0 1089.7 L835.6 1097.5 L836.2 1107.0 L838.4 1123.8 L839.8 1133.4 L840.6 1127.4 L842.8 1116.7 L844.0 1107.9 L845.0 1108.6 L847.2 1119.1 L849.2 1124.2 L849.4 1118.1 L851.6 1067.0 L853.4 1025.7 L853.8 1027.4 L856.0 1052.1 L856.6 1056.5 L858.2 1069.2 L860.4 1087.6 L861.8 1098.1 L862.6 1104.8 L864.8 1118.4 L865.0 1122.9 L867.0 1109.8 L869.2 1092.8 L871.3 1080.8 L871.4 1079.4 L873.6 1089.6 L875.5 1098.3 L875.8 1085.8 L878.0 1014.4 L880.0 951.5 L880.2 951.4 L882.4 942.4 L882.5 935.8 L884.6 993.3 L884.6 993.7 L886.3 1077.0 L886.8 1081.4 L889.0 1089.4 L889.4 1088.4 L891.2 1068.6 L892.6 1055.1 L893.4 1064.8 L895.1 1087.4 L895.6 1096.5 L897.8 1127.1 L897.8 1132.7 L900.0 1146.0 L901.0 1152.4 L902.2 1137.9 L904.1 1118.8 L904.4 1113.2 L906.2 1077.3 L906.6 1065.4 L908.8 1008.2 L909.4 993.0 L911.0 1012.9 L911.5 1013.7 L913.2 1085.7 L913.6 1097.7 L915.4 1104.6 L917.6 1116.3 L917.8 1118.2 L919.8 1126.3 L920.9 1130.4 L922.0 1124.5 L924.2 1114.7 L925.1 1109.8 L926.4 1113.0 L928.6 1118.9 L930.4 1123.1 L930.8 1096.3 L931.4 1066.8 L933.0 1050.2 L935.2 1039.6 L935.6 1035.0 L937.4 1019.4 L938.4 1007.6 L939.6 1019.8 L940.9 1035.1 L941.8 1062.6 L943.0 1097.9 L944.0 1103.4 L946.2 1113.9 L947.2 1118.8 L948.4 1111.5 L950.6 1104.6 L952.4 1096.8 L952.8 1093.7 L955.0 1069.5 L956.6 1056.8 L957.2 1058.5 L959.4 1042.8 L960.8 1045.6 L961.6 1040.4 L963.8 1024.7 L964.0 1027.0 L966.0 1037.7 L967.1 1044.6 L968.2 1063.4 L970.3 1097.9 L970.4 1099.2 L972.6 1108.8 L973.4 1117.4 L974.8 1112.7 L977.0 1097.4 L977.6 1097.5 L979.2 1091.4 L981.4 1081.1 L982.9 1078.5 L983.6 1079.5 L985.8 1081.2 L987.1 1087.0 L988.0 1074.7 L990.2 1046.4 L990.2 1045.2 L992.4 993.6 L993.4 971.2 L994.6 973.4 L995.9 977.1 L996.8 1019.6 L997.6 1056.3 L999.0 1096.9 L999.7 1115.0 L1001.2 1115.8 L1003.4 1131.5 L1003.9 1127.3 L1005.6 1101.7 L1007.0 1080.4 L1007.8 1085.9 L1010.0 1106.6 L1011.2 1115.7 L1012.2 1110.2 L1014.4 1097.1 L1015.4 1088.1 L1016.6 1090.6 L1018.8 1098.6 L1019.6 1098.5 L1021.0 1100.5 L1023.2 1107.5 L1024.9 1109.3 L1025.4 1114.3 L1027.6 1134.3 L1028.0 1139.5 L1029.8 1106.8 L1030.1 1097.9 L1031.2 1043.4 L1032.0 1052.2 L1034.2 1078.4 L1034.3 1076.1 L1036.4 1084.8 L1038.6 1094.4 L1039.6 1093.2 L1040.8 1101.4 L1043.0 1103.6 L1045.2 1105.2 L1045.9 1108.6 L1047.4 1071.1 L1049.6 1023.2 L1050.1 1014.7 L1051.8 1047.7 L1052.2 1056.7 L1054.0 1065.0 L1056.2 1079.0 L1056.4 1077.0 L1058.4 1081.0 L1060.6 1097.6 L1060.6 1098.1 L1062.8 1078.3 L1064.8 1065.3 L1065.0 1068.1 L1067.2 1068.5 L1069.4 1068.7 L1071.1 1076.7 L1071.6 1068.7 L1073.8 1028.1 L1075.3 1004.1 L1076.0 1021.0 L1078.2 1062.6 L1078.4 1066.1 L1080.4 1083.8 L1081.6 1098.0 L1082.6 1102.2 L1084.8 1102.8 L1086.8 1104.7 L1087.0 1102.0 L1089.2 1092.6 L1091.4 1079.0 L1092.1 1076.8 L1093.6 1072.5 L1095.8 1071.5 L1098.0 1075.3 L1098.4 1076.1 L1100.2 1050.7 L1101.5 1035.3 L1102.4 1020.4 L1104.6 989.9 L1104.7 985.0 L1106.8 1013.7 L1106.8 1017.0 L1107.4 1035.1" stroke="#cacaca" stroke-width="6"/>
<path d="M661.3 963.1 L662.3 993.7 L662.5 1008.9 L663.4 1085.4 L663.8 1091.1 L665.0 1080.8 L665.5 1085.4 L666.3 1086.1 L667.5 1092.5 L667.6 1099.7 L668.8 1099.3 L670.0 1112.0 L670.7 1116.5 L671.3 1118.6 L672.5 1125.2 L673.8 1133.6 L673.9 1134.7 L675.0 1117.4 L676.0 1109.3 L676.3 1113.4 L677.5 1131.4 L678.1 1127.1 L678.8 1100.4 L680.0 1061.1 L680.2 1053.6 L681.3 1067.0 L682.3 1077.1 L682.5 1075.1 L683.8 1045.2 L684.4 1034.9 L685.0 1047.6 L686.3 1089.6 L686.5 1099.0 L687.5 1141.6 L687.5 1140.2 L688.8 1100.0 L689.6 1077.5 L690.0 1077.5 L691.3 1068.1 L692.5 1076.9 L692.8 1073.1 L693.8 1049.0 L695.0 1012.9 L695.3 1008.9 L696.3 1030.9 L697.0 1045.4 L697.5 1045.8 L698.8 1053.3 L699.1 1056.9 L700.0 1072.4 L701.3 1098.5 L702.2 1113.4 L702.5 1113.7 L703.8 1097.8 L705.0 1080.7 L705.4 1075.4 L706.3 1068.1 L707.5 1054.4 L707.5 1053.5 L708.8 1034.8 L710.0 1013.3 L710.0 1011.8 L711.3 1007.5 L712.5 1020.0 L712.7 1012.0 L713.8 955.9 L714.8 901.8 L715.0 900.3 L716.3 894.7 L716.3 889.5 L717.5 917.1 L718.0 931.0 L718.8 986.7 L719.0 1000.0 L720.0 1004.0 L721.3 1006.2 L722.2 999.7 L722.5 1007.4 L723.8 1024.4 L724.3 1036.2 L725.0 1039.2 L726.3 1053.2 L727.4 1045.3 L727.5 1049.9 L728.8 1042.4 L729.5 1032.6 L730.0 1046.2 L731.3 1076.9 L732.5 1106.5 L732.7 1108.1 L733.8 1089.0 L735.0 1070.5 L735.8 1055.2 L736.3 1053.5 L737.5 1050.9 L738.8 1049.1 L739.0 1049.0 L740.0 1038.1 L741.3 1031.7 L742.1 1035.1 L742.5 1020.0 L743.6 990.5 L743.8 995.9 L745.0 1029.8 L745.3 1034.3 L746.3 1055.2 L747.4 1071.1 L747.5 1072.3 L748.8 1049.7 L750.0 1033.9 L750.5 1031.6 L751.3 1034.3 L752.5 1041.4 L752.6 1045.0 L753.8 1039.9 L755.0 1029.2 L755.8 1024.5 L756.3 1034.4 L757.5 1047.1 L757.9 1053.4 L758.8 1043.8 L760.0 1035.8 L760.0 1036.5 L761.3 1008.5 L762.1 986.7 L762.5 1001.2 L763.8 1045.2 L764.2 1055.7 L765.0 1072.7 L766.3 1092.2 L766.3 1089.8 L767.5 1070.2 L768.4 1055.9 L768.8 1038.1 L770.0 970.0 L770.1 961.4 L771.3 948.5 L771.5 943.1 L772.5 961.4 L773.0 967.8 L773.8 1025.5 L774.7 1098.5 L775.0 1074.4 L776.3 1009.3 L776.4 1005.7 L777.5 1048.1 L778.8 1102.8 L778.9 1105.0 L780.0 1085.3 L781.0 1075.6 L781.3 1083.1 L782.5 1099.7 L783.8 1114.8 L784.1 1122.9 L785.0 1115.5 L786.3 1105.4 L787.3 1099.1 L787.5 1100.0 L788.8 1106.7 L790.0 1103.2 L791.3 1097.9 L791.5 1095.3 L792.5 1089.9 L793.8 1076.6 L794.6 1065.1 L795.0 1068.6 L796.3 1058.6 L796.7 1057.1 L797.5 1022.9 L798.8 972.2 L798.8 969.1 L800.0 1023.3 L800.9 1056.1 L801.3 1059.9 L802.5 1078.2 L803.8 1092.8 L804.1 1098.2 L805.0 1089.7 L806.3 1080.0 L807.2 1073.2 L807.5 1071.2 L808.8 1082.2 L810.0 1090.4 L810.4 1094.6 L811.3 1083.4 L812.5 1079.0 L813.5 1077.0 L813.8 1083.3 L815.0 1105.4 L815.6 1116.2 L816.3 1105.4 L817.5 1091.6 L817.7 1088.8 L818.8 1098.5 L820.0 1109.7 L820.9 1117.2 L821.3 1103.9 L822.5 1073.1 L823.0 1062.1 L823.8 1020.9 L825.0 954.4 L825.5 929.2 L826.3 921.3 L826.8 913.3 L827.5 936.7 L828.8 981.0 L828.9 982.7 L830.0 1068.4 L830.3 1086.5 L831.3 1100.9 L832.5 1100.1 L833.5 1110.2 L833.8 1107.5 L835.0 1099.3 L836.3 1094.7 L836.6 1095.1 L837.5 1101.2 L838.8 1117.0 L839.8 1128.9 L840.0 1120.8 L841.3 1119.1 L842.5 1104.0 L842.9 1098.0 L843.8 1090.2 L845.0 1069.9 L845.0 1070.5 L846.3 1091.1 L847.1 1097.1 L847.5 1084.2 L848.8 1065.1 L850.0 1056.0 L850.3 1056.8 L851.3 1045.2 L852.5 1035.1 L853.8 1027.2 L854.1 1021.2 L855.0 1044.1 L856.3 1072.7 L856.6 1077.3 L857.5 1101.0 L858.7 1127.0 L858.8 1126.9 L860.0 1101.9 L861.3 1084.0 L861.8 1073.7 L862.5 1075.7 L863.8 1084.1 L865.0 1103.7 L865.0 1106.3 L866.3 1107.5 L867.5 1105.1 L868.8 1092.4 L869.2 1094.8 L870.0 1098.9 L871.3 1082.0 L872.3 1084.0 L872.5 1087.0 L873.8 1115.9 L874.4 1128.4 L875.0 1117.8 L876.3 1093.8 L877.5 1064.7 L877.6 1066.7 L878.8 1019.2 L880.0 972.4 L880.0 978.3 L881.3 966.4 L882.1 964.8 L882.5 976.4 L883.8 1013.8 L883.8 1017.0 L885.0 1075.3 L885.2 1088.3 L886.3 1102.0 L887.3 1114.5 L887.5 1107.8 L888.8 1104.2 L889.4 1098.5 L890.0 1083.6 L891.3 1071.6 L891.5 1065.6 L892.5 1066.4 L893.0 1064.8 L893.8 1093.3 L894.7 1114.4 L895.0 1106.1 L896.3 1098.8 L897.5 1087.4 L897.8 1085.2 L898.8 1096.1 L899.9 1123.9 L900.0 1121.3 L901.3 1134.3 L902.5 1142.6 L902.7 1145.3 L903.8 1118.7 L904.8 1097.4 L905.0 1097.2 L906.2 1084.2 L906.3 1081.3 L907.5 1057.1 L908.3 1035.2 L908.8 1018.6 L909.8 987.3 L910.0 990.8 L911.3 1031.9 L911.5 1034.7 L912.5 1075.6 L913.2 1097.2 L913.8 1108.1 L914.6 1129.0 L915.0 1124.5 L916.3 1112.7 L916.7 1108.1 L917.5 1099.4 L918.8 1077.8 L918.8 1080.3 L920.0 1096.3 L920.9 1107.7 L921.3 1108.4 L922.5 1121.0 L923.0 1125.1 L923.8 1114.9 L925.0 1104.1 L925.1 1098.7 L926.3 1093.8 L927.2 1081.2 L927.5 1084.3 L928.8 1100.5 L929.3 1112.3 L930.0 1099.0 L931.3 1098.3 L932.5 1094.3 L932.5 1097.4 L933.8 1076.9 L935.0 1055.3 L935.0 1057.1 L936.3 1037.8 L937.5 1027.4 L937.7 1022.3 L938.8 1041.5 L939.8 1057.7 L940.0 1067.1 L941.3 1124.5 L941.3 1119.1 L942.5 1099.2 L943.8 1084.4 L944.0 1078.2 L945.0 1069.0 L946.3 1065.2 L946.8 1060.4 L947.5 1074.9 L948.8 1099.1 L948.9 1097.9 L950.0 1113.1 L951.3 1128.5 L951.4 1134.0 L952.5 1104.8 L953.5 1077.4 L953.8 1074.6 L955.0 1055.9 L956.0 1050.9 L956.3 1056.0 L957.5 1084.5 L958.1 1098.5 L958.8 1100.6 L960.0 1122.9 L960.2 1125.1 L961.3 1079.8 L962.3 1035.9 L962.5 1034.7 L963.8 1014.5 L964.6 1013.7 L965.0 1023.9 L966.3 1051.5 L966.5 1055.1 L967.5 1076.0 L968.2 1096.6 L968.8 1089.4 L970.0 1072.7 L970.7 1062.4 L971.3 1075.0 L972.5 1047.0 L973.8 1062.2 L974.1 1066.9 L975.0 1084.4 L976.2 1108.7 L976.3 1107.0 L977.5 1131.2 L978.1 1132.9 L978.8 1123.8 L980.0 1103.6 L980.4 1097.3 L981.3 1089.1 L982.5 1066.6 L983.3 1060.6 L983.8 1071.7 L985.0 1097.7 L985.0 1100.0 L986.3 1118.4 L986.7 1120.7 L987.5 1092.6 L988.8 1055.6 L988.8 1054.7 L990.0 1040.4 L990.9 1026.4 L991.3 1025.1 L992.5 1013.7 L993.4 1006.9 L993.8 1006.5 L995.0 986.9 L996.1 979.4 L996.3 989.9 L997.5 1030.2 L997.6 1035.0 L998.8 1100.8 L998.9 1108.2 L1000.0 1094.0 L1001.3 1090.6 L1001.4 1091.1 L1002.5 1099.1 L1003.8 1113.1 L1003.9 1106.7 L1005.0 1101.2 L1006.0 1091.6 L1006.3 1091.7 L1007.5 1094.0 L1008.5 1099.8 L1008.8 1101.0 L1010.0 1101.6 L1011.2 1088.1 L1011.3 1085.3 L1012.5 1102.2 L1013.8 1099.1 L1014.4 1103.6 L1015.0 1103.6 L1016.3 1113.5 L1016.5 1118.7 L1017.5 1103.3 L1018.6 1076.8 L1018.8 1071.3 L1020.0 1060.3 L1020.3 1059.9 L1021.3 1081.1 L1022.5 1117.4 L1022.8 1123.7 L1023.8 1117.2 L1025.0 1109.2 L1025.9 1098.6 L1026.3 1097.5 L1027.5 1120.8 L1028.0 1122.5 L1028.8 1097.4 L1030.0 1069.6 L1030.1 1066.5 L1031.3 1087.6 L1032.2 1102.5 L1032.5 1098.6 L1033.8 1098.4 L1035.0 1094.0 L1035.0 1094.2 L1036.3 1097.4 L1037.5 1112.5 L1037.5 1111.8 L1038.8 1093.1 L1039.6 1087.7 L1040.0 1086.8 L1041.3 1074.9 L1042.5 1062.4 L1042.7 1062.4 L1043.8 1047.5 L1044.8 1026.1 L1045.0 1026.9 L1046.3 1011.0 L1047.4 995.9 L1047.5 1002.8 L1048.8 1018.2 L1049.7 1035.6 L1050.0 1048.0 L1051.1 1095.0 L1051.3 1090.8 L1052.5 1080.0 L1053.8 1060.4 L1053.9 1062.3 L1055.0 1072.3 L1056.3 1094.0 L1056.4 1093.3 L1057.5 1085.8 L1058.8 1084.8 L1059.5 1073.6 L1060.0 1085.7 L1061.3 1086.7 L1062.3 1092.1 L1062.5 1095.7 L1063.8 1076.3 L1065.0 1059.4 L1065.8 1053.1 L1066.3 1056.5 L1067.5 1079.6 L1068.8 1096.3 L1069.0 1103.4 L1070.0 1094.1 L1071.3 1073.2 L1071.5 1075.8 L1072.5 1054.8 L1073.6 1033.7 L1073.8 1030.1 L1075.0 999.0 L1075.3 992.5 L1076.3 1011.6 L1077.4 1035.3 L1077.5 1042.9 L1078.8 1075.9 L1079.1 1079.1 L1080.0 1078.7 L1081.3 1065.0 L1082.5 1064.8 L1082.6 1061.1 L1083.8 1076.5 L1084.7 1082.3 L1085.0 1083.7 L1086.3 1101.2 L1087.5 1115.4 L1087.5 1108.0 L1088.8 1103.6 L1090.0 1098.1 L1090.0 1098.1 L1091.3 1080.1 L1092.5 1068.7 L1092.5 1067.4 L1093.8 1081.4 L1095.0 1083.0 L1095.2 1079.4 L1096.3 1062.7 L1097.5 1058.5 L1098.4 1051.1 L1098.8 1049.8 L1100.0 1051.3 L1100.5 1045.1 L1101.3 1020.3 L1102.5 992.7 L1102.6 989.5 L1103.8 1005.7 L1104.7 1013.1 L1105.0 1025.6 L1106.3 1062.4 L1106.4 1067.0 L1107.4 1087.1" stroke="#000" stroke-width="3.1"/>
</g>
<rect x="661.3" y="832.2" width="446.1" height="351.2" fill="none" stroke="#000" stroke-width="1.5"/>
<text x="661.3" y="1202.5" font-size="13.8" text-anchor="middle" font-weight="bold" >0</text>
<text x="772.8" y="1202.5" font-size="13.8" text-anchor="middle" font-weight="bold" >50</text>
<text x="884.3" y="1202.5" font-size="13.8" text-anchor="middle" font-weight="bold" >100</text>
<text x="995.9" y="1202.5" font-size="13.8" text-anchor="middle" font-weight="bold" >150</text>
<text x="1107.4" y="1202.5" font-size="13.8" text-anchor="middle" font-weight="bold" >200</text>
<text x="657.3" y="1188.0" font-size="13.8" text-anchor="end" font-weight="bold" >-40</text>
<text x="657.3" y="1144.1" font-size="13.8" text-anchor="end" font-weight="bold" >-30</text>
<text x="657.3" y="1100.2" font-size="13.8" text-anchor="end" font-weight="bold" >-20</text>
<text x="657.3" y="1056.3" font-size="13.8" text-anchor="end" font-weight="bold" >-10</text>
<text x="657.3" y="1012.4" font-size="13.8" text-anchor="end" font-weight="bold" >0</text>
<text x="657.3" y="968.5" font-size="13.8" text-anchor="end" font-weight="bold" >10</text>
<text x="657.3" y="924.6" font-size="13.8" text-anchor="end" font-weight="bold" >20</text>
<text x="657.3" y="880.7" font-size="13.8" text-anchor="end" font-weight="bold" >30</text>
<text x="657.3" y="836.8" font-size="13.8" text-anchor="end" font-weight="bold" >40</text>
<text x="662.4" y="828.6" font-size="13.8" text-anchor="middle" font-weight="bold" >0</text>
<text x="717.7" y="828.6" font-size="13.8" text-anchor="middle" font-weight="bold" >1</text>
<text x="773.1" y="828.6" font-size="13.8" text-anchor="middle" font-weight="bold" >2</text>
<text x="828.4" y="828.6" font-size="13.8" text-anchor="middle" font-weight="bold" >3</text>
<text x="883.8" y="828.6" font-size="13.8" text-anchor="middle" font-weight="bold" >4</text>
<text x="939.1" y="828.6" font-size="13.8" text-anchor="middle" font-weight="bold" >5</text>
<text x="994.5" y="828.6" font-size="13.8" text-anchor="middle" font-weight="bold" >6</text>
<text x="1049.8" y="828.6" font-size="13.8" text-anchor="middle" font-weight="bold" >7</text>
<text x="1105.2" y="828.6" font-size="13.8" text-anchor="middle" font-weight="bold" >8</text>
<path d="M661.3 1183.4 v-4.5 M772.8 1183.4 v-4.5 M884.3 1183.4 v-4.5 M995.9 1183.4 v-4.5 M1107.4 1183.4 v-4.5 M661.3 1183.3 h4.5 M1107.4 1183.3 h-4.5 M661.3 1139.4 h4.5 M1107.4 1139.4 h-4.5 M661.3 1095.5 h4.5 M1107.4 1095.5 h-4.5 M661.3 1051.6 h4.5 M1107.4 1051.6 h-4.5 M661.3 1007.7 h4.5 M1107.4 1007.7 h-4.5 M661.3 963.8 h4.5 M1107.4 963.8 h-4.5 M661.3 919.9 h4.5 M1107.4 919.9 h-4.5 M661.3 876.0 h4.5 M1107.4 876.0 h-4.5 M661.3 832.1 h4.5 M1107.4 832.1 h-4.5 M662.1 832.2 v4.5 M717.4 832.2 v4.5 M772.8 832.2 v4.5 M828.1 832.2 v4.5 M883.5 832.2 v4.5 M938.8 832.2 v4.5 M994.2 832.2 v4.5 M1049.5 832.2 v4.5 M1104.9 832.2 v4.5" stroke="#000" stroke-width="1.5" fill="none"/>
<text x="884.5" y="810.0" font-size="14.3" text-anchor="middle" font-weight="bold" textLength="104" lengthAdjust="spacingAndGlyphs">Harmonic order</text>
<text x="884.5" y="1221.8" font-size="14.3" text-anchor="middle" font-weight="bold" textLength="104" lengthAdjust="spacingAndGlyphs">Frequency (Hz)</text>
<text transform="translate(627.5 1007.3) rotate(-90)" font-size="14.3" font-weight="bold" text-anchor="middle" textLength="250" lengthAdjust="spacingAndGlyphs">Sound pressure (dB re arbitrary units)</text>
<rect x="981.4" y="842.4" width="114.9" height="37.2" fill="#fff" stroke="#000" stroke-width="1"/>
<path d="M985.6 852.7 H1026" stroke="#cacaca" stroke-width="6.5"/>
<path d="M985.6 869.7 H1026" stroke="#000" stroke-width="3"/>
<text x="1029.5" y="856.9" font-size="11.5" text-anchor="start" font-weight="bold" textLength="59.5" lengthAdjust="spacingAndGlyphs">w/o control</text>
<text x="1029.5" y="873.9" font-size="11.5" text-anchor="start" font-weight="bold" textLength="62.5" lengthAdjust="spacingAndGlyphs">with control</text>
<rect x="393.5" y="1505.5" width="16.0" height="25.0" fill="#fff" stroke="#000" stroke-width="1.15"/>
<rect x="419.5" y="1393.5" width="16.0" height="112.0" fill="#fff" stroke="#000" stroke-width="1.15"/>
<rect x="445.5" y="1333.5" width="16.0" height="172.0" fill="#fff" stroke="#000" stroke-width="1.15"/>
<rect x="471.5" y="1423.5" width="16.0" height="82.0" fill="#fff" stroke="#000" stroke-width="1.15"/>
<rect x="497.5" y="1362.5" width="16.0" height="143.0" fill="#fff" stroke="#000" stroke-width="1.15"/>
<rect x="523.5" y="1341.5" width="16.0" height="164.0" fill="#fff" stroke="#000" stroke-width="1.15"/>
<rect x="549.5" y="1381.5" width="16.0" height="124.0" fill="#fff" stroke="#000" stroke-width="1.15"/>
<rect x="575.5" y="1320.5" width="16.0" height="185.0" fill="#fff" stroke="#000" stroke-width="1.15"/>
<rect x="601.5" y="1362.5" width="16.0" height="143.0" fill="#fff" stroke="#000" stroke-width="1.15"/>
<rect x="627.5" y="1326.5" width="16.0" height="179.0" fill="#fff" stroke="#000" stroke-width="1.15"/>
<rect x="653.5" y="1412.5" width="16.0" height="93.0" fill="#fff" stroke="#000" stroke-width="1.15"/>
<rect x="679.5" y="1367.5" width="16.0" height="138.0" fill="#fff" stroke="#000" stroke-width="1.15"/>
<rect x="705.5" y="1479.5" width="16.0" height="26.0" fill="#fff" stroke="#000" stroke-width="1.15"/>
<rect x="731.5" y="1460.5" width="16.0" height="45.0" fill="#fff" stroke="#000" stroke-width="1.15"/>
<rect x="757.5" y="1481.5" width="16.0" height="24.0" fill="#fff" stroke="#000" stroke-width="1.15"/>
<rect x="783.5" y="1490.5" width="16.0" height="15.0" fill="#fff" stroke="#000" stroke-width="1.15"/>
<rect x="396.5" y="1505.5" width="10.0" height="11.0" fill="#cbcbcb" stroke="#000" stroke-width="1.15"/>
<rect x="422.5" y="1350.5" width="10.0" height="155.0" fill="#cbcbcb" stroke="#000" stroke-width="1.15"/>
<rect x="448.5" y="1381.5" width="10.0" height="124.0" fill="#cbcbcb" stroke="#000" stroke-width="1.15"/>
<rect x="474.5" y="1475.5" width="10.0" height="30.0" fill="#cbcbcb" stroke="#000" stroke-width="1.15"/>
<rect x="500.5" y="1468.5" width="10.0" height="37.0" fill="#cbcbcb" stroke="#000" stroke-width="1.15"/>
<rect x="526.5" y="1485.5" width="10.0" height="20.0" fill="#cbcbcb" stroke="#000" stroke-width="1.15"/>
<rect x="552.5" y="1423.5" width="10.0" height="82.0" fill="#cbcbcb" stroke="#000" stroke-width="1.15"/>
<rect x="578.5" y="1505.5" width="10.0" height="18.0" fill="#cbcbcb" stroke="#000" stroke-width="1.15"/>
<rect x="604.5" y="1414.5" width="10.0" height="91.0" fill="#cbcbcb" stroke="#000" stroke-width="1.15"/>
<rect x="630.5" y="1416.5" width="10.0" height="89.0" fill="#cbcbcb" stroke="#000" stroke-width="1.15"/>
<rect x="656.5" y="1436.5" width="10.0" height="69.0" fill="#cbcbcb" stroke="#000" stroke-width="1.15"/>
<rect x="682.5" y="1502.5" width="10.0" height="3.0" fill="#cbcbcb" stroke="#000" stroke-width="1.15"/>
<rect x="708.5" y="1483.5" width="10.0" height="22.0" fill="#cbcbcb" stroke="#000" stroke-width="1.15"/>
<rect x="734.5" y="1498.5" width="10.0" height="7.0" fill="#cbcbcb" stroke="#000" stroke-width="1.15"/>
<rect x="760.5" y="1465.5" width="10.0" height="40.0" fill="#cbcbcb" stroke="#000" stroke-width="1.15"/>
<rect x="786.5" y="1505.5" width="10.0" height="4.0" fill="#cbcbcb" stroke="#000" stroke-width="1.15"/>
<rect x="398.5" y="1505.5" width="6.0" height="32.0" fill="#808080" stroke="#000" stroke-width="1.15"/>
<rect x="424.5" y="1391.5" width="6.0" height="114.0" fill="#808080" stroke="#000" stroke-width="1.15"/>
<rect x="450.5" y="1405.5" width="6.0" height="100.0" fill="#808080" stroke="#000" stroke-width="1.15"/>
<rect x="476.5" y="1490.5" width="6.0" height="15.0" fill="#808080" stroke="#000" stroke-width="1.15"/>
<rect x="502.5" y="1505.5" width="6.0" height="6.0" fill="#808080" stroke="#000" stroke-width="1.15"/>
<rect x="528.5" y="1451.5" width="6.0" height="54.0" fill="#808080" stroke="#000" stroke-width="1.15"/>
<rect x="554.5" y="1505.5" width="6.0" height="32.0" fill="#808080" stroke="#000" stroke-width="1.15"/>
<rect x="580.5" y="1417.5" width="6.0" height="88.0" fill="#808080" stroke="#000" stroke-width="1.15"/>
<rect x="606.5" y="1505.5" width="6.0" height="18.0" fill="#808080" stroke="#000" stroke-width="1.15"/>
<rect x="632.5" y="1458.5" width="6.0" height="47.0" fill="#808080" stroke="#000" stroke-width="1.15"/>
<rect x="658.5" y="1443.5" width="6.0" height="62.0" fill="#808080" stroke="#000" stroke-width="1.15"/>
<rect x="684.5" y="1386.5" width="6.0" height="119.0" fill="#808080" stroke="#000" stroke-width="1.15"/>
<rect x="710.5" y="1505.5" width="6.0" height="91.0" fill="#808080" stroke="#000" stroke-width="1.15"/>
<rect x="736.5" y="1505.5" width="6.0" height="58.0" fill="#808080" stroke="#000" stroke-width="1.15"/>
<rect x="762.5" y="1505.5" width="6.0" height="11.0" fill="#808080" stroke="#000" stroke-width="1.15"/>
<rect x="788.5" y="1491.5" width="6.0" height="14.0" fill="#808080" stroke="#000" stroke-width="1.15"/>
<path d="M372.6 1505.0 H820.0" stroke="#000" stroke-width="1.2"/>
<rect x="372.6" y="1294.4" width="447.4" height="351.5" fill="none" stroke="#000" stroke-width="1.3"/>
<text x="375.0" y="1666.0" font-size="13.8" text-anchor="middle" font-weight="bold" >0</text>
<text x="427.0" y="1666.0" font-size="13.8" text-anchor="middle" font-weight="bold" >1</text>
<text x="479.0" y="1666.0" font-size="13.8" text-anchor="middle" font-weight="bold" >2</text>
<text x="531.0" y="1666.0" font-size="13.8" text-anchor="middle" font-weight="bold" >3</text>
<text x="583.0" y="1666.0" font-size="13.8" text-anchor="middle" font-weight="bold" >4</text>
<text x="635.0" y="1666.0" font-size="13.8" text-anchor="middle" font-weight="bold" >5</text>
<text x="687.0" y="1666.0" font-size="13.8" text-anchor="middle" font-weight="bold" >6</text>
<text x="739.0" y="1666.0" font-size="13.8" text-anchor="middle" font-weight="bold" >7</text>
<text x="791.0" y="1666.0" font-size="13.8" text-anchor="middle" font-weight="bold" >8</text>
<text x="367.0" y="1650.3" font-size="13.8" text-anchor="end" font-weight="bold" >-10</text>
<text x="367.0" y="1580.0" font-size="13.8" text-anchor="end" font-weight="bold" >-5</text>
<text x="367.0" y="1509.7" font-size="13.8" text-anchor="end" font-weight="bold" >0</text>
<text x="367.0" y="1439.4" font-size="13.8" text-anchor="end" font-weight="bold" >5</text>
<text x="367.0" y="1369.1" font-size="13.8" text-anchor="end" font-weight="bold" >10</text>
<path d="M375.0 1645.9 v-4.5 M375.0 1294.4 v4.5 M427.0 1645.9 v-4.5 M427.0 1294.4 v4.5 M479.0 1645.9 v-4.5 M479.0 1294.4 v4.5 M531.0 1645.9 v-4.5 M531.0 1294.4 v4.5 M583.0 1645.9 v-4.5 M583.0 1294.4 v4.5 M635.0 1645.9 v-4.5 M635.0 1294.4 v4.5 M687.0 1645.9 v-4.5 M687.0 1294.4 v4.5 M739.0 1645.9 v-4.5 M739.0 1294.4 v4.5 M791.0 1645.9 v-4.5 M791.0 1294.4 v4.5 M372.6 1645.6 h4.5 M820.0 1645.6 h-4.5 M372.6 1575.3 h4.5 M820.0 1575.3 h-4.5 M372.6 1505.0 h4.5 M820.0 1505.0 h-4.5 M372.6 1434.7 h4.5 M820.0 1434.7 h-4.5 M372.6 1364.4 h4.5 M820.0 1364.4 h-4.5" stroke="#000" stroke-width="1.5" fill="none"/>
<text x="596.4" y="1685.5" font-size="14.3" text-anchor="middle" font-weight="bold" textLength="104.5" lengthAdjust="spacingAndGlyphs">Harmonic order</text>
<text transform="translate(339.6 1464.5) rotate(-90)" font-size="14.3" font-weight="bold" text-anchor="middle" textLength="108" lengthAdjust="spacingAndGlyphs">Reduction(dB)</text>
<rect x="382" y="1583.6" width="191.7" height="52.9" fill="#fff" stroke="#000" stroke-width="1"/>
<rect x="386" y="1587.6" width="42.5" height="11.9" fill="#fff" stroke="#000" stroke-width="1"/>
<rect x="386" y="1604.2" width="42.5" height="11.9" fill="#cbcbcb" stroke="#000" stroke-width="1"/>
<rect x="386" y="1620.8" width="42.5" height="11.9" fill="#808080" stroke="#000" stroke-width="1"/>
<text x="431.2" y="1598.0" font-size="11.5" text-anchor="start" font-weight="bold" textLength="126.6" lengthAdjust="spacingAndGlyphs">vibration above isolater</text>
<text x="431.2" y="1614.6" font-size="11.5" text-anchor="start" font-weight="bold" textLength="137.1" lengthAdjust="spacingAndGlyphs">vibration beneath isolater</text>
<text x="431.2" y="1631.2" font-size="11.5" text-anchor="start" font-weight="bold" textLength="78.8" lengthAdjust="spacingAndGlyphs">sound presure</text>
<!-- captions -->
<text x="59.7" y="429.7" font-size="21.6" textLength="423.3" lengthAdjust="spacingAndGlyphs" fill="#000">Photographs of the housing the generator</text>
<text x="608.3" y="429.7" font-size="21.6" textLength="467.3" lengthAdjust="spacingAndGlyphs" fill="#000">Schematic of six-input and six-output adaptive</text>
<text x="702.7" y="459.8" font-size="21.6" textLength="257.6" lengthAdjust="spacingAndGlyphs" fill="#000">vibration isolation system</text>
<text x="359.7" y="761.9" font-size="21.6" textLength="452.8" lengthAdjust="spacingAndGlyphs" fill="#000">Block diagram of the adaptive control system</text>
<text x="84.7" y="1254.4" font-size="21.6" textLength="454.4" lengthAdjust="spacingAndGlyphs" fill="#000">Spectra of vibration with and without control</text>
<text x="598.9" y="1254.7" font-size="21.6" textLength="560.1" lengthAdjust="spacingAndGlyphs" fill="#000">Acoustic pressure in the water with and without control</text>
<text x="282.6" y="1725.0" font-size="21.6" textLength="607.4" lengthAdjust="spacingAndGlyphs" fill="#000">Effectiveness of the active control at each engine half-order.</text>
</svg>
</body></html>
